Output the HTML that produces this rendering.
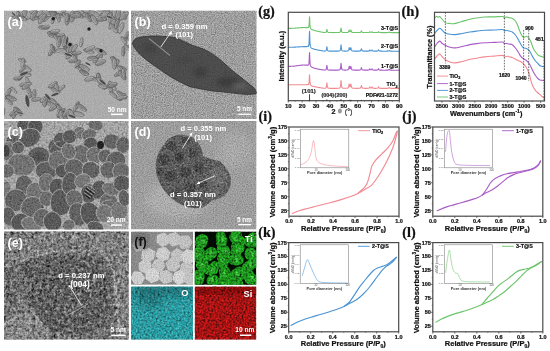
<!DOCTYPE html>
<html><head><meta charset="utf-8"><title>Figure</title>
<style>html,body{margin:0;padding:0;background:#fff;width:550px;height:351px;overflow:hidden}svg{display:block}.pl text{stroke:#111;stroke-width:0.22px;paint-order:stroke}</style>
</head><body>
<svg width="550" height="351" viewBox="0 0 550 351">
<defs>
<filter id="nz" x="0" y="0" width="100%" height="100%"><feTurbulence type="fractalNoise" baseFrequency="0.9" numOctaves="2" seed="3"/><feColorMatrix type="matrix" values="0 0 0 0 0  0 0 0 0 0  0 0 0 0 0  0.9 0.9 0.9 0 -1.1"/></filter>
<filter id="nzw" x="0" y="0" width="100%" height="100%"><feTurbulence type="fractalNoise" baseFrequency="0.9" numOctaves="2" seed="9"/><feColorMatrix type="matrix" values="0 0 0 0 1  0 0 0 0 1  0 0 0 0 1  0.9 0.9 0.9 0 -1.1"/></filter>
<filter id="nzc" x="0" y="0" width="100%" height="100%"><feTurbulence type="fractalNoise" baseFrequency="0.5" numOctaves="2" seed="5"/><feColorMatrix type="matrix" values="0 0 0 0 0  0 0 0 0 0  0 0 0 0 0  1.2 1.2 1.2 0 -1.55"/></filter>
<filter id="nzcw" x="0" y="0" width="100%" height="100%"><feTurbulence type="fractalNoise" baseFrequency="0.5" numOctaves="2" seed="11"/><feColorMatrix type="matrix" values="0 0 0 0 1  0 0 0 0 1  0 0 0 0 1  1.2 1.2 1.2 0 -1.55"/></filter>
<filter id="nzk" x="0" y="0" width="100%" height="100%"><feTurbulence type="fractalNoise" baseFrequency="0.28" numOctaves="3" seed="21"/><feColorMatrix type="matrix" values="0 0 0 0 0  0 0 0 0 0  0 0 0 0 0  1.3 1.3 1.3 0 -1.75"/></filter>
<filter id="nzkw" x="0" y="0" width="100%" height="100%"><feTurbulence type="fractalNoise" baseFrequency="0.28" numOctaves="3" seed="33"/><feColorMatrix type="matrix" values="0 0 0 0 1  0 0 0 0 1  0 0 0 0 1  1.3 1.3 1.3 0 -1.75"/></filter>
<filter id="blur07"><feGaussianBlur stdDeviation="0.7"/></filter>
<filter id="blur1"><feGaussianBlur stdDeviation="0.5"/></filter>
<filter id="blur15"><feGaussianBlur stdDeviation="1.1"/></filter>
<filter id="blur2"><feGaussianBlur stdDeviation="2"/></filter>
<filter id="blur4"><feGaussianBlur stdDeviation="5"/></filter>
<clipPath id="cpa"><rect x="4" y="10.5" width="124.7" height="108.5"/></clipPath>
<clipPath id="cpb"><rect x="131" y="10.5" width="125.7" height="108.5"/></clipPath>
<clipPath id="cpc"><rect x="4" y="121" width="124.7" height="108.5"/></clipPath>
<clipPath id="cpd"><rect x="131" y="121" width="125.5" height="108.5"/></clipPath>
<clipPath id="cpe"><rect x="4" y="231.6" width="124.7" height="108"/></clipPath>
<clipPath id="cpf1"><rect x="131" y="231.6" width="62" height="53.2"/></clipPath>
<clipPath id="cpf2"><rect x="194.7" y="231.6" width="61.6" height="53.2"/></clipPath>
<clipPath id="cpf3"><rect x="131" y="286.5" width="62" height="53.2"/></clipPath>
<clipPath id="cpf4"><rect x="194.7" y="286.5" width="61.6" height="53.2"/></clipPath>
</defs>
<rect width="550" height="351" fill="#fff"/>
<g clip-path="url(#cpa)"><rect x="4" y="10.5" width="124.7" height="108.5" fill="#b0b0b0"/>
<g transform="rotate(13 17.33 17.62)"><ellipse cx="17.33" cy="17.62" rx="5.07" ry="1.81" fill="rgb(121,121,121)" fill-opacity="0.8" stroke="#4e4e4e" stroke-width="0.6" stroke-opacity="0.85"/><path d="M13.27,18.17 Q17.33,20.34 21.38,18.17" fill="none" stroke="#f4f4f4" stroke-width="0.6" opacity="0.55"/></g>
<g transform="rotate(75 18.91 15.27)"><ellipse cx="18.91" cy="15.27" rx="4.48" ry="1.68" fill="rgb(121,121,121)" fill-opacity="0.8" stroke="#4e4e4e" stroke-width="0.6" stroke-opacity="0.85"/><path d="M15.33,15.78 Q18.91,17.79 22.5,15.78" fill="none" stroke="#f4f4f4" stroke-width="0.6" opacity="0.55"/></g>
<g transform="rotate(112 22.63 15.65)"><ellipse cx="22.63" cy="15.65" rx="5.9" ry="2.23" fill="rgb(143,143,143)" fill-opacity="0.8" stroke="#4e4e4e" stroke-width="0.6" stroke-opacity="0.85"/><path d="M17.92,16.32 Q22.63,18.99 27.35,16.32" fill="none" stroke="#f4f4f4" stroke-width="0.6" opacity="0.55"/></g>
<g transform="rotate(23 22.3 18.17)"><ellipse cx="22.3" cy="18.17" rx="4.84" ry="1.81" fill="rgb(137,137,137)" fill-opacity="0.8" stroke="#4e4e4e" stroke-width="0.6" stroke-opacity="0.85"/><path d="M18.43,18.71 Q22.3,20.89 26.17,18.71" fill="none" stroke="#f4f4f4" stroke-width="0.6" opacity="0.55"/></g>
<g transform="rotate(102 24.78 12.79)"><ellipse cx="24.78" cy="12.79" rx="4.38" ry="1.44" fill="rgb(122,122,122)" fill-opacity="0.8" stroke="#4e4e4e" stroke-width="0.6" stroke-opacity="0.85"/><path d="M21.28,13.23 Q24.78,14.96 28.28,13.23" fill="none" stroke="#f4f4f4" stroke-width="0.6" opacity="0.55"/></g>
<g transform="rotate(95 25.16 11.68)"><ellipse cx="25.16" cy="11.68" rx="5.55" ry="2.04" fill="rgb(147,147,147)" fill-opacity="0.8" stroke="#4e4e4e" stroke-width="0.6" stroke-opacity="0.85"/><path d="M20.72,12.29 Q25.16,14.73 29.61,12.29" fill="none" stroke="#f4f4f4" stroke-width="0.6" opacity="0.55"/></g>
<g transform="rotate(140 30.07 16.47)"><ellipse cx="30.07" cy="16.47" rx="4.16" ry="1.46" fill="rgb(149,149,149)" fill-opacity="0.8" stroke="#4e4e4e" stroke-width="0.6" stroke-opacity="0.85"/><path d="M26.74,16.9 Q30.07,18.65 33.4,16.9" fill="none" stroke="#f4f4f4" stroke-width="0.6" opacity="0.55"/></g>
<g transform="rotate(176 33.59 11.86)"><ellipse cx="33.59" cy="11.86" rx="4.24" ry="1.53" fill="rgb(139,139,139)" fill-opacity="0.8" stroke="#4e4e4e" stroke-width="0.6" stroke-opacity="0.85"/><path d="M30.2,12.32 Q33.59,14.16 36.97,12.32" fill="none" stroke="#f4f4f4" stroke-width="0.6" opacity="0.55"/></g>
<g transform="rotate(120 33.72 14.65)"><ellipse cx="33.72" cy="14.65" rx="5.53" ry="2.09" fill="rgb(138,138,138)" fill-opacity="0.8" stroke="#4e4e4e" stroke-width="0.6" stroke-opacity="0.85"/><path d="M29.29,15.27 Q33.72,17.78 38.14,15.27" fill="none" stroke="#f4f4f4" stroke-width="0.6" opacity="0.55"/></g>
<g transform="rotate(143 35.42 17.84)"><ellipse cx="35.42" cy="17.84" rx="4.14" ry="1.36" fill="rgb(135,135,135)" fill-opacity="0.8" stroke="#4e4e4e" stroke-width="0.6" stroke-opacity="0.85"/><path d="M32.11,18.25 Q35.42,19.88 38.73,18.25" fill="none" stroke="#f4f4f4" stroke-width="0.6" opacity="0.55"/></g>
<g transform="rotate(126 40.01 13.83)"><ellipse cx="40.01" cy="13.83" rx="5.29" ry="2.22" fill="rgb(146,146,146)" fill-opacity="0.8" stroke="#4e4e4e" stroke-width="0.6" stroke-opacity="0.85"/><path d="M35.78,14.5 Q40.01,17.16 44.25,14.5" fill="none" stroke="#f4f4f4" stroke-width="0.6" opacity="0.55"/></g>
<g transform="rotate(4 39 18.15)"><ellipse cx="39" cy="18.15" rx="4.92" ry="1.66" fill="rgb(125,125,125)" fill-opacity="0.8" stroke="#4e4e4e" stroke-width="0.6" stroke-opacity="0.85"/><path d="M35.06,18.65 Q39,20.64 42.94,18.65" fill="none" stroke="#f4f4f4" stroke-width="0.6" opacity="0.55"/></g>
<g transform="rotate(132 46.34 17.78)"><ellipse cx="46.34" cy="17.78" rx="4.8" ry="1.97" fill="rgb(149,149,149)" fill-opacity="0.8" stroke="#4e4e4e" stroke-width="0.6" stroke-opacity="0.85"/><path d="M42.5,18.37 Q46.34,20.74 50.17,18.37" fill="none" stroke="#f4f4f4" stroke-width="0.6" opacity="0.55"/></g>
<g transform="rotate(159 43.35 16.55)"><ellipse cx="43.35" cy="16.55" rx="5.64" ry="2.29" fill="rgb(135,135,135)" fill-opacity="0.8" stroke="#4e4e4e" stroke-width="0.6" stroke-opacity="0.85"/><path d="M38.84,17.24 Q43.35,19.99 47.86,17.24" fill="none" stroke="#f4f4f4" stroke-width="0.6" opacity="0.55"/></g>
<g transform="rotate(68 56.45 15.19)"><ellipse cx="56.45" cy="15.19" rx="4.46" ry="1.46" fill="rgb(127,127,127)" fill-opacity="0.8" stroke="#4e4e4e" stroke-width="0.6" stroke-opacity="0.85"/><path d="M52.88,15.63 Q56.45,17.38 60.02,15.63" fill="none" stroke="#f4f4f4" stroke-width="0.6" opacity="0.55"/></g>
<g transform="rotate(106 53.21 19.51)"><ellipse cx="53.21" cy="19.51" rx="4.53" ry="1.45" fill="rgb(144,144,144)" fill-opacity="0.8" stroke="#4e4e4e" stroke-width="0.6" stroke-opacity="0.85"/><path d="M49.59,19.95 Q53.21,21.69 56.83,19.95" fill="none" stroke="#f4f4f4" stroke-width="0.6" opacity="0.55"/></g>
<g transform="rotate(22 53.92 14.18)"><ellipse cx="53.92" cy="14.18" rx="5.72" ry="2.37" fill="rgb(121,121,121)" fill-opacity="0.8" stroke="#4e4e4e" stroke-width="0.6" stroke-opacity="0.85"/><path d="M49.35,14.9 Q53.92,17.74 58.5,14.9" fill="none" stroke="#f4f4f4" stroke-width="0.6" opacity="0.55"/></g>
<g transform="rotate(122 64.12 10.34)"><ellipse cx="64.12" cy="10.34" rx="5.12" ry="1.84" fill="rgb(143,143,143)" fill-opacity="0.8" stroke="#4e4e4e" stroke-width="0.6" stroke-opacity="0.85"/><path d="M60.02,10.89 Q64.12,13.1 68.21,10.89" fill="none" stroke="#f4f4f4" stroke-width="0.6" opacity="0.55"/></g>
<g transform="rotate(12 59.38 15.49)"><ellipse cx="59.38" cy="15.49" rx="4.42" ry="1.49" fill="rgb(139,139,139)" fill-opacity="0.8" stroke="#4e4e4e" stroke-width="0.6" stroke-opacity="0.85"/><path d="M55.85,15.94 Q59.38,17.72 62.92,15.94" fill="none" stroke="#f4f4f4" stroke-width="0.6" opacity="0.55"/></g>
<g transform="rotate(96 67.42 19.27)"><ellipse cx="67.42" cy="19.27" rx="5.9" ry="2.25" fill="rgb(122,122,122)" fill-opacity="0.8" stroke="#4e4e4e" stroke-width="0.6" stroke-opacity="0.85"/><path d="M62.7,19.95 Q67.42,22.65 72.14,19.95" fill="none" stroke="#f4f4f4" stroke-width="0.6" opacity="0.55"/></g>
<g transform="rotate(45 65.86 15.77)"><ellipse cx="65.86" cy="15.77" rx="4.69" ry="1.67" fill="rgb(125,125,125)" fill-opacity="0.8" stroke="#4e4e4e" stroke-width="0.6" stroke-opacity="0.85"/><path d="M62.1,16.27 Q65.86,18.28 69.61,16.27" fill="none" stroke="#f4f4f4" stroke-width="0.6" opacity="0.55"/></g>
<g transform="rotate(86 58.8 17.74)"><ellipse cx="58.8" cy="17.74" rx="4.62" ry="1.55" fill="rgb(139,139,139)" fill-opacity="0.8" stroke="#4e4e4e" stroke-width="0.6" stroke-opacity="0.85"/><path d="M55.11,18.2 Q58.8,20.06 62.5,18.2" fill="none" stroke="#f4f4f4" stroke-width="0.6" opacity="0.55"/></g>
<g transform="rotate(92 67.02 17.38)"><ellipse cx="67.02" cy="17.38" rx="4.41" ry="1.83" fill="rgb(141,141,141)" fill-opacity="0.8" stroke="#4e4e4e" stroke-width="0.6" stroke-opacity="0.85"/><path d="M63.5,17.93 Q67.02,20.13 70.55,17.93" fill="none" stroke="#f4f4f4" stroke-width="0.6" opacity="0.55"/></g>
<g transform="rotate(95 72.34 16.39)"><ellipse cx="72.34" cy="16.39" rx="5.96" ry="2.42" fill="rgb(134,134,134)" fill-opacity="0.8" stroke="#4e4e4e" stroke-width="0.6" stroke-opacity="0.85"/><path d="M67.57,17.11 Q72.34,20.02 77.1,17.11" fill="none" stroke="#f4f4f4" stroke-width="0.6" opacity="0.55"/></g>
<g transform="rotate(40 79.18 14.53)"><ellipse cx="79.18" cy="14.53" rx="5.08" ry="1.88" fill="rgb(132,132,132)" fill-opacity="0.8" stroke="#4e4e4e" stroke-width="0.6" stroke-opacity="0.85"/><path d="M75.12,15.09 Q79.18,17.35 83.25,15.09" fill="none" stroke="#f4f4f4" stroke-width="0.6" opacity="0.55"/></g>
<g transform="rotate(35 80.72 10.51)"><ellipse cx="80.72" cy="10.51" rx="4.48" ry="1.61" fill="rgb(132,132,132)" fill-opacity="0.8" stroke="#4e4e4e" stroke-width="0.6" stroke-opacity="0.85"/><path d="M77.13,10.99 Q80.72,12.93 84.3,10.99" fill="none" stroke="#f4f4f4" stroke-width="0.6" opacity="0.55"/></g>
<g transform="rotate(178 75.55 15.99)"><ellipse cx="75.55" cy="15.99" rx="5.58" ry="2.05" fill="rgb(130,130,130)" fill-opacity="0.8" stroke="#4e4e4e" stroke-width="0.6" stroke-opacity="0.85"/><path d="M71.08,16.6 Q75.55,19.06 80.01,16.6" fill="none" stroke="#f4f4f4" stroke-width="0.6" opacity="0.55"/></g>
<g transform="rotate(168 88.17 14.36)"><ellipse cx="88.17" cy="14.36" rx="5.98" ry="2.48" fill="rgb(141,141,141)" fill-opacity="0.8" stroke="#4e4e4e" stroke-width="0.6" stroke-opacity="0.85"/><path d="M83.38,15.11 Q88.17,18.09 92.95,15.11" fill="none" stroke="#f4f4f4" stroke-width="0.6" opacity="0.55"/></g>
<g transform="rotate(60 88.68 17.45)"><ellipse cx="88.68" cy="17.45" rx="4.97" ry="2.08" fill="rgb(118,118,118)" fill-opacity="0.8" stroke="#4e4e4e" stroke-width="0.6" stroke-opacity="0.85"/><path d="M84.7,18.08 Q88.68,20.57 92.65,18.08" fill="none" stroke="#f4f4f4" stroke-width="0.6" opacity="0.55"/></g>
<g transform="rotate(15 85.89 9.99)"><ellipse cx="85.89" cy="9.99" rx="5.32" ry="2.19" fill="rgb(130,130,130)" fill-opacity="0.8" stroke="#4e4e4e" stroke-width="0.6" stroke-opacity="0.85"/><path d="M81.63,10.64 Q85.89,13.27 90.14,10.64" fill="none" stroke="#f4f4f4" stroke-width="0.6" opacity="0.55"/></g>
<g transform="rotate(59 94.36 19.81)"><ellipse cx="94.36" cy="19.81" rx="5.6" ry="2.34" fill="rgb(143,143,143)" fill-opacity="0.8" stroke="#4e4e4e" stroke-width="0.6" stroke-opacity="0.85"/><path d="M89.87,20.51 Q94.36,23.31 98.84,20.51" fill="none" stroke="#f4f4f4" stroke-width="0.6" opacity="0.55"/></g>
<g transform="rotate(28 94.3 13.11)"><ellipse cx="94.3" cy="13.11" rx="5.99" ry="1.93" fill="rgb(147,147,147)" fill-opacity="0.8" stroke="#4e4e4e" stroke-width="0.6" stroke-opacity="0.85"/><path d="M89.51,13.69 Q94.3,16.01 99.09,13.69" fill="none" stroke="#f4f4f4" stroke-width="0.6" opacity="0.55"/></g>
<g transform="rotate(176 101.56 19.41)"><ellipse cx="101.56" cy="19.41" rx="5.31" ry="1.89" fill="rgb(126,126,126)" fill-opacity="0.8" stroke="#4e4e4e" stroke-width="0.6" stroke-opacity="0.85"/><path d="M97.31,19.97 Q101.56,22.24 105.81,19.97" fill="none" stroke="#f4f4f4" stroke-width="0.6" opacity="0.55"/></g>
<g transform="rotate(18 99.99 9.44)"><ellipse cx="99.99" cy="9.44" rx="5.5" ry="1.84" fill="rgb(130,130,130)" fill-opacity="0.8" stroke="#4e4e4e" stroke-width="0.6" stroke-opacity="0.85"/><path d="M95.59,9.99 Q99.99,12.19 104.39,9.99" fill="none" stroke="#f4f4f4" stroke-width="0.6" opacity="0.55"/></g>
<g transform="rotate(52 103.62 16.94)"><ellipse cx="103.62" cy="16.94" rx="4.48" ry="1.7" fill="rgb(134,134,134)" fill-opacity="0.8" stroke="#4e4e4e" stroke-width="0.6" stroke-opacity="0.85"/><path d="M100.03,17.45 Q103.62,19.48 107.2,17.45" fill="none" stroke="#f4f4f4" stroke-width="0.6" opacity="0.55"/></g>
<g transform="rotate(133 105.44 13.49)"><ellipse cx="105.44" cy="13.49" rx="5.8" ry="2.24" fill="rgb(151,151,151)" fill-opacity="0.8" stroke="#4e4e4e" stroke-width="0.6" stroke-opacity="0.85"/><path d="M100.81,14.16 Q105.44,16.85 110.08,14.16" fill="none" stroke="#f4f4f4" stroke-width="0.6" opacity="0.55"/></g>
<g transform="rotate(95 110.49 12.58)"><ellipse cx="110.49" cy="12.58" rx="5.05" ry="1.62" fill="rgb(146,146,146)" fill-opacity="0.8" stroke="#4e4e4e" stroke-width="0.6" stroke-opacity="0.85"/><path d="M106.46,13.06 Q110.49,15.01 114.53,13.06" fill="none" stroke="#f4f4f4" stroke-width="0.6" opacity="0.55"/></g>
<g transform="rotate(26 106.16 10.9)"><ellipse cx="106.16" cy="10.9" rx="4.28" ry="1.64" fill="rgb(125,125,125)" fill-opacity="0.8" stroke="#4e4e4e" stroke-width="0.6" stroke-opacity="0.85"/><path d="M102.74,11.39 Q106.16,13.35 109.59,11.39" fill="none" stroke="#f4f4f4" stroke-width="0.6" opacity="0.55"/></g>
<g transform="rotate(99 110.77 18.04)"><ellipse cx="110.77" cy="18.04" rx="5.57" ry="1.84" fill="rgb(121,121,121)" fill-opacity="0.8" stroke="#4e4e4e" stroke-width="0.6" stroke-opacity="0.85"/><path d="M106.31,18.6 Q110.77,20.8 115.22,18.6" fill="none" stroke="#f4f4f4" stroke-width="0.6" opacity="0.55"/></g>
<g transform="rotate(91 113.42 20.1)"><ellipse cx="113.42" cy="20.1" rx="5.12" ry="2.03" fill="rgb(122,122,122)" fill-opacity="0.8" stroke="#4e4e4e" stroke-width="0.6" stroke-opacity="0.85"/><path d="M109.33,20.7 Q113.42,23.14 117.52,20.7" fill="none" stroke="#f4f4f4" stroke-width="0.6" opacity="0.55"/></g>
<g transform="rotate(92 114.47 11.96)"><ellipse cx="114.47" cy="11.96" rx="5.39" ry="1.97" fill="rgb(152,152,152)" fill-opacity="0.8" stroke="#4e4e4e" stroke-width="0.6" stroke-opacity="0.85"/><path d="M110.17,12.55 Q114.47,14.91 118.78,12.55" fill="none" stroke="#f4f4f4" stroke-width="0.6" opacity="0.55"/></g>
<g transform="rotate(94 118.47 14.38)"><ellipse cx="118.47" cy="14.38" rx="5.75" ry="2.37" fill="rgb(130,130,130)" fill-opacity="0.8" stroke="#4e4e4e" stroke-width="0.6" stroke-opacity="0.85"/><path d="M113.87,15.09 Q118.47,17.94 123.08,15.09" fill="none" stroke="#f4f4f4" stroke-width="0.6" opacity="0.55"/></g>
<g transform="rotate(79 124.71 15.78)"><ellipse cx="124.71" cy="15.78" rx="4.15" ry="1.43" fill="rgb(122,122,122)" fill-opacity="0.8" stroke="#4e4e4e" stroke-width="0.6" stroke-opacity="0.85"/><path d="M121.4,16.2 Q124.71,17.91 128.03,16.2" fill="none" stroke="#f4f4f4" stroke-width="0.6" opacity="0.55"/></g>
<g transform="rotate(139 124.03 16.09)"><ellipse cx="124.03" cy="16.09" rx="5.88" ry="2.26" fill="rgb(141,141,141)" fill-opacity="0.8" stroke="#4e4e4e" stroke-width="0.6" stroke-opacity="0.85"/><path d="M119.32,16.77 Q124.03,19.48 128.73,16.77" fill="none" stroke="#f4f4f4" stroke-width="0.6" opacity="0.55"/></g>
<g transform="rotate(39 46.53 12.69)"><ellipse cx="46.53" cy="12.69" rx="5.91" ry="2.12" fill="rgb(149,149,149)" fill-opacity="0.8" stroke="#4e4e4e" stroke-width="0.6" stroke-opacity="0.85"/><path d="M41.8,13.32 Q46.53,15.87 51.25,13.32" fill="none" stroke="#f4f4f4" stroke-width="0.6" opacity="0.55"/></g>
<g transform="rotate(127 42.4 18.86)"><ellipse cx="42.4" cy="18.86" rx="5.99" ry="2.16" fill="rgb(144,144,144)" fill-opacity="0.8" stroke="#4e4e4e" stroke-width="0.6" stroke-opacity="0.85"/><path d="M37.61,19.5 Q42.4,22.09 47.19,19.5" fill="none" stroke="#f4f4f4" stroke-width="0.6" opacity="0.55"/></g>
<g transform="rotate(3 43.63 27.59)"><ellipse cx="43.63" cy="27.59" rx="5.11" ry="1.86" fill="rgb(119,119,119)" fill-opacity="0.8" stroke="#4e4e4e" stroke-width="0.6" stroke-opacity="0.85"/><path d="M39.54,28.15 Q43.63,30.38 47.71,28.15" fill="none" stroke="#f4f4f4" stroke-width="0.6" opacity="0.55"/></g>
<g transform="rotate(172 45.58 27.02)"><ellipse cx="45.58" cy="27.02" rx="4.23" ry="1.74" fill="rgb(132,132,132)" fill-opacity="0.8" stroke="#4e4e4e" stroke-width="0.6" stroke-opacity="0.85"/><path d="M42.2,27.54 Q45.58,29.63 48.96,27.54" fill="none" stroke="#f4f4f4" stroke-width="0.6" opacity="0.55"/></g>
<g transform="rotate(7 52.71 33.38)"><ellipse cx="52.71" cy="33.38" rx="5.56" ry="1.93" fill="rgb(126,126,126)" fill-opacity="0.8" stroke="#4e4e4e" stroke-width="0.6" stroke-opacity="0.85"/><path d="M48.26,33.96 Q52.71,36.27 57.16,33.96" fill="none" stroke="#f4f4f4" stroke-width="0.6" opacity="0.55"/></g>
<g transform="rotate(170 55.12 31.37)"><ellipse cx="55.12" cy="31.37" rx="4.81" ry="1.8" fill="rgb(150,150,150)" fill-opacity="0.8" stroke="#4e4e4e" stroke-width="0.6" stroke-opacity="0.85"/><path d="M51.27,31.91 Q55.12,34.07 58.97,31.91" fill="none" stroke="#f4f4f4" stroke-width="0.6" opacity="0.55"/></g>
<g transform="rotate(10 53.9 35.82)"><ellipse cx="53.9" cy="35.82" rx="5.38" ry="1.95" fill="rgb(122,122,122)" fill-opacity="0.8" stroke="#4e4e4e" stroke-width="0.6" stroke-opacity="0.85"/><path d="M49.6,36.41 Q53.9,38.75 58.2,36.41" fill="none" stroke="#f4f4f4" stroke-width="0.6" opacity="0.55"/></g>
<g transform="rotate(46 57.41 38.51)"><ellipse cx="57.41" cy="38.51" rx="5.22" ry="1.79" fill="rgb(134,134,134)" fill-opacity="0.8" stroke="#4e4e4e" stroke-width="0.6" stroke-opacity="0.85"/><path d="M53.24,39.04 Q57.41,41.19 61.59,39.04" fill="none" stroke="#f4f4f4" stroke-width="0.6" opacity="0.55"/></g>
<g transform="rotate(99 59.09 41.7)"><ellipse cx="59.09" cy="41.7" rx="5.85" ry="2.03" fill="rgb(126,126,126)" fill-opacity="0.8" stroke="#4e4e4e" stroke-width="0.6" stroke-opacity="0.85"/><path d="M54.41,42.31 Q59.09,44.75 63.77,42.31" fill="none" stroke="#f4f4f4" stroke-width="0.6" opacity="0.55"/></g>
<g transform="rotate(174 60.43 35.13)"><ellipse cx="60.43" cy="35.13" rx="4.52" ry="1.53" fill="rgb(137,137,137)" fill-opacity="0.8" stroke="#4e4e4e" stroke-width="0.6" stroke-opacity="0.85"/><path d="M56.81,35.59 Q60.43,37.42 64.05,35.59" fill="none" stroke="#f4f4f4" stroke-width="0.6" opacity="0.55"/></g>
<g transform="rotate(80 65.39 43.54)"><ellipse cx="65.39" cy="43.54" rx="5.34" ry="1.85" fill="rgb(119,119,119)" fill-opacity="0.8" stroke="#4e4e4e" stroke-width="0.6" stroke-opacity="0.85"/><path d="M61.12,44.09 Q65.39,46.32 69.67,44.09" fill="none" stroke="#f4f4f4" stroke-width="0.6" opacity="0.55"/></g>
<g transform="rotate(91 64.13 41.11)"><ellipse cx="64.13" cy="41.11" rx="5.96" ry="2.21" fill="rgb(133,133,133)" fill-opacity="0.8" stroke="#4e4e4e" stroke-width="0.6" stroke-opacity="0.85"/><path d="M59.36,41.77 Q64.13,44.43 68.89,41.77" fill="none" stroke="#f4f4f4" stroke-width="0.6" opacity="0.55"/></g>
<g transform="rotate(77 69.45 47.28)"><ellipse cx="69.45" cy="47.28" rx="4.99" ry="2.01" fill="rgb(143,143,143)" fill-opacity="0.8" stroke="#4e4e4e" stroke-width="0.6" stroke-opacity="0.85"/><path d="M65.46,47.88 Q69.45,50.3 73.44,47.88" fill="none" stroke="#f4f4f4" stroke-width="0.6" opacity="0.55"/></g>
<g transform="rotate(41 66.97 49.47)"><ellipse cx="66.97" cy="49.47" rx="4.4" ry="1.79" fill="rgb(126,126,126)" fill-opacity="0.8" stroke="#4e4e4e" stroke-width="0.6" stroke-opacity="0.85"/><path d="M63.45,50.01 Q66.97,52.17 70.49,50.01" fill="none" stroke="#f4f4f4" stroke-width="0.6" opacity="0.55"/></g>
<g transform="rotate(23 68 49.94)"><ellipse cx="68" cy="49.94" rx="4.14" ry="1.63" fill="rgb(134,134,134)" fill-opacity="0.8" stroke="#4e4e4e" stroke-width="0.6" stroke-opacity="0.85"/><path d="M64.68,50.43 Q68,52.38 71.31,50.43" fill="none" stroke="#f4f4f4" stroke-width="0.6" opacity="0.55"/></g>
<g transform="rotate(68 74.36 54.05)"><ellipse cx="74.36" cy="54.05" rx="5.01" ry="2.09" fill="rgb(133,133,133)" fill-opacity="0.8" stroke="#4e4e4e" stroke-width="0.6" stroke-opacity="0.85"/><path d="M70.35,54.68 Q74.36,57.19 78.37,54.68" fill="none" stroke="#f4f4f4" stroke-width="0.6" opacity="0.55"/></g>
<g transform="rotate(48 74.66 57.57)"><ellipse cx="74.66" cy="57.57" rx="4.01" ry="1.43" fill="rgb(139,139,139)" fill-opacity="0.8" stroke="#4e4e4e" stroke-width="0.6" stroke-opacity="0.85"/><path d="M71.45,57.99 Q74.66,59.71 77.86,57.99" fill="none" stroke="#f4f4f4" stroke-width="0.6" opacity="0.55"/></g>
<g transform="rotate(173 73.35 61.03)"><ellipse cx="73.35" cy="61.03" rx="4.62" ry="1.64" fill="rgb(118,118,118)" fill-opacity="0.8" stroke="#4e4e4e" stroke-width="0.6" stroke-opacity="0.85"/><path d="M69.65,61.52 Q73.35,63.49 77.04,61.52" fill="none" stroke="#f4f4f4" stroke-width="0.6" opacity="0.55"/></g>
<g transform="rotate(118 77.82 64)"><ellipse cx="77.82" cy="64" rx="4.5" ry="1.79" fill="rgb(123,123,123)" fill-opacity="0.8" stroke="#4e4e4e" stroke-width="0.6" stroke-opacity="0.85"/><path d="M74.22,64.53 Q77.82,66.68 81.41,64.53" fill="none" stroke="#f4f4f4" stroke-width="0.6" opacity="0.55"/></g>
<g transform="rotate(7 79.89 67.65)"><ellipse cx="79.89" cy="67.65" rx="4.04" ry="1.42" fill="rgb(132,132,132)" fill-opacity="0.8" stroke="#4e4e4e" stroke-width="0.6" stroke-opacity="0.85"/><path d="M76.66,68.07 Q79.89,69.77 83.13,68.07" fill="none" stroke="#f4f4f4" stroke-width="0.6" opacity="0.55"/></g>
<g transform="rotate(27 84.23 67.66)"><ellipse cx="84.23" cy="67.66" rx="5.79" ry="2.31" fill="rgb(142,142,142)" fill-opacity="0.8" stroke="#4e4e4e" stroke-width="0.6" stroke-opacity="0.85"/><path d="M79.6,68.35 Q84.23,71.12 88.86,68.35" fill="none" stroke="#f4f4f4" stroke-width="0.6" opacity="0.55"/></g>
<g transform="rotate(51 82.22 71.51)"><ellipse cx="82.22" cy="71.51" rx="5.24" ry="1.75" fill="rgb(150,150,150)" fill-opacity="0.8" stroke="#4e4e4e" stroke-width="0.6" stroke-opacity="0.85"/><path d="M78.03,72.04 Q82.22,74.14 86.41,72.04" fill="none" stroke="#f4f4f4" stroke-width="0.6" opacity="0.55"/></g>
<g transform="rotate(25 84.19 72.55)"><ellipse cx="84.19" cy="72.55" rx="5.05" ry="1.87" fill="rgb(119,119,119)" fill-opacity="0.8" stroke="#4e4e4e" stroke-width="0.6" stroke-opacity="0.85"/><path d="M80.15,73.11 Q84.19,75.36 88.22,73.11" fill="none" stroke="#f4f4f4" stroke-width="0.6" opacity="0.55"/></g>
<g transform="rotate(122 51.73 51.23)"><ellipse cx="51.73" cy="51.23" rx="5.39" ry="1.85" fill="rgb(119,119,119)" fill-opacity="0.8" stroke="#4e4e4e" stroke-width="0.6" stroke-opacity="0.85"/><path d="M47.43,51.78 Q51.73,54 56.04,51.78" fill="none" stroke="#f4f4f4" stroke-width="0.6" opacity="0.55"/></g>
<g transform="rotate(67 52.92 48.59)"><ellipse cx="52.92" cy="48.59" rx="4.9" ry="1.59" fill="rgb(119,119,119)" fill-opacity="0.8" stroke="#4e4e4e" stroke-width="0.6" stroke-opacity="0.85"/><path d="M49,49.06 Q52.92,50.98 56.84,49.06" fill="none" stroke="#f4f4f4" stroke-width="0.6" opacity="0.55"/></g>
<g transform="rotate(0 61.21 50.67)"><ellipse cx="61.21" cy="50.67" rx="5.6" ry="2.21" fill="rgb(150,150,150)" fill-opacity="0.8" stroke="#4e4e4e" stroke-width="0.6" stroke-opacity="0.85"/><path d="M56.73,51.33 Q61.21,53.98 65.69,51.33" fill="none" stroke="#f4f4f4" stroke-width="0.6" opacity="0.55"/></g>
<g transform="rotate(134 69.61 55.39)"><ellipse cx="69.61" cy="55.39" rx="4.95" ry="1.98" fill="rgb(134,134,134)" fill-opacity="0.8" stroke="#4e4e4e" stroke-width="0.6" stroke-opacity="0.85"/><path d="M65.65,55.99 Q69.61,58.37 73.57,55.99" fill="none" stroke="#f4f4f4" stroke-width="0.6" opacity="0.55"/></g>
<g transform="rotate(116 67.65 51.11)"><ellipse cx="67.65" cy="51.11" rx="4.92" ry="1.99" fill="rgb(122,122,122)" fill-opacity="0.8" stroke="#4e4e4e" stroke-width="0.6" stroke-opacity="0.85"/><path d="M63.72,51.71 Q67.65,54.09 71.59,51.71" fill="none" stroke="#f4f4f4" stroke-width="0.6" opacity="0.55"/></g>
<g transform="rotate(111 69.27 48.18)"><ellipse cx="69.27" cy="48.18" rx="5.29" ry="1.73" fill="rgb(127,127,127)" fill-opacity="0.8" stroke="#4e4e4e" stroke-width="0.6" stroke-opacity="0.85"/><path d="M65.05,48.7 Q69.27,50.78 73.5,48.7" fill="none" stroke="#f4f4f4" stroke-width="0.6" opacity="0.55"/></g>
<g transform="rotate(111 71.26 48.82)"><ellipse cx="71.26" cy="48.82" rx="4.27" ry="1.57" fill="rgb(149,149,149)" fill-opacity="0.8" stroke="#4e4e4e" stroke-width="0.6" stroke-opacity="0.85"/><path d="M67.85,49.29 Q71.26,51.18 74.68,49.29" fill="none" stroke="#f4f4f4" stroke-width="0.6" opacity="0.55"/></g>
<g transform="rotate(121 74.62 48.2)"><ellipse cx="74.62" cy="48.2" rx="4.58" ry="1.7" fill="rgb(147,147,147)" fill-opacity="0.8" stroke="#4e4e4e" stroke-width="0.6" stroke-opacity="0.85"/><path d="M70.95,48.71 Q74.62,50.75 78.28,48.71" fill="none" stroke="#f4f4f4" stroke-width="0.6" opacity="0.55"/></g>
<g transform="rotate(98 81.44 42.42)"><ellipse cx="81.44" cy="42.42" rx="4.62" ry="1.52" fill="rgb(148,148,148)" fill-opacity="0.8" stroke="#4e4e4e" stroke-width="0.6" stroke-opacity="0.85"/><path d="M77.74,42.88 Q81.44,44.7 85.14,42.88" fill="none" stroke="#f4f4f4" stroke-width="0.6" opacity="0.55"/></g>
<g transform="rotate(174 76.72 53.09)"><ellipse cx="76.72" cy="53.09" rx="4.9" ry="1.7" fill="rgb(131,131,131)" fill-opacity="0.8" stroke="#4e4e4e" stroke-width="0.6" stroke-opacity="0.85"/><path d="M72.81,53.6 Q76.72,55.64 80.64,53.6" fill="none" stroke="#f4f4f4" stroke-width="0.6" opacity="0.55"/></g>
<g transform="rotate(16 88.9 51.26)"><ellipse cx="88.9" cy="51.26" rx="5.49" ry="1.9" fill="rgb(141,141,141)" fill-opacity="0.8" stroke="#4e4e4e" stroke-width="0.6" stroke-opacity="0.85"/><path d="M84.51,51.84 Q88.9,54.12 93.3,51.84" fill="none" stroke="#f4f4f4" stroke-width="0.6" opacity="0.55"/></g>
<g transform="rotate(159 90.01 48.66)"><ellipse cx="90.01" cy="48.66" rx="5.41" ry="1.86" fill="rgb(149,149,149)" fill-opacity="0.8" stroke="#4e4e4e" stroke-width="0.6" stroke-opacity="0.85"/><path d="M85.68,49.22 Q90.01,51.44 94.33,49.22" fill="none" stroke="#f4f4f4" stroke-width="0.6" opacity="0.55"/></g>
<g transform="rotate(122 96.23 58.82)"><ellipse cx="96.23" cy="58.82" rx="4.81" ry="1.89" fill="rgb(144,144,144)" fill-opacity="0.8" stroke="#4e4e4e" stroke-width="0.6" stroke-opacity="0.85"/><path d="M92.39,59.39 Q96.23,61.65 100.08,59.39" fill="none" stroke="#f4f4f4" stroke-width="0.6" opacity="0.55"/></g>
<g transform="rotate(0 92.79 58.47)"><ellipse cx="92.79" cy="58.47" rx="5.5" ry="2.22" fill="rgb(125,125,125)" fill-opacity="0.8" stroke="#4e4e4e" stroke-width="0.6" stroke-opacity="0.85"/><path d="M88.39,59.14 Q92.79,61.8 97.19,59.14" fill="none" stroke="#f4f4f4" stroke-width="0.6" opacity="0.55"/></g>
<g transform="rotate(133 100.05 54.6)"><ellipse cx="100.05" cy="54.6" rx="4.51" ry="1.47" fill="rgb(142,142,142)" fill-opacity="0.8" stroke="#4e4e4e" stroke-width="0.6" stroke-opacity="0.85"/><path d="M96.44,55.04 Q100.05,56.8 103.65,55.04" fill="none" stroke="#f4f4f4" stroke-width="0.6" opacity="0.55"/></g>
<g transform="rotate(77 100.57 53.49)"><ellipse cx="100.57" cy="53.49" rx="4.55" ry="1.48" fill="rgb(124,124,124)" fill-opacity="0.8" stroke="#4e4e4e" stroke-width="0.6" stroke-opacity="0.85"/><path d="M96.93,53.93 Q100.57,55.71 104.21,53.93" fill="none" stroke="#f4f4f4" stroke-width="0.6" opacity="0.55"/></g>
<g transform="rotate(26 100.86 51.48)"><ellipse cx="100.86" cy="51.48" rx="5.94" ry="2.16" fill="rgb(138,138,138)" fill-opacity="0.8" stroke="#4e4e4e" stroke-width="0.6" stroke-opacity="0.85"/><path d="M96.11,52.12 Q100.86,54.72 105.62,52.12" fill="none" stroke="#f4f4f4" stroke-width="0.6" opacity="0.55"/></g>
<g transform="rotate(159 100.57 62.64)"><ellipse cx="100.57" cy="62.64" rx="5.62" ry="2.15" fill="rgb(131,131,131)" fill-opacity="0.8" stroke="#4e4e4e" stroke-width="0.6" stroke-opacity="0.85"/><path d="M96.07,63.28 Q100.57,65.87 105.06,63.28" fill="none" stroke="#f4f4f4" stroke-width="0.6" opacity="0.55"/></g>
<g transform="rotate(81 114.1 61.69)"><ellipse cx="114.1" cy="61.69" rx="5.51" ry="2.12" fill="rgb(136,136,136)" fill-opacity="0.8" stroke="#4e4e4e" stroke-width="0.6" stroke-opacity="0.85"/><path d="M109.7,62.32 Q114.1,64.86 118.51,62.32" fill="none" stroke="#f4f4f4" stroke-width="0.6" opacity="0.55"/></g>
<g transform="rotate(30 114.52 59.67)"><ellipse cx="114.52" cy="59.67" rx="4.83" ry="1.68" fill="rgb(134,134,134)" fill-opacity="0.8" stroke="#4e4e4e" stroke-width="0.6" stroke-opacity="0.85"/><path d="M110.65,60.17 Q114.52,62.19 118.38,60.17" fill="none" stroke="#f4f4f4" stroke-width="0.6" opacity="0.55"/></g>
<g transform="rotate(118 116.58 63.71)"><ellipse cx="116.58" cy="63.71" rx="4.6" ry="1.73" fill="rgb(143,143,143)" fill-opacity="0.8" stroke="#4e4e4e" stroke-width="0.6" stroke-opacity="0.85"/><path d="M112.9,64.23 Q116.58,66.31 120.27,64.23" fill="none" stroke="#f4f4f4" stroke-width="0.6" opacity="0.55"/></g>
<g transform="rotate(90 114.45 63.86)"><ellipse cx="114.45" cy="63.86" rx="5.62" ry="2.11" fill="rgb(146,146,146)" fill-opacity="0.8" stroke="#4e4e4e" stroke-width="0.6" stroke-opacity="0.85"/><path d="M109.95,64.49 Q114.45,67.02 118.95,64.49" fill="none" stroke="#f4f4f4" stroke-width="0.6" opacity="0.55"/></g>
<g transform="rotate(25 122.73 68.13)"><ellipse cx="122.73" cy="68.13" rx="4.38" ry="1.44" fill="rgb(139,139,139)" fill-opacity="0.8" stroke="#4e4e4e" stroke-width="0.6" stroke-opacity="0.85"/><path d="M119.22,68.56 Q122.73,70.29 126.24,68.56" fill="none" stroke="#f4f4f4" stroke-width="0.6" opacity="0.55"/></g>
<g transform="rotate(145 119.24 72.49)"><ellipse cx="119.24" cy="72.49" rx="4.4" ry="1.42" fill="rgb(144,144,144)" fill-opacity="0.8" stroke="#4e4e4e" stroke-width="0.6" stroke-opacity="0.85"/><path d="M115.72,72.92 Q119.24,74.62 122.76,72.92" fill="none" stroke="#f4f4f4" stroke-width="0.6" opacity="0.55"/></g>
<g transform="rotate(48 121.54 70.08)"><ellipse cx="121.54" cy="70.08" rx="5.5" ry="2.04" fill="rgb(141,141,141)" fill-opacity="0.8" stroke="#4e4e4e" stroke-width="0.6" stroke-opacity="0.85"/><path d="M117.14,70.69 Q121.54,73.13 125.95,70.69" fill="none" stroke="#f4f4f4" stroke-width="0.6" opacity="0.55"/></g>
<g transform="rotate(155 118.4 74.08)"><ellipse cx="118.4" cy="74.08" rx="4.43" ry="1.54" fill="rgb(133,133,133)" fill-opacity="0.8" stroke="#4e4e4e" stroke-width="0.6" stroke-opacity="0.85"/><path d="M114.85,74.54 Q118.4,76.38 121.94,74.54" fill="none" stroke="#f4f4f4" stroke-width="0.6" opacity="0.55"/></g>
<g transform="rotate(56 122.42 75.07)"><ellipse cx="122.42" cy="75.07" rx="5.63" ry="2.35" fill="rgb(126,126,126)" fill-opacity="0.8" stroke="#4e4e4e" stroke-width="0.6" stroke-opacity="0.85"/><path d="M117.92,75.77 Q122.42,78.59 126.93,75.77" fill="none" stroke="#f4f4f4" stroke-width="0.6" opacity="0.55"/></g>
<g transform="rotate(85 123.66 73.19)"><ellipse cx="123.66" cy="73.19" rx="5.17" ry="1.66" fill="rgb(143,143,143)" fill-opacity="0.8" stroke="#4e4e4e" stroke-width="0.6" stroke-opacity="0.85"/><path d="M119.52,73.69 Q123.66,75.67 127.8,73.69" fill="none" stroke="#f4f4f4" stroke-width="0.6" opacity="0.55"/></g>
<g transform="rotate(84 98.65 77.53)"><ellipse cx="98.65" cy="77.53" rx="4.9" ry="1.95" fill="rgb(132,132,132)" fill-opacity="0.8" stroke="#4e4e4e" stroke-width="0.6" stroke-opacity="0.85"/><path d="M94.73,78.12 Q98.65,80.46 102.57,78.12" fill="none" stroke="#f4f4f4" stroke-width="0.6" opacity="0.55"/></g>
<g transform="rotate(169 89.83 78.88)"><ellipse cx="89.83" cy="78.88" rx="5.44" ry="2.09" fill="rgb(147,147,147)" fill-opacity="0.8" stroke="#4e4e4e" stroke-width="0.6" stroke-opacity="0.85"/><path d="M85.48,79.5 Q89.83,82.02 94.19,79.5" fill="none" stroke="#f4f4f4" stroke-width="0.6" opacity="0.55"/></g>
<g transform="rotate(22 97.54 80.21)"><ellipse cx="97.54" cy="80.21" rx="5.14" ry="1.66" fill="rgb(137,137,137)" fill-opacity="0.8" stroke="#4e4e4e" stroke-width="0.6" stroke-opacity="0.85"/><path d="M93.43,80.71 Q97.54,82.71 101.65,80.71" fill="none" stroke="#f4f4f4" stroke-width="0.6" opacity="0.55"/></g>
<g transform="rotate(78 99.02 78.77)"><ellipse cx="99.02" cy="78.77" rx="5.53" ry="1.82" fill="rgb(137,137,137)" fill-opacity="0.8" stroke="#4e4e4e" stroke-width="0.6" stroke-opacity="0.85"/><path d="M94.6,79.32 Q99.02,81.51 103.45,79.32" fill="none" stroke="#f4f4f4" stroke-width="0.6" opacity="0.55"/></g>
<g transform="rotate(40 100.4 80.6)"><ellipse cx="100.4" cy="80.6" rx="5.2" ry="1.67" fill="rgb(137,137,137)" fill-opacity="0.8" stroke="#4e4e4e" stroke-width="0.6" stroke-opacity="0.85"/><path d="M96.24,81.11 Q100.4,83.11 104.56,81.11" fill="none" stroke="#f4f4f4" stroke-width="0.6" opacity="0.55"/></g>
<g transform="rotate(151 106.54 86.67)"><ellipse cx="106.54" cy="86.67" rx="4.48" ry="1.67" fill="rgb(133,133,133)" fill-opacity="0.8" stroke="#4e4e4e" stroke-width="0.6" stroke-opacity="0.85"/><path d="M102.95,87.17 Q106.54,89.17 110.13,87.17" fill="none" stroke="#f4f4f4" stroke-width="0.6" opacity="0.55"/></g>
<g transform="rotate(9 102.75 86.35)"><ellipse cx="102.75" cy="86.35" rx="4.39" ry="1.79" fill="rgb(144,144,144)" fill-opacity="0.8" stroke="#4e4e4e" stroke-width="0.6" stroke-opacity="0.85"/><path d="M99.24,86.88 Q102.75,89.04 106.26,86.88" fill="none" stroke="#f4f4f4" stroke-width="0.6" opacity="0.55"/></g>
<g transform="rotate(66 110.29 88.21)"><ellipse cx="110.29" cy="88.21" rx="4.99" ry="1.94" fill="rgb(144,144,144)" fill-opacity="0.8" stroke="#4e4e4e" stroke-width="0.6" stroke-opacity="0.85"/><path d="M106.3,88.79 Q110.29,91.12 114.28,88.79" fill="none" stroke="#f4f4f4" stroke-width="0.6" opacity="0.55"/></g>
<g transform="rotate(52 112.57 85.76)"><ellipse cx="112.57" cy="85.76" rx="5.69" ry="1.86" fill="rgb(149,149,149)" fill-opacity="0.8" stroke="#4e4e4e" stroke-width="0.6" stroke-opacity="0.85"/><path d="M108.02,86.31 Q112.57,88.55 117.12,86.31" fill="none" stroke="#f4f4f4" stroke-width="0.6" opacity="0.55"/></g>
<g transform="rotate(41 113.32 94.61)"><ellipse cx="113.32" cy="94.61" rx="4.44" ry="1.76" fill="rgb(136,136,136)" fill-opacity="0.8" stroke="#4e4e4e" stroke-width="0.6" stroke-opacity="0.85"/><path d="M109.76,95.14 Q113.32,97.25 116.87,95.14" fill="none" stroke="#f4f4f4" stroke-width="0.6" opacity="0.55"/></g>
<g transform="rotate(161 112.57 85.23)"><ellipse cx="112.57" cy="85.23" rx="4.97" ry="2.04" fill="rgb(121,121,121)" fill-opacity="0.8" stroke="#4e4e4e" stroke-width="0.6" stroke-opacity="0.85"/><path d="M108.59,85.84 Q112.57,88.29 116.54,85.84" fill="none" stroke="#f4f4f4" stroke-width="0.6" opacity="0.55"/></g>
<g transform="rotate(38 121.63 94.92)"><ellipse cx="121.63" cy="94.92" rx="5.95" ry="1.99" fill="rgb(121,121,121)" fill-opacity="0.8" stroke="#4e4e4e" stroke-width="0.6" stroke-opacity="0.85"/><path d="M116.88,95.51 Q121.63,97.9 126.39,95.51" fill="none" stroke="#f4f4f4" stroke-width="0.6" opacity="0.55"/></g>
<g transform="rotate(128 122.43 97.05)"><ellipse cx="122.43" cy="97.05" rx="4.63" ry="1.53" fill="rgb(123,123,123)" fill-opacity="0.8" stroke="#4e4e4e" stroke-width="0.6" stroke-opacity="0.85"/><path d="M118.72,97.51 Q122.43,99.35 126.13,97.51" fill="none" stroke="#f4f4f4" stroke-width="0.6" opacity="0.55"/></g>
<g transform="rotate(168 121.97 97.7)"><ellipse cx="121.97" cy="97.7" rx="5.49" ry="1.78" fill="rgb(142,142,142)" fill-opacity="0.8" stroke="#4e4e4e" stroke-width="0.6" stroke-opacity="0.85"/><path d="M117.58,98.23 Q121.97,100.36 126.37,98.23" fill="none" stroke="#f4f4f4" stroke-width="0.6" opacity="0.55"/></g>
<g transform="rotate(19 22.2 60.45)"><ellipse cx="22.2" cy="60.45" rx="4.16" ry="1.36" fill="rgb(144,144,144)" fill-opacity="0.8" stroke="#4e4e4e" stroke-width="0.6" stroke-opacity="0.85"/><path d="M18.87,60.86 Q22.2,62.49 25.52,60.86" fill="none" stroke="#f4f4f4" stroke-width="0.6" opacity="0.55"/></g>
<g transform="rotate(37 27.38 68.35)"><ellipse cx="27.38" cy="68.35" rx="4.71" ry="1.9" fill="rgb(145,145,145)" fill-opacity="0.8" stroke="#4e4e4e" stroke-width="0.6" stroke-opacity="0.85"/><path d="M23.61,68.92 Q27.38,71.19 31.15,68.92" fill="none" stroke="#f4f4f4" stroke-width="0.6" opacity="0.55"/></g>
<g transform="rotate(97 22.92 62.88)"><ellipse cx="22.92" cy="62.88" rx="4.89" ry="1.72" fill="rgb(148,148,148)" fill-opacity="0.8" stroke="#4e4e4e" stroke-width="0.6" stroke-opacity="0.85"/><path d="M19.01,63.39 Q22.92,65.46 26.83,63.39" fill="none" stroke="#f4f4f4" stroke-width="0.6" opacity="0.55"/></g>
<g transform="rotate(138 22.47 69.53)"><ellipse cx="22.47" cy="69.53" rx="4.08" ry="1.32" fill="rgb(122,122,122)" fill-opacity="0.8" stroke="#4e4e4e" stroke-width="0.6" stroke-opacity="0.85"/><path d="M19.21,69.93 Q22.47,71.51 25.74,69.93" fill="none" stroke="#f4f4f4" stroke-width="0.6" opacity="0.55"/></g>
<g transform="rotate(11 26.25 74.15)"><ellipse cx="26.25" cy="74.15" rx="5.21" ry="1.86" fill="rgb(139,139,139)" fill-opacity="0.8" stroke="#4e4e4e" stroke-width="0.6" stroke-opacity="0.85"/><path d="M22.08,74.71 Q26.25,76.93 30.42,74.71" fill="none" stroke="#f4f4f4" stroke-width="0.6" opacity="0.55"/></g>
<g transform="rotate(128 21.2 76.64)"><ellipse cx="21.2" cy="76.64" rx="4.63" ry="1.61" fill="rgb(118,118,118)" fill-opacity="0.8" stroke="#4e4e4e" stroke-width="0.6" stroke-opacity="0.85"/><path d="M17.49,77.12 Q21.2,79.05 24.9,77.12" fill="none" stroke="#f4f4f4" stroke-width="0.6" opacity="0.55"/></g>
<g transform="rotate(170 17.54 78.31)"><ellipse cx="17.54" cy="78.31" rx="4.13" ry="1.66" fill="rgb(124,124,124)" fill-opacity="0.8" stroke="#4e4e4e" stroke-width="0.6" stroke-opacity="0.85"/><path d="M14.24,78.81 Q17.54,80.81 20.85,78.81" fill="none" stroke="#f4f4f4" stroke-width="0.6" opacity="0.55"/></g>
<g transform="rotate(69 27.72 81.41)"><ellipse cx="27.72" cy="81.41" rx="4.5" ry="1.63" fill="rgb(149,149,149)" fill-opacity="0.8" stroke="#4e4e4e" stroke-width="0.6" stroke-opacity="0.85"/><path d="M24.12,81.9 Q27.72,83.87 31.33,81.9" fill="none" stroke="#f4f4f4" stroke-width="0.6" opacity="0.55"/></g>
<g transform="rotate(167 23.97 84.58)"><ellipse cx="23.97" cy="84.58" rx="4.61" ry="1.79" fill="rgb(127,127,127)" fill-opacity="0.8" stroke="#4e4e4e" stroke-width="0.6" stroke-opacity="0.85"/><path d="M20.28,85.12 Q23.97,87.27 27.65,85.12" fill="none" stroke="#f4f4f4" stroke-width="0.6" opacity="0.55"/></g>
<g transform="rotate(65 28.44 89.93)"><ellipse cx="28.44" cy="89.93" rx="5.56" ry="1.82" fill="rgb(130,130,130)" fill-opacity="0.8" stroke="#4e4e4e" stroke-width="0.6" stroke-opacity="0.85"/><path d="M23.99,90.48 Q28.44,92.66 32.89,90.48" fill="none" stroke="#f4f4f4" stroke-width="0.6" opacity="0.55"/></g>
<g transform="rotate(116 8.5 92.61)"><ellipse cx="8.5" cy="92.61" rx="4.96" ry="1.86" fill="rgb(128,128,128)" fill-opacity="0.8" stroke="#4e4e4e" stroke-width="0.6" stroke-opacity="0.85"/><path d="M4.53,93.17 Q8.5,95.4 12.47,93.17" fill="none" stroke="#f4f4f4" stroke-width="0.6" opacity="0.55"/></g>
<g transform="rotate(47 13.86 90.09)"><ellipse cx="13.86" cy="90.09" rx="4.17" ry="1.37" fill="rgb(149,149,149)" fill-opacity="0.8" stroke="#4e4e4e" stroke-width="0.6" stroke-opacity="0.85"/><path d="M10.53,90.51 Q13.86,92.15 17.2,90.51" fill="none" stroke="#f4f4f4" stroke-width="0.6" opacity="0.55"/></g>
<g transform="rotate(23 10.1 98.45)"><ellipse cx="10.1" cy="98.45" rx="4.92" ry="2.01" fill="rgb(133,133,133)" fill-opacity="0.8" stroke="#4e4e4e" stroke-width="0.6" stroke-opacity="0.85"/><path d="M6.16,99.05 Q10.1,101.47 14.04,99.05" fill="none" stroke="#f4f4f4" stroke-width="0.6" opacity="0.55"/></g>
<g transform="rotate(21 11.17 97.94)"><ellipse cx="11.17" cy="97.94" rx="5.68" ry="1.99" fill="rgb(135,135,135)" fill-opacity="0.8" stroke="#4e4e4e" stroke-width="0.6" stroke-opacity="0.85"/><path d="M6.62,98.54 Q11.17,100.92 15.71,98.54" fill="none" stroke="#f4f4f4" stroke-width="0.6" opacity="0.55"/></g>
<g transform="rotate(44 9.1 101.45)"><ellipse cx="9.1" cy="101.45" rx="4.49" ry="1.51" fill="rgb(130,130,130)" fill-opacity="0.8" stroke="#4e4e4e" stroke-width="0.6" stroke-opacity="0.85"/><path d="M5.51,101.91 Q9.1,103.71 12.69,101.91" fill="none" stroke="#f4f4f4" stroke-width="0.6" opacity="0.55"/></g>
<g transform="rotate(91 3.06 111.48)"><ellipse cx="3.06" cy="111.48" rx="4.46" ry="1.79" fill="rgb(147,147,147)" fill-opacity="0.8" stroke="#4e4e4e" stroke-width="0.6" stroke-opacity="0.85"/><path d="M-0.51,112.02 Q3.06,114.17 6.63,112.02" fill="none" stroke="#f4f4f4" stroke-width="0.6" opacity="0.55"/></g>
<g transform="rotate(147 14.68 112.62)"><ellipse cx="14.68" cy="112.62" rx="5.68" ry="2.34" fill="rgb(120,120,120)" fill-opacity="0.8" stroke="#4e4e4e" stroke-width="0.6" stroke-opacity="0.85"/><path d="M10.13,113.32 Q14.68,116.13 19.22,113.32" fill="none" stroke="#f4f4f4" stroke-width="0.6" opacity="0.55"/></g>
<g transform="rotate(108 14.75 113.27)"><ellipse cx="14.75" cy="113.27" rx="5.66" ry="1.92" fill="rgb(122,122,122)" fill-opacity="0.8" stroke="#4e4e4e" stroke-width="0.6" stroke-opacity="0.85"/><path d="M10.23,113.85 Q14.75,116.15 19.28,113.85" fill="none" stroke="#f4f4f4" stroke-width="0.6" opacity="0.55"/></g>
<g transform="rotate(46 17.99 111.12)"><ellipse cx="17.99" cy="111.12" rx="5.56" ry="2.3" fill="rgb(124,124,124)" fill-opacity="0.8" stroke="#4e4e4e" stroke-width="0.6" stroke-opacity="0.85"/><path d="M13.54,111.81 Q17.99,114.57 22.43,111.81" fill="none" stroke="#f4f4f4" stroke-width="0.6" opacity="0.55"/></g>
<g transform="rotate(6 18.88 113.21)"><ellipse cx="18.88" cy="113.21" rx="4.68" ry="1.52" fill="rgb(134,134,134)" fill-opacity="0.8" stroke="#4e4e4e" stroke-width="0.6" stroke-opacity="0.85"/><path d="M15.13,113.67 Q18.88,115.49 22.62,113.67" fill="none" stroke="#f4f4f4" stroke-width="0.6" opacity="0.55"/></g>
<g transform="rotate(146 26.76 85.85)"><ellipse cx="26.76" cy="85.85" rx="5.64" ry="2.03" fill="rgb(141,141,141)" fill-opacity="0.8" stroke="#4e4e4e" stroke-width="0.6" stroke-opacity="0.85"/><path d="M22.25,86.46 Q26.76,88.9 31.27,86.46" fill="none" stroke="#f4f4f4" stroke-width="0.6" opacity="0.55"/></g>
<g transform="rotate(143 29.84 95.87)"><ellipse cx="29.84" cy="95.87" rx="5.1" ry="1.66" fill="rgb(124,124,124)" fill-opacity="0.8" stroke="#4e4e4e" stroke-width="0.6" stroke-opacity="0.85"/><path d="M25.76,96.37 Q29.84,98.36 33.92,96.37" fill="none" stroke="#f4f4f4" stroke-width="0.6" opacity="0.55"/></g>
<g transform="rotate(96 34.08 94.68)"><ellipse cx="34.08" cy="94.68" rx="5.31" ry="1.91" fill="rgb(135,135,135)" fill-opacity="0.8" stroke="#4e4e4e" stroke-width="0.6" stroke-opacity="0.85"/><path d="M29.84,95.25 Q34.08,97.54 38.33,95.25" fill="none" stroke="#f4f4f4" stroke-width="0.6" opacity="0.55"/></g>
<g transform="rotate(171 36.11 99.51)"><ellipse cx="36.11" cy="99.51" rx="4.62" ry="1.74" fill="rgb(140,140,140)" fill-opacity="0.8" stroke="#4e4e4e" stroke-width="0.6" stroke-opacity="0.85"/><path d="M32.41,100.04 Q36.11,102.13 39.81,100.04" fill="none" stroke="#f4f4f4" stroke-width="0.6" opacity="0.55"/></g>
<g transform="rotate(144 44.45 98.94)"><ellipse cx="44.45" cy="98.94" rx="5.29" ry="1.9" fill="rgb(143,143,143)" fill-opacity="0.8" stroke="#4e4e4e" stroke-width="0.6" stroke-opacity="0.85"/><path d="M40.22,99.51 Q44.45,101.78 48.68,99.51" fill="none" stroke="#f4f4f4" stroke-width="0.6" opacity="0.55"/></g>
<g transform="rotate(76 47.96 99.65)"><ellipse cx="47.96" cy="99.65" rx="5.64" ry="2.03" fill="rgb(141,141,141)" fill-opacity="0.8" stroke="#4e4e4e" stroke-width="0.6" stroke-opacity="0.85"/><path d="M43.45,100.27 Q47.96,102.71 52.47,100.27" fill="none" stroke="#f4f4f4" stroke-width="0.6" opacity="0.55"/></g>
<g transform="rotate(99 45.18 101.55)"><ellipse cx="45.18" cy="101.55" rx="5.28" ry="2.17" fill="rgb(123,123,123)" fill-opacity="0.8" stroke="#4e4e4e" stroke-width="0.6" stroke-opacity="0.85"/><path d="M40.95,102.21 Q45.18,104.81 49.4,102.21" fill="none" stroke="#f4f4f4" stroke-width="0.6" opacity="0.55"/></g>
<g transform="rotate(30 52.32 100.45)"><ellipse cx="52.32" cy="100.45" rx="4.7" ry="1.58" fill="rgb(128,128,128)" fill-opacity="0.8" stroke="#4e4e4e" stroke-width="0.6" stroke-opacity="0.85"/><path d="M48.56,100.92 Q52.32,102.82 56.08,100.92" fill="none" stroke="#f4f4f4" stroke-width="0.6" opacity="0.55"/></g>
<g transform="rotate(144 53.89 107.28)"><ellipse cx="53.89" cy="107.28" rx="5.93" ry="2.02" fill="rgb(126,126,126)" fill-opacity="0.8" stroke="#4e4e4e" stroke-width="0.6" stroke-opacity="0.85"/><path d="M49.15,107.88 Q53.89,110.3 58.64,107.88" fill="none" stroke="#f4f4f4" stroke-width="0.6" opacity="0.55"/></g>
<g transform="rotate(56 59.78 108.52)"><ellipse cx="59.78" cy="108.52" rx="5.22" ry="2" fill="rgb(123,123,123)" fill-opacity="0.8" stroke="#4e4e4e" stroke-width="0.6" stroke-opacity="0.85"/><path d="M55.61,109.12 Q59.78,111.52 63.95,109.12" fill="none" stroke="#f4f4f4" stroke-width="0.6" opacity="0.55"/></g>
<g transform="rotate(28 51.91 104.83)"><ellipse cx="51.91" cy="104.83" rx="5.57" ry="1.91" fill="rgb(143,143,143)" fill-opacity="0.8" stroke="#4e4e4e" stroke-width="0.6" stroke-opacity="0.85"/><path d="M47.45,105.41 Q51.91,107.69 56.36,105.41" fill="none" stroke="#f4f4f4" stroke-width="0.6" opacity="0.55"/></g>
<g transform="rotate(101 58.83 113.17)"><ellipse cx="58.83" cy="113.17" rx="4.08" ry="1.69" fill="rgb(128,128,128)" fill-opacity="0.8" stroke="#4e4e4e" stroke-width="0.6" stroke-opacity="0.85"/><path d="M55.56,113.68 Q58.83,115.7 62.09,113.68" fill="none" stroke="#f4f4f4" stroke-width="0.6" opacity="0.55"/></g>
<g transform="rotate(130 61.18 112.94)"><ellipse cx="61.18" cy="112.94" rx="5.79" ry="1.88" fill="rgb(120,120,120)" fill-opacity="0.8" stroke="#4e4e4e" stroke-width="0.6" stroke-opacity="0.85"/><path d="M56.54,113.51 Q61.18,115.76 65.81,113.51" fill="none" stroke="#f4f4f4" stroke-width="0.6" opacity="0.55"/></g>
<g transform="rotate(82 61.59 115.56)"><ellipse cx="61.59" cy="115.56" rx="5.7" ry="2.27" fill="rgb(144,144,144)" fill-opacity="0.8" stroke="#4e4e4e" stroke-width="0.6" stroke-opacity="0.85"/><path d="M57.03,116.24 Q61.59,118.96 66.15,116.24" fill="none" stroke="#f4f4f4" stroke-width="0.6" opacity="0.55"/></g>
<g transform="rotate(66 64.89 115.88)"><ellipse cx="64.89" cy="115.88" rx="5.01" ry="1.69" fill="rgb(118,118,118)" fill-opacity="0.8" stroke="#4e4e4e" stroke-width="0.6" stroke-opacity="0.85"/><path d="M60.88,116.39 Q64.89,118.42 68.89,116.39" fill="none" stroke="#f4f4f4" stroke-width="0.6" opacity="0.55"/></g>
<g transform="rotate(137 66.65 113.04)"><ellipse cx="66.65" cy="113.04" rx="5.56" ry="2.03" fill="rgb(129,129,129)" fill-opacity="0.8" stroke="#4e4e4e" stroke-width="0.6" stroke-opacity="0.85"/><path d="M62.2,113.66 Q66.65,116.1 71.09,113.66" fill="none" stroke="#f4f4f4" stroke-width="0.6" opacity="0.55"/></g>
<g transform="rotate(64 71.54 113.56)"><ellipse cx="71.54" cy="113.56" rx="4.73" ry="1.89" fill="rgb(150,150,150)" fill-opacity="0.8" stroke="#4e4e4e" stroke-width="0.6" stroke-opacity="0.85"/><path d="M67.76,114.12 Q71.54,116.4 75.32,114.12" fill="none" stroke="#f4f4f4" stroke-width="0.6" opacity="0.55"/></g>
<g transform="rotate(14 78.69 113.98)"><ellipse cx="78.69" cy="113.98" rx="5.47" ry="2.17" fill="rgb(150,150,150)" fill-opacity="0.8" stroke="#4e4e4e" stroke-width="0.6" stroke-opacity="0.85"/><path d="M74.32,114.63 Q78.69,117.24 83.07,114.63" fill="none" stroke="#f4f4f4" stroke-width="0.6" opacity="0.55"/></g>
<g transform="rotate(117 76.37 106.53)"><ellipse cx="76.37" cy="106.53" rx="5.57" ry="1.8" fill="rgb(122,122,122)" fill-opacity="0.8" stroke="#4e4e4e" stroke-width="0.6" stroke-opacity="0.85"/><path d="M71.92,107.07 Q76.37,109.23 80.83,107.07" fill="none" stroke="#f4f4f4" stroke-width="0.6" opacity="0.55"/></g>
<g transform="rotate(34 81.47 107.42)"><ellipse cx="81.47" cy="107.42" rx="5.96" ry="2.2" fill="rgb(128,128,128)" fill-opacity="0.8" stroke="#4e4e4e" stroke-width="0.6" stroke-opacity="0.85"/><path d="M76.7,108.08 Q81.47,110.73 86.24,108.08" fill="none" stroke="#f4f4f4" stroke-width="0.6" opacity="0.55"/></g>
<g transform="rotate(149 52.84 84.85)"><ellipse cx="52.84" cy="84.85" rx="5.22" ry="1.8" fill="rgb(138,138,138)" fill-opacity="0.8" stroke="#4e4e4e" stroke-width="0.6" stroke-opacity="0.85"/><path d="M48.66,85.39 Q52.84,87.55 57.01,85.39" fill="none" stroke="#f4f4f4" stroke-width="0.6" opacity="0.55"/></g>
<g transform="rotate(25 55.67 90.43)"><ellipse cx="55.67" cy="90.43" rx="5" ry="2.06" fill="rgb(131,131,131)" fill-opacity="0.8" stroke="#4e4e4e" stroke-width="0.6" stroke-opacity="0.85"/><path d="M51.66,91.05 Q55.67,93.52 59.67,91.05" fill="none" stroke="#f4f4f4" stroke-width="0.6" opacity="0.55"/></g>
<g transform="rotate(67 56.98 86.89)"><ellipse cx="56.98" cy="86.89" rx="4.4" ry="1.58" fill="rgb(135,135,135)" fill-opacity="0.8" stroke="#4e4e4e" stroke-width="0.6" stroke-opacity="0.85"/><path d="M53.47,87.36 Q56.98,89.26 60.5,87.36" fill="none" stroke="#f4f4f4" stroke-width="0.6" opacity="0.55"/></g>
<g transform="rotate(141 61.64 88.05)"><ellipse cx="61.64" cy="88.05" rx="4.23" ry="1.58" fill="rgb(141,141,141)" fill-opacity="0.8" stroke="#4e4e4e" stroke-width="0.6" stroke-opacity="0.85"/><path d="M58.26,88.52 Q61.64,90.42 65.03,88.52" fill="none" stroke="#f4f4f4" stroke-width="0.6" opacity="0.55"/></g>
<g transform="rotate(123 112.49 24.18)"><ellipse cx="112.49" cy="24.18" rx="5.79" ry="2" fill="rgb(152,152,152)" fill-opacity="0.8" stroke="#4e4e4e" stroke-width="0.6" stroke-opacity="0.85"/><path d="M107.85,24.78 Q112.49,27.18 117.12,24.78" fill="none" stroke="#f4f4f4" stroke-width="0.6" opacity="0.55"/></g>
<g transform="rotate(47 113.7 28.07)"><ellipse cx="113.7" cy="28.07" rx="5.98" ry="2.26" fill="rgb(141,141,141)" fill-opacity="0.8" stroke="#4e4e4e" stroke-width="0.6" stroke-opacity="0.85"/><path d="M108.91,28.75 Q113.7,31.46 118.48,28.75" fill="none" stroke="#f4f4f4" stroke-width="0.6" opacity="0.55"/></g>
<g transform="rotate(110 121.17 28.03)"><ellipse cx="121.17" cy="28.03" rx="5.92" ry="2.07" fill="rgb(151,151,151)" fill-opacity="0.8" stroke="#4e4e4e" stroke-width="0.6" stroke-opacity="0.85"/><path d="M116.44,28.65 Q121.17,31.13 125.91,28.65" fill="none" stroke="#f4f4f4" stroke-width="0.6" opacity="0.55"/></g>
<g transform="rotate(105 117.09 23.71)"><ellipse cx="117.09" cy="23.71" rx="5.33" ry="1.87" fill="rgb(118,118,118)" fill-opacity="0.8" stroke="#4e4e4e" stroke-width="0.6" stroke-opacity="0.85"/><path d="M112.83,24.27 Q117.09,26.52 121.36,24.27" fill="none" stroke="#f4f4f4" stroke-width="0.6" opacity="0.55"/></g>
<g transform="rotate(112 126.68 36.09)"><ellipse cx="126.68" cy="36.09" rx="4.84" ry="1.72" fill="rgb(121,121,121)" fill-opacity="0.8" stroke="#4e4e4e" stroke-width="0.6" stroke-opacity="0.85"/><path d="M122.81,36.61 Q126.68,38.67 130.55,36.61" fill="none" stroke="#f4f4f4" stroke-width="0.6" opacity="0.55"/></g>
<g transform="rotate(4 127.16 39.18)"><ellipse cx="127.16" cy="39.18" rx="4.01" ry="1.42" fill="rgb(124,124,124)" fill-opacity="0.8" stroke="#4e4e4e" stroke-width="0.6" stroke-opacity="0.85"/><path d="M123.96,39.61 Q127.16,41.31 130.36,39.61" fill="none" stroke="#f4f4f4" stroke-width="0.6" opacity="0.55"/></g>
<g transform="rotate(54 123.88 40.24)"><ellipse cx="123.88" cy="40.24" rx="4.27" ry="1.52" fill="rgb(148,148,148)" fill-opacity="0.8" stroke="#4e4e4e" stroke-width="0.6" stroke-opacity="0.85"/><path d="M120.46,40.7 Q123.88,42.53 127.29,40.7" fill="none" stroke="#f4f4f4" stroke-width="0.6" opacity="0.55"/></g>
<g transform="rotate(127 131.44 43.8)"><ellipse cx="131.44" cy="43.8" rx="4.9" ry="1.6" fill="rgb(127,127,127)" fill-opacity="0.8" stroke="#4e4e4e" stroke-width="0.6" stroke-opacity="0.85"/><path d="M127.52,44.28 Q131.44,46.2 135.36,44.28" fill="none" stroke="#f4f4f4" stroke-width="0.6" opacity="0.55"/></g>
<g transform="rotate(47 127.15 47.52)"><ellipse cx="127.15" cy="47.52" rx="4.02" ry="1.55" fill="rgb(140,140,140)" fill-opacity="0.8" stroke="#4e4e4e" stroke-width="0.6" stroke-opacity="0.85"/><path d="M123.93,47.98 Q127.15,49.84 130.37,47.98" fill="none" stroke="#f4f4f4" stroke-width="0.6" opacity="0.55"/></g>
<g transform="rotate(93 123.37 51.35)"><ellipse cx="123.37" cy="51.35" rx="4.99" ry="1.68" fill="rgb(118,118,118)" fill-opacity="0.8" stroke="#4e4e4e" stroke-width="0.6" stroke-opacity="0.85"/><path d="M119.38,51.85 Q123.37,53.87 127.36,51.85" fill="none" stroke="#f4f4f4" stroke-width="0.6" opacity="0.55"/></g>
<ellipse cx="24" cy="73.6" rx="5" ry="1.7" transform="rotate(-20 24 73.6)" fill="#4a4a4a" stroke="#e0e0e0" stroke-width="0.6" stroke-opacity="0.7"/>
<ellipse cx="27.4" cy="101" rx="6.5" ry="2.21" transform="rotate(80 27.4 101)" fill="#4a4a4a" stroke="#e0e0e0" stroke-width="0.6" stroke-opacity="0.7"/>
<ellipse cx="47.9" cy="97" rx="4.5" ry="1.53" transform="rotate(50 47.9 97)" fill="#4a4a4a" stroke="#e0e0e0" stroke-width="0.6" stroke-opacity="0.7"/>
<ellipse cx="55" cy="94.5" rx="4.5" ry="1.53" transform="rotate(-20 55 94.5)" fill="#4a4a4a" stroke="#e0e0e0" stroke-width="0.6" stroke-opacity="0.7"/>
<ellipse cx="68.4" cy="54.7" rx="4.5" ry="1.53" transform="rotate(20 68.4 54.7)" fill="#4a4a4a" stroke="#e0e0e0" stroke-width="0.6" stroke-opacity="0.7"/>
<ellipse cx="71.8" cy="116.3" rx="4.5" ry="1.53" transform="rotate(20 71.8 116.3)" fill="#4a4a4a" stroke="#e0e0e0" stroke-width="0.6" stroke-opacity="0.7"/>
<ellipse cx="102.6" cy="82" rx="4.5" ry="1.53" transform="rotate(40 102.6 82)" fill="#4a4a4a" stroke="#e0e0e0" stroke-width="0.6" stroke-opacity="0.7"/>
<ellipse cx="13.7" cy="14" rx="3" ry="1.02" transform="rotate(45 13.7 14)" fill="#4a4a4a" stroke="#e0e0e0" stroke-width="0.6" stroke-opacity="0.7"/>
<ellipse cx="109.5" cy="17.1" rx="4" ry="1.36" transform="rotate(20 109.5 17.1)" fill="#4a4a4a" stroke="#e0e0e0" stroke-width="0.6" stroke-opacity="0.7"/>
<ellipse cx="67" cy="41" rx="4.5" ry="1.53" transform="rotate(100 67 41)" fill="#4a4a4a" stroke="#e0e0e0" stroke-width="0.6" stroke-opacity="0.7"/>
<ellipse cx="20" cy="113" rx="3.5" ry="1.19" transform="rotate(10 20 113)" fill="#4a4a4a" stroke="#e0e0e0" stroke-width="0.6" stroke-opacity="0.7"/>
<ellipse cx="88" cy="64" rx="3.5" ry="1.19" transform="rotate(30 88 64)" fill="#4a4a4a" stroke="#e0e0e0" stroke-width="0.6" stroke-opacity="0.7"/>
<circle cx="53.2" cy="18.8" r="1.7" fill="#1a1a1a"/>
<circle cx="89" cy="29" r="1.7" fill="#1a1a1a"/>
<circle cx="70" cy="44.5" r="1.7" fill="#1a1a1a"/>
<circle cx="101" cy="50.8" r="1.7" fill="#1a1a1a"/>
<rect x="4" y="10.5" width="124.7" height="108.5" filter="url(#nz)" opacity="0.15"/>
<rect x="4" y="10.5" width="124.7" height="108.5" filter="url(#nzw)" opacity="0.12"/>
</g>
<text x="7.6" y="26" font-size="12.5" fill="#fff" font-weight="bold" font-family="Liberation Sans, Arial, sans-serif">(a)</text>
<text x="117.2" y="111.6" font-size="6.6" font-weight="bold" fill="#fff" font-family="Liberation Sans, Arial, sans-serif" text-anchor="middle">50 nm</text>
<rect x="111" y="113.6" width="11.7" height="1.5" fill="#fff"/>
<g clip-path="url(#cpb)"><rect x="131" y="10.5" width="125.7" height="108.5" fill="#adadad"/>
<rect x="131" y="10.5" width="125.7" height="108.5" filter="url(#nz)" opacity="0.2"/>
<rect x="131" y="10.5" width="125.7" height="108.5" filter="url(#nzw)" opacity="0.2"/>
<path d="M132.7,42.8 C133.0,41.3 134.1,39.5 136.1,38.5 C138.1,37.5 141.3,36.9 144.7,36.5 C148.1,36.1 153.2,36.0 156.6,36.0 C160.0,36.0 162.0,36.2 165.1,36.5 C168.2,36.8 172.2,36.9 175.4,37.7 C178.6,38.5 180.9,40.1 184.0,41.5 C187.1,42.9 190.6,44.7 194.0,46.0 C197.4,47.3 200.8,47.8 204.2,49.4 C207.6,51.0 211.4,53.3 214.5,55.4 C217.6,57.5 220.2,59.8 223.0,62.2 C225.8,64.6 228.8,67.5 231.6,69.9 C234.4,72.3 237.3,74.4 240.1,76.7 C242.9,79.0 246.2,81.5 248.6,83.5 C251.0,85.5 253.3,87.3 254.6,88.7 C255.9,90.1 256.2,91.2 256.3,92.0 C256.4,92.8 257.4,93.4 255.5,93.8 C253.7,94.2 248.6,94.4 245.2,94.3 C241.8,94.2 238.4,93.7 235.0,93.3 C231.6,92.9 228.1,92.4 224.7,92.1 C221.3,91.8 217.9,91.6 214.5,91.2 C211.1,90.8 207.6,90.1 204.2,89.5 C200.8,88.9 196.5,88.0 194.0,87.5 C191.5,87.0 191.0,87.1 189.0,86.3 C187.0,85.5 184.5,84.0 182.2,82.9 C179.9,81.8 177.9,80.9 175.4,79.5 C172.9,78.1 169.8,76.2 166.9,74.4 C164.1,72.6 161.2,70.4 158.3,68.4 C155.5,66.4 152.7,64.5 149.8,62.4 C147.0,60.3 143.8,58.1 141.2,55.6 C138.6,53.1 135.8,49.6 134.4,47.5 C133.0,45.4 132.4,44.3 132.7,42.8 Z" fill="#525252" stroke="#3a3a3a" stroke-width="0.9"/>
<g filter="url(#blur2)" opacity="0.7"><ellipse cx="228" cy="82" rx="12" ry="5" fill="#3a3a3a"/><ellipse cx="200" cy="72" rx="7" ry="5" fill="#3e3e3e"/><ellipse cx="150" cy="48" rx="8" ry="5" fill="#444"/><ellipse cx="185" cy="60" rx="8" ry="4" fill="#4a4a4a"/><ellipse cx="240" cy="86" rx="8" ry="3" fill="#6e6e6e"/></g>
<g clip-path="url(#cpb)">
<rect x="131" y="10.5" width="125.7" height="108.5" filter="url(#nz)" opacity="0.25"/>
</g>
</g>
<line x1="149" y1="38.5" x2="170" y2="55.5" stroke="#8a8a8a" stroke-width="1.1"/>
<line x1="160.8" y1="47" x2="170.3" y2="33.2" stroke="#fff" stroke-width="0.8"/>
<path d="M172,30.6 L168.4,33.4 L171.5,35.2 Z" fill="#fff"/>
<text x="134.6" y="25.6" font-size="12.5" fill="#fff" font-weight="bold" font-family="Liberation Sans, Arial, sans-serif">(b)</text>
<text x="161.6" y="28.9" font-size="7.6" font-weight="bold" fill="#fff" font-family="Liberation Sans, Arial, sans-serif">d = 0.359 nm</text>
<text x="175.4" y="37" font-size="7.6" font-weight="bold" fill="#fff" font-family="Liberation Sans, Arial, sans-serif">(101)</text>
<text x="244.5" y="111.4" font-size="6.4" font-weight="bold" fill="#fff" font-family="Liberation Sans, Arial, sans-serif" text-anchor="middle">5 nm</text>
<rect x="238.3" y="113.6" width="13" height="1.3" fill="#fff"/>
<g clip-path="url(#cpc)"><rect x="4" y="121" width="124.7" height="108.5" fill="#b8b8b8"/>
<ellipse cx="23" cy="124.5" rx="6.3" ry="5.6" transform="rotate(-21 23 124.5)" fill="rgb(94,94,94)" stroke="#c4c4c4" stroke-width="0.9" stroke-opacity="0.8"/>
<ellipse cx="35.4" cy="126.5" rx="7.7" ry="7.7" transform="rotate(-4 35.4 126.5)" fill="rgb(93,93,93)" stroke="#c4c4c4" stroke-width="0.9" stroke-opacity="0.8"/>
<ellipse cx="13.4" cy="140" rx="7.7" ry="5.6" transform="rotate(-17 13.4 140)" fill="rgb(107,107,107)" stroke="#c4c4c4" stroke-width="0.9" stroke-opacity="0.8"/>
<ellipse cx="29.5" cy="137.9" rx="11.2" ry="9.1" transform="rotate(-24 29.5 137.9)" fill="rgb(98,98,98)" stroke="#c4c4c4" stroke-width="0.9" stroke-opacity="0.8"/>
<ellipse cx="7.9" cy="151.2" rx="6.3" ry="9.8" transform="rotate(7 7.9 151.2)" fill="rgb(127,127,127)" stroke="#c4c4c4" stroke-width="0.9" stroke-opacity="0.8"/>
<ellipse cx="18.1" cy="147.7" rx="6.3" ry="6.3" transform="rotate(-17 18.1 147.7)" fill="rgb(104,104,104)" stroke="#c4c4c4" stroke-width="0.9" stroke-opacity="0.8"/>
<ellipse cx="38.7" cy="156.4" rx="11.2" ry="9.8" transform="rotate(0 38.7 156.4)" fill="rgb(104,104,104)" stroke="#c4c4c4" stroke-width="0.9" stroke-opacity="0.8"/>
<ellipse cx="21.3" cy="164.9" rx="14" ry="11.2" transform="rotate(7 21.3 164.9)" fill="rgb(124,124,124)" stroke="#c4c4c4" stroke-width="0.9" stroke-opacity="0.8"/>
<ellipse cx="7" cy="171" rx="7" ry="7" transform="rotate(15 7 171)" fill="rgb(118,118,118)" stroke="#c4c4c4" stroke-width="0.9" stroke-opacity="0.8"/>
<ellipse cx="46.5" cy="170.5" rx="11.2" ry="9.1" transform="rotate(0 46.5 170.5)" fill="rgb(103,103,103)" stroke="#c4c4c4" stroke-width="0.9" stroke-opacity="0.8"/>
<ellipse cx="55.8" cy="147.4" rx="7.7" ry="8.4" transform="rotate(-9 55.8 147.4)" fill="rgb(96,96,96)" stroke="#c4c4c4" stroke-width="0.9" stroke-opacity="0.8"/>
<ellipse cx="62" cy="140" rx="8.4" ry="7.7" transform="rotate(24 62 140)" fill="rgb(95,95,95)" stroke="#c4c4c4" stroke-width="0.9" stroke-opacity="0.8"/>
<ellipse cx="59.5" cy="160.7" rx="11.2" ry="9.8" transform="rotate(10 59.5 160.7)" fill="rgb(122,122,122)" stroke="#c4c4c4" stroke-width="0.9" stroke-opacity="0.8"/>
<ellipse cx="63.6" cy="171" rx="8.4" ry="7" transform="rotate(-6 63.6 171)" fill="rgb(92,92,92)" stroke="#c4c4c4" stroke-width="0.9" stroke-opacity="0.8"/>
<ellipse cx="95.5" cy="125" rx="7.7" ry="5.6" transform="rotate(12 95.5 125)" fill="rgb(119,119,119)" stroke="#c4c4c4" stroke-width="0.9" stroke-opacity="0.8"/>
<ellipse cx="79.5" cy="132.8" rx="6.3" ry="6.3" transform="rotate(-20 79.5 132.8)" fill="rgb(121,121,121)" stroke="#c4c4c4" stroke-width="0.9" stroke-opacity="0.8"/>
<ellipse cx="89" cy="134.6" rx="7.7" ry="5.6" transform="rotate(-16 89 134.6)" fill="rgb(120,120,120)" stroke="#c4c4c4" stroke-width="0.9" stroke-opacity="0.8"/>
<ellipse cx="69.5" cy="136.6" rx="7" ry="7" transform="rotate(-11 69.5 136.6)" fill="rgb(98,98,98)" stroke="#c4c4c4" stroke-width="0.9" stroke-opacity="0.8"/>
<ellipse cx="90.5" cy="143.5" rx="7" ry="6.3" transform="rotate(-18 90.5 143.5)" fill="rgb(94,94,94)" stroke="#c4c4c4" stroke-width="0.9" stroke-opacity="0.8"/>
<ellipse cx="111.8" cy="141.5" rx="8.4" ry="7.7" transform="rotate(10 111.8 141.5)" fill="rgb(108,108,108)" stroke="#c4c4c4" stroke-width="0.9" stroke-opacity="0.8"/>
<ellipse cx="123" cy="145" rx="7" ry="8.4" transform="rotate(6 123 145)" fill="rgb(109,109,109)" stroke="#c4c4c4" stroke-width="0.9" stroke-opacity="0.8"/>
<ellipse cx="80.5" cy="154.6" rx="9.8" ry="9.8" transform="rotate(9 80.5 154.6)" fill="rgb(119,119,119)" stroke="#c4c4c4" stroke-width="0.9" stroke-opacity="0.8"/>
<ellipse cx="94.7" cy="155.3" rx="8.4" ry="8.4" transform="rotate(23 94.7 155.3)" fill="rgb(125,125,125)" stroke="#c4c4c4" stroke-width="0.9" stroke-opacity="0.8"/>
<ellipse cx="105" cy="156.3" rx="7" ry="7" transform="rotate(7 105 156.3)" fill="rgb(110,110,110)" stroke="#c4c4c4" stroke-width="0.9" stroke-opacity="0.8"/>
<ellipse cx="116" cy="160.5" rx="9.8" ry="9.1" transform="rotate(-20 116 160.5)" fill="rgb(105,105,105)" stroke="#c4c4c4" stroke-width="0.9" stroke-opacity="0.8"/>
<ellipse cx="68.7" cy="151.3" rx="7" ry="8.4" transform="rotate(-24 68.7 151.3)" fill="rgb(124,124,124)" stroke="#c4c4c4" stroke-width="0.9" stroke-opacity="0.8"/>
<ellipse cx="74.4" cy="168" rx="9.8" ry="9.1" transform="rotate(20 74.4 168)" fill="rgb(108,108,108)" stroke="#c4c4c4" stroke-width="0.9" stroke-opacity="0.8"/>
<ellipse cx="91" cy="170" rx="9.1" ry="8.4" transform="rotate(22 91 170)" fill="rgb(104,104,104)" stroke="#c4c4c4" stroke-width="0.9" stroke-opacity="0.8"/>
<ellipse cx="108.4" cy="170" rx="8.4" ry="8.4" transform="rotate(-15 108.4 170)" fill="rgb(112,112,112)" stroke="#c4c4c4" stroke-width="0.9" stroke-opacity="0.8"/>
<ellipse cx="121" cy="171" rx="8.4" ry="8.4" transform="rotate(-8 121 171)" fill="rgb(116,116,116)" stroke="#c4c4c4" stroke-width="0.9" stroke-opacity="0.8"/>
<ellipse cx="24.4" cy="187" rx="9.1" ry="11.9" transform="rotate(-6 24.4 187)" fill="rgb(107,107,107)" stroke="#c4c4c4" stroke-width="0.9" stroke-opacity="0.8"/>
<ellipse cx="4.7" cy="189.4" rx="5.6" ry="8.4" transform="rotate(21 4.7 189.4)" fill="rgb(132,132,132)" stroke="#c4c4c4" stroke-width="0.9" stroke-opacity="0.8"/>
<ellipse cx="36" cy="192" rx="9.8" ry="9.8" transform="rotate(-1 36 192)" fill="rgb(126,126,126)" stroke="#c4c4c4" stroke-width="0.9" stroke-opacity="0.8"/>
<ellipse cx="46" cy="182.6" rx="7.7" ry="9.1" transform="rotate(9 46 182.6)" fill="rgb(125,125,125)" stroke="#c4c4c4" stroke-width="0.9" stroke-opacity="0.8"/>
<ellipse cx="57.5" cy="187.3" rx="8.4" ry="9.1" transform="rotate(-3 57.5 187.3)" fill="rgb(93,93,93)" stroke="#c4c4c4" stroke-width="0.9" stroke-opacity="0.8"/>
<ellipse cx="15.8" cy="200.3" rx="11.2" ry="11.2" transform="rotate(3 15.8 200.3)" fill="rgb(106,106,106)" stroke="#c4c4c4" stroke-width="0.9" stroke-opacity="0.8"/>
<ellipse cx="32.6" cy="208.5" rx="11.9" ry="11.9" transform="rotate(14 32.6 208.5)" fill="rgb(111,111,111)" stroke="#c4c4c4" stroke-width="0.9" stroke-opacity="0.8"/>
<ellipse cx="46.6" cy="198.7" rx="7" ry="7.7" transform="rotate(6 46.6 198.7)" fill="rgb(117,117,117)" stroke="#c4c4c4" stroke-width="0.9" stroke-opacity="0.8"/>
<ellipse cx="60.8" cy="202.5" rx="10.5" ry="13.3" transform="rotate(3 60.8 202.5)" fill="rgb(96,96,96)" stroke="#c4c4c4" stroke-width="0.9" stroke-opacity="0.8"/>
<ellipse cx="8.7" cy="216.5" rx="7" ry="9.8" transform="rotate(-17 8.7 216.5)" fill="rgb(102,102,102)" stroke="#c4c4c4" stroke-width="0.9" stroke-opacity="0.8"/>
<ellipse cx="20.5" cy="222.5" rx="9.8" ry="9.1" transform="rotate(-19 20.5 222.5)" fill="rgb(93,93,93)" stroke="#c4c4c4" stroke-width="0.9" stroke-opacity="0.8"/>
<ellipse cx="31.5" cy="224.5" rx="10.5" ry="7" transform="rotate(21 31.5 224.5)" fill="rgb(131,131,131)" stroke="#c4c4c4" stroke-width="0.9" stroke-opacity="0.8"/>
<ellipse cx="42.6" cy="217.7" rx="9.1" ry="9.1" transform="rotate(23 42.6 217.7)" fill="rgb(114,114,114)" stroke="#c4c4c4" stroke-width="0.9" stroke-opacity="0.8"/>
<ellipse cx="52.6" cy="221.5" rx="9.1" ry="9.8" transform="rotate(-23 52.6 221.5)" fill="rgb(93,93,93)" stroke="#c4c4c4" stroke-width="0.9" stroke-opacity="0.8"/>
<ellipse cx="69.5" cy="183.4" rx="7.7" ry="11.2" transform="rotate(9 69.5 183.4)" fill="rgb(100,100,100)" stroke="#c4c4c4" stroke-width="0.9" stroke-opacity="0.8"/>
<ellipse cx="82.8" cy="181" rx="8.4" ry="7" transform="rotate(-22 82.8 181)" fill="rgb(132,132,132)" stroke="#c4c4c4" stroke-width="0.9" stroke-opacity="0.8"/>
<ellipse cx="89" cy="193.4" rx="8.4" ry="9.8" transform="rotate(11 89 193.4)" fill="rgb(96,96,96)" stroke="#c4c4c4" stroke-width="0.9" stroke-opacity="0.8"/>
<ellipse cx="98.6" cy="189.7" rx="7.7" ry="9.8" transform="rotate(17 98.6 189.7)" fill="rgb(96,96,96)" stroke="#c4c4c4" stroke-width="0.9" stroke-opacity="0.8"/>
<ellipse cx="108.6" cy="202" rx="9.1" ry="9.1" transform="rotate(-15 108.6 202)" fill="rgb(115,115,115)" stroke="#c4c4c4" stroke-width="0.9" stroke-opacity="0.8"/>
<ellipse cx="111" cy="189" rx="9.1" ry="6.3" transform="rotate(19 111 189)" fill="rgb(126,126,126)" stroke="#c4c4c4" stroke-width="0.9" stroke-opacity="0.8"/>
<ellipse cx="122" cy="183.4" rx="8.4" ry="8.4" transform="rotate(18 122 183.4)" fill="rgb(96,96,96)" stroke="#c4c4c4" stroke-width="0.9" stroke-opacity="0.8"/>
<ellipse cx="74.4" cy="198.7" rx="8.4" ry="9.1" transform="rotate(-19 74.4 198.7)" fill="rgb(116,116,116)" stroke="#c4c4c4" stroke-width="0.9" stroke-opacity="0.8"/>
<ellipse cx="78.1" cy="214.4" rx="9.1" ry="11.9" transform="rotate(-14 78.1 214.4)" fill="rgb(105,105,105)" stroke="#c4c4c4" stroke-width="0.9" stroke-opacity="0.8"/>
<ellipse cx="90.5" cy="214.4" rx="9.8" ry="12.6" transform="rotate(-23 90.5 214.4)" fill="rgb(94,94,94)" stroke="#c4c4c4" stroke-width="0.9" stroke-opacity="0.8"/>
<ellipse cx="104.6" cy="213.5" rx="8.4" ry="9.1" transform="rotate(-20 104.6 213.5)" fill="rgb(132,132,132)" stroke="#c4c4c4" stroke-width="0.9" stroke-opacity="0.8"/>
<ellipse cx="119.4" cy="211" rx="8.4" ry="9.8" transform="rotate(6 119.4 211)" fill="rgb(132,132,132)" stroke="#c4c4c4" stroke-width="0.9" stroke-opacity="0.8"/>
<ellipse cx="68.7" cy="225" rx="6.3" ry="5.6" transform="rotate(-20 68.7 225)" fill="rgb(122,122,122)" stroke="#c4c4c4" stroke-width="0.9" stroke-opacity="0.8"/>
<ellipse cx="95.4" cy="227" rx="8.4" ry="5.6" transform="rotate(14 95.4 227)" fill="rgb(98,98,98)" stroke="#c4c4c4" stroke-width="0.9" stroke-opacity="0.8"/>
<ellipse cx="124" cy="198" rx="5.6" ry="8.4" transform="rotate(-10 124 198)" fill="rgb(105,105,105)" stroke="#c4c4c4" stroke-width="0.9" stroke-opacity="0.8"/>
<g filter="url(#blur1)"><ellipse cx="100.5" cy="144.9" rx="3.5" ry="4" fill="#1e1e1e"/><g transform="rotate(35 89 193)"><ellipse cx="89" cy="193" rx="6" ry="5" fill="#555"/><path d="M84,191 L94,191 M84,194 L94,194 M85,197 L93,197" stroke="#1a1a1a" stroke-width="1"/><path d="M84,189.5 L94,189.5 M84,192.5 L94,192.5 M85,195.5 L93,195.5" stroke="#ddd" stroke-width="0.6"/></g><ellipse cx="6" cy="151" rx="3.5" ry="6" fill="#444"/><ellipse cx="38.7" cy="156.4" rx="6" ry="5" fill="#555"/></g>
<g fill="none" stroke="#e6e6e6" stroke-width="0.7" opacity="0.7"><path d="M84,186 Q90,184 95,190"/><path d="M100,205 Q104,199 112,200"/><path d="M50,150 Q53,142 60,141"/><path d="M74,136 Q80,128 86,129"/></g>
<rect x="4" y="121" width="124.7" height="108.5" filter="url(#nzc)" opacity="0.35"/>
<rect x="4" y="121" width="124.7" height="108.5" filter="url(#nz)" opacity="0.2"/>
<rect x="4" y="121" width="124.7" height="108.5" filter="url(#nzw)" opacity="0.2"/>
</g>
<text x="7.6" y="135.8" font-size="12.5" fill="#fff" font-weight="bold" font-family="Liberation Sans, Arial, sans-serif">(c)</text>
<text x="116.2" y="222" font-size="6.6" font-weight="bold" fill="#fff" font-family="Liberation Sans, Arial, sans-serif" text-anchor="middle">20 nm</text>
<rect x="111" y="224.3" width="11" height="1.5" fill="#fff"/>
<g clip-path="url(#cpd)"><rect x="131" y="121" width="125.5" height="108.5" fill="#a2a2a2"/>
<g filter="url(#blur4)" opacity="0.7"><ellipse cx="178" cy="200" rx="32" ry="18" fill="#bdbdbd"/><ellipse cx="235" cy="150" rx="18" ry="18" fill="#b5b5b5"/></g>
<g filter="url(#blur1)"><path d="M169,138.5 C174,135.5 178,134.8 181,134.8 C188,135.5 193,137.5 195.7,139.7 C199,143 201,147 201.7,149.4 C202.5,152 203,154.5 203,156.6 C206,157.5 208,158 210.2,159 C214,159.8 217,160.5 220,161.5 C223,164 225.5,167 227.2,170 C229,173 230.5,176 230.8,178.4 C231,182 230.5,185 229.6,188 C228,191 226.5,193.5 224.7,195.4 C220,198 216,199.5 212.6,200.2 C209,203 206,205.5 203,207.5 C198,208.5 193,208.3 188.4,207.5 C183,205.5 178,203 174,200.2 C170,197 167,194 164.2,190.5 C161.5,187 159.5,182.5 158,178.4 C156.5,174 155.7,169 155.7,164 C156,160.5 157,157 158,154.2 C159.5,150.5 161.5,147.5 164.2,144.5 C165.5,142 167,140 169,138.5 Z" fill="#545454"/></g>
<g filter="url(#blur1)">
<circle cx="172" cy="146" r="4.800000000000001" fill="rgb(50,50,50)" opacity="0.8"/>
<circle cx="186" cy="141" r="4.0" fill="rgb(53,53,53)" opacity="0.8"/>
<circle cx="164" cy="160" r="5.6000000000000005" fill="rgb(48,48,48)" opacity="0.8"/>
<circle cx="179" cy="157" r="4.800000000000001" fill="rgb(40,40,40)" opacity="0.8"/>
<circle cx="193" cy="153" r="4.800000000000001" fill="rgb(51,51,51)" opacity="0.8"/>
<circle cx="170" cy="176" r="5.6000000000000005" fill="rgb(48,48,48)" opacity="0.8"/>
<circle cx="185" cy="172" r="5.6000000000000005" fill="rgb(49,49,49)" opacity="0.8"/>
<circle cx="199" cy="168" r="4.800000000000001" fill="rgb(41,41,41)" opacity="0.8"/>
<circle cx="176" cy="192" r="4.800000000000001" fill="rgb(62,62,62)" opacity="0.8"/>
<circle cx="190" cy="188" r="5.6000000000000005" fill="rgb(51,51,51)" opacity="0.8"/>
<circle cx="203" cy="184" r="4.0" fill="rgb(50,50,50)" opacity="0.8"/>
<circle cx="196" cy="202" r="4.800000000000001" fill="rgb(59,59,59)" opacity="0.8"/>
<circle cx="160" cy="172" r="4.0" fill="rgb(56,56,56)" opacity="0.8"/>
</g>
<g filter="url(#blur2)" opacity="0.7"><ellipse cx="218" cy="178" rx="9" ry="12" fill="#767676"/><ellipse cx="214" cy="195" rx="6" ry="4" fill="#6a6a6a"/></g>
<clipPath id="blobd"><path d="M169,138.5 C174,135.5 178,134.8 181,134.8 C188,135.5 193,137.5 195.7,139.7 C199,143 201,147 201.7,149.4 C202.5,152 203,154.5 203,156.6 C206,157.5 208,158 210.2,159 C214,159.8 217,160.5 220,161.5 C223,164 225.5,167 227.2,170 C229,173 230.5,176 230.8,178.4 C231,182 230.5,185 229.6,188 C228,191 226.5,193.5 224.7,195.4 C220,198 216,199.5 212.6,200.2 C209,203 206,205.5 203,207.5 C198,208.5 193,208.3 188.4,207.5 C183,205.5 178,203 174,200.2 C170,197 167,194 164.2,190.5 C161.5,187 159.5,182.5 158,178.4 C156.5,174 155.7,169 155.7,164 C156,160.5 157,157 158,154.2 C159.5,150.5 161.5,147.5 164.2,144.5 C165.5,142 167,140 169,138.5 Z"/></clipPath>
<g clip-path="url(#blobd)"><rect x="150" y="130" width="85" height="85" filter="url(#nzc)" opacity="0.5"/><rect x="150" y="130" width="85" height="85" filter="url(#nzcw)" opacity="0.3"/></g>
<rect x="131" y="121" width="125.5" height="108.5" filter="url(#nz)" opacity="0.3"/>
<rect x="131" y="121" width="125.5" height="108.5" filter="url(#nzw)" opacity="0.28"/>
</g>
<text x="134.6" y="135.8" font-size="12.5" fill="#fff" font-weight="bold" font-family="Liberation Sans, Arial, sans-serif">(d)</text>
<line x1="182.4" y1="148.5" x2="190.9" y2="134.6" stroke="#fff" stroke-width="0.8"/>
<path d="M192.4,132.2 L189.2,134.6 L191.8,136.1 Z" fill="#fff"/>
<line x1="214.8" y1="175.9" x2="198.8" y2="182.8" stroke="#fff" stroke-width="0.8"/>
<path d="M196.3,183.9 L199.1,181.2 L200.2,184 Z" fill="#fff"/>
<text x="180.5" y="131.2" font-size="7.6" font-weight="bold" fill="#fff" font-family="Liberation Sans, Arial, sans-serif">d = 0.355 nm</text>
<text x="194.3" y="140.3" font-size="7.6" font-weight="bold" fill="#fff" font-family="Liberation Sans, Arial, sans-serif">(101)</text>
<text x="170" y="196.8" font-size="7.6" font-weight="bold" fill="#fff" font-family="Liberation Sans, Arial, sans-serif">d = 0.357 nm</text>
<text x="184" y="205.6" font-size="7.6" font-weight="bold" fill="#fff" font-family="Liberation Sans, Arial, sans-serif">(101)</text>
<text x="244.5" y="221.8" font-size="6.4" font-weight="bold" fill="#fff" font-family="Liberation Sans, Arial, sans-serif" text-anchor="middle">5 nm</text>
<rect x="238.3" y="224" width="13" height="1.3" fill="#fff"/>
<g clip-path="url(#cpe)"><rect x="4" y="231.6" width="124.7" height="108" fill="#727272"/>
<g filter="url(#blur2)"><path d="M20,262 L60,252 L100,256 L112,275 L112,320 L85,336 L45,332 L30,305 Z" fill="#484848"/><path d="M4,231 L128,231 L128,252 L100,256 L60,252 L20,262 L4,258 Z" fill="#868686"/><path d="M4,322 L32,312 L48,340 L4,340 Z" fill="#9a9a9a"/><path d="M116,250 L128,250 L128,340 L120,340 Z" fill="#8c8c8c"/><ellipse cx="10" cy="285" rx="8" ry="22" fill="#5a5a5a"/></g>
<g filter="url(#blur1)" fill="none" stroke="#c4c4c4" opacity="0.85"><path d="M100,250 Q110,258 114,272 Q117,300 120,338" stroke-width="2.6"/><path d="M4,324 Q20,314 32,311 Q42,322 49,340" stroke-width="2.2"/><path d="M20,262 Q40,252 62,251" stroke-width="1.6"/></g>
<rect x="4" y="231.6" width="124.7" height="108" filter="url(#nzk)" opacity="0.9"/>
<rect x="4" y="231.6" width="124.7" height="108" filter="url(#nzkw)" opacity="0.6"/>
<rect x="4" y="231.6" width="124.7" height="108" filter="url(#nzc)" opacity="0.5"/>
<rect x="4" y="231.6" width="124.7" height="108" filter="url(#nzcw)" opacity="0.45"/>
<rect x="4" y="231.6" width="124.7" height="108" filter="url(#nz)" opacity="0.25"/>
<rect x="4" y="231.6" width="124.7" height="108" filter="url(#nzw)" opacity="0.2"/>
</g>
<text x="7.6" y="246.7" font-size="12.5" fill="#fff" font-weight="bold" font-family="Liberation Sans, Arial, sans-serif">(e)</text>
<line x1="69.6" y1="286.2" x2="81.6" y2="305.5" stroke="#fff" stroke-width="0.8"/>
<circle cx="69.6" cy="286.3" r="1" fill="#fff"/>
<line x1="66" y1="316" x2="88" y2="304" stroke="#bdbdbd" stroke-width="1" opacity="0.8"/>
<text x="58.2" y="278.3" font-size="7.7" font-weight="bold" fill="#fff" font-family="Liberation Sans, Arial, sans-serif">d = 0.237 nm</text>
<text x="70.2" y="286.7" font-size="8.4" font-weight="bold" fill="#fff" font-family="Liberation Sans, Arial, sans-serif">(004)</text>
<text x="118.2" y="331.8" font-size="6.6" font-weight="bold" fill="#fff" font-family="Liberation Sans, Arial, sans-serif" text-anchor="middle">5 nm</text>
<rect x="111.2" y="334.6" width="14.4" height="1.5" fill="#fff"/>
<g clip-path="url(#cpf1)"><rect x="131" y="231.6" width="62" height="53.2" fill="#8c8c8c"/>
<g filter="url(#blur1)">
<polygon points="167.86,243.33 162.27,246.12 157.09,242.23 157.58,235.55 163.86,233.37 169.35,237.05" fill="rgb(209,209,209)" stroke="rgb(209,209,209)" stroke-width="1.5" stroke-linejoin="round"/>
<polygon points="179.2,244.01 172.58,245.78 168,241.12 169.28,234.8 175.55,232.78 180.14,237.37" fill="rgb(206,206,206)" stroke="rgb(206,206,206)" stroke-width="1.5" stroke-linejoin="round"/>
<polygon points="191.81,242.03 188.41,247.85 181.48,248.15 178.7,241.97 181.72,236.14 188.38,236.32" fill="rgb(201,201,201)" stroke="rgb(201,201,201)" stroke-width="1.5" stroke-linejoin="round"/>
<polygon points="153.44,258.69 147.59,262.23 141.53,258.2 142.85,251.37 148.7,248.68 154.83,251.91" fill="rgb(208,208,208)" stroke="rgb(208,208,208)" stroke-width="1.5" stroke-linejoin="round"/>
<polygon points="167.83,259.06 160.96,260.71 156.32,255.44 158.6,249.07 165.05,247.56 169.55,252.45" fill="rgb(215,215,215)" stroke="rgb(215,215,215)" stroke-width="1.5" stroke-linejoin="round"/>
<polygon points="183.87,258.75 178.05,262.41 172.07,259.5 171.39,252.85 176.94,248.86 182.81,252.08" fill="rgb(202,202,202)" stroke="rgb(202,202,202)" stroke-width="1.5" stroke-linejoin="round"/>
<polygon points="195.4,258.32 190.65,263.35 183.7,261.86 181.71,254.91 186.78,249.83 193.41,251.82" fill="rgb(220,220,220)" stroke="rgb(220,220,220)" stroke-width="1.5" stroke-linejoin="round"/>
<polygon points="142.95,249.8 136.57,250.79 132.82,245.61 135.07,239.68 141.53,238.55 145.14,243.89" fill="rgb(204,204,204)" stroke="rgb(204,204,204)" stroke-width="1.5" stroke-linejoin="round"/>
<polygon points="150.81,269.69 144.99,272.6 139.64,269.73 139.29,263.64 144.48,259.88 150.49,262.88" fill="rgb(210,210,210)" stroke="rgb(210,210,210)" stroke-width="1.5" stroke-linejoin="round"/>
<polygon points="161.94,270.99 155.41,271.04 152.32,265.53 155.33,260.22 161.77,259.33 164.56,265.2" fill="rgb(204,204,204)" stroke="rgb(204,204,204)" stroke-width="1.5" stroke-linejoin="round"/>
<polygon points="179.69,266.12 174.94,271.02 168.55,269.86 166.33,263.8 170.41,258.66 176.96,259.81" fill="rgb(203,203,203)" stroke="rgb(203,203,203)" stroke-width="1.5" stroke-linejoin="round"/>
<polygon points="191.13,271.81 185.57,274.13 180.59,270.44 181.82,264.47 187.35,261.87 192.73,265.61" fill="rgb(203,203,203)" stroke="rgb(203,203,203)" stroke-width="1.5" stroke-linejoin="round"/>
<polygon points="141.22,283.5 134.91,283.34 131.45,278.09 134.25,271.97 140.82,272.61 144.27,277.84" fill="rgb(216,216,216)" stroke="rgb(216,216,216)" stroke-width="1.5" stroke-linejoin="round"/>
<polygon points="157.96,279.71 151.56,282.38 146.22,278.47 146.22,271.66 152.64,268.4 158.54,272.58" fill="rgb(222,222,222)" stroke="rgb(222,222,222)" stroke-width="1.5" stroke-linejoin="round"/>
<polygon points="171.04,281.32 164.58,283.37 159.69,278.96 160.61,272.33 166.99,270.7 172.08,274.64" fill="rgb(207,207,207)" stroke="rgb(207,207,207)" stroke-width="1.5" stroke-linejoin="round"/>
<polygon points="184.23,281.59 177.98,284.31 173.11,279.28 175.03,273.08 181.16,270.23 186.06,275.26" fill="rgb(222,222,222)" stroke="rgb(222,222,222)" stroke-width="1.5" stroke-linejoin="round"/>
<polygon points="194.87,284.34 188.57,284.7 183.97,279.89 186.76,273.32 193.52,273.42 197.38,278.41" fill="rgb(205,205,205)" stroke="rgb(205,205,205)" stroke-width="1.5" stroke-linejoin="round"/>
</g>
<g filter="url(#blur4)"><ellipse cx="139" cy="240" rx="9" ry="9" fill="#666"/></g>
<rect x="131" y="231.6" width="62" height="53.2" filter="url(#nz)" opacity="0.25"/>
<rect x="131" y="231.6" width="62" height="53.2" filter="url(#nzw)" opacity="0.2"/>
</g>
<g clip-path="url(#cpf2)"><rect x="194.7" y="231.6" width="61.6" height="53.2" fill="#041004"/>
<g filter="url(#blur1)">
<circle cx="201.36" cy="242.69" r="5.85" fill="#2cc82c"/>
<circle cx="201.24" cy="240.34" r="5.75" fill="#2cc82c"/>
<circle cx="202.89" cy="239.42" r="5.38" fill="#2cc82c"/>
<circle cx="200.07" cy="243.18" r="5.27" fill="#2cc82c"/>
<circle cx="202.85" cy="241.79" r="2.4" fill="#48f048"/>
<circle cx="221.22" cy="242.16" r="5.08" fill="#2cc82c"/>
<circle cx="221.58" cy="241.79" r="5.63" fill="#2cc82c"/>
<circle cx="222.22" cy="239.9" r="5.15" fill="#2cc82c"/>
<circle cx="220.74" cy="236.21" r="4.98" fill="#2cc82c"/>
<circle cx="222.32" cy="239.28" r="2.4" fill="#48f048"/>
<circle cx="237.5" cy="238.39" r="5.01" fill="#2cc82c"/>
<circle cx="235.13" cy="237.24" r="5.85" fill="#2cc82c"/>
<circle cx="239.4" cy="241.04" r="5.86" fill="#2cc82c"/>
<circle cx="236.14" cy="235.73" r="5.83" fill="#2cc82c"/>
<circle cx="235.52" cy="238.47" r="2.4" fill="#48f048"/>
<circle cx="249.31" cy="241.07" r="5.62" fill="#2cc82c"/>
<circle cx="253.29" cy="237.9" r="5.57" fill="#2cc82c"/>
<circle cx="253.39" cy="242.05" r="5.31" fill="#2cc82c"/>
<circle cx="254.45" cy="241.83" r="5.55" fill="#2cc82c"/>
<circle cx="251.83" cy="240.1" r="2.4" fill="#48f048"/>
<circle cx="199.25" cy="252.18" r="5.6" fill="#2cc82c"/>
<circle cx="198.64" cy="257" r="5.58" fill="#2cc82c"/>
<circle cx="197.32" cy="255.86" r="5.7" fill="#2cc82c"/>
<circle cx="196.53" cy="254.9" r="5.22" fill="#2cc82c"/>
<circle cx="197.41" cy="254.16" r="2.4" fill="#48f048"/>
<circle cx="208.53" cy="256.45" r="5.05" fill="#2cc82c"/>
<circle cx="209.92" cy="253.17" r="4.99" fill="#2cc82c"/>
<circle cx="211.6" cy="252.79" r="5.84" fill="#2cc82c"/>
<circle cx="211.38" cy="252.92" r="5.48" fill="#2cc82c"/>
<circle cx="211.5" cy="253.33" r="2.4" fill="#48f048"/>
<circle cx="222.19" cy="249.15" r="5.51" fill="#2cc82c"/>
<circle cx="225.43" cy="252.74" r="5.09" fill="#2cc82c"/>
<circle cx="224.62" cy="252.3" r="5.11" fill="#2cc82c"/>
<circle cx="224.3" cy="250.69" r="5.51" fill="#2cc82c"/>
<circle cx="225.31" cy="251.43" r="2.4" fill="#48f048"/>
<circle cx="236.05" cy="251.9" r="5.45" fill="#2cc82c"/>
<circle cx="239.55" cy="248.03" r="5.39" fill="#2cc82c"/>
<circle cx="236.84" cy="246.63" r="5.74" fill="#2cc82c"/>
<circle cx="239.77" cy="246.88" r="5.02" fill="#2cc82c"/>
<circle cx="238.51" cy="249.98" r="2.4" fill="#48f048"/>
<circle cx="252.25" cy="254.28" r="5.38" fill="#2cc82c"/>
<circle cx="255.02" cy="255.19" r="5.15" fill="#2cc82c"/>
<circle cx="250.27" cy="254.55" r="5.63" fill="#2cc82c"/>
<circle cx="250.25" cy="252.76" r="5.6" fill="#2cc82c"/>
<circle cx="252.42" cy="253.5" r="2.4" fill="#48f048"/>
<circle cx="201.8" cy="264.89" r="5.9" fill="#2cc82c"/>
<circle cx="203.15" cy="263.32" r="5.26" fill="#2cc82c"/>
<circle cx="202.96" cy="262.3" r="4.95" fill="#2cc82c"/>
<circle cx="203.53" cy="268.56" r="5.71" fill="#2cc82c"/>
<circle cx="201.21" cy="265.33" r="2.4" fill="#48f048"/>
<circle cx="224.28" cy="258.51" r="5.11" fill="#2cc82c"/>
<circle cx="222.1" cy="258.39" r="4.99" fill="#2cc82c"/>
<circle cx="223.66" cy="259.77" r="5.68" fill="#2cc82c"/>
<circle cx="222.98" cy="263.42" r="5.18" fill="#2cc82c"/>
<circle cx="222.32" cy="260.29" r="2.4" fill="#48f048"/>
<circle cx="233.52" cy="259.43" r="5.26" fill="#2cc82c"/>
<circle cx="236.34" cy="259.72" r="5.88" fill="#2cc82c"/>
<circle cx="238.77" cy="259.79" r="5.1" fill="#2cc82c"/>
<circle cx="236.33" cy="258.34" r="5.09" fill="#2cc82c"/>
<circle cx="236.81" cy="260.04" r="2.4" fill="#48f048"/>
<circle cx="253.16" cy="262.72" r="5.9" fill="#2cc82c"/>
<circle cx="249.48" cy="265.71" r="5.31" fill="#2cc82c"/>
<circle cx="250.6" cy="264.71" r="5.01" fill="#2cc82c"/>
<circle cx="247.23" cy="267.42" r="5.38" fill="#2cc82c"/>
<circle cx="250.66" cy="264.48" r="2.4" fill="#48f048"/>
<circle cx="212.33" cy="269.08" r="5.28" fill="#2cc82c"/>
<circle cx="210.07" cy="269.91" r="5.59" fill="#2cc82c"/>
<circle cx="214.74" cy="266.13" r="4.94" fill="#2cc82c"/>
<circle cx="213.18" cy="269.6" r="5.07" fill="#2cc82c"/>
<circle cx="212.66" cy="269.54" r="2.4" fill="#48f048"/>
<circle cx="199.23" cy="275.41" r="5.83" fill="#2cc82c"/>
<circle cx="196.61" cy="280.34" r="5.04" fill="#2cc82c"/>
<circle cx="198.51" cy="279.31" r="5.76" fill="#2cc82c"/>
<circle cx="197.71" cy="274.98" r="4.92" fill="#2cc82c"/>
<circle cx="199.86" cy="278.12" r="2.4" fill="#48f048"/>
<circle cx="213.83" cy="280.24" r="5.42" fill="#2cc82c"/>
<circle cx="213.26" cy="282.01" r="5.32" fill="#2cc82c"/>
<circle cx="212.44" cy="279.65" r="4.97" fill="#2cc82c"/>
<circle cx="212.34" cy="280.86" r="5.89" fill="#2cc82c"/>
<circle cx="211.5" cy="279.57" r="2.4" fill="#48f048"/>
<circle cx="226.66" cy="274.84" r="4.98" fill="#2cc82c"/>
<circle cx="224.75" cy="277.06" r="5.53" fill="#2cc82c"/>
<circle cx="224.46" cy="271.39" r="5.57" fill="#2cc82c"/>
<circle cx="228.04" cy="276.82" r="5.12" fill="#2cc82c"/>
<circle cx="224.17" cy="274.47" r="2.4" fill="#48f048"/>
<circle cx="236.09" cy="273.82" r="5.35" fill="#2cc82c"/>
<circle cx="239.09" cy="276.09" r="5.27" fill="#2cc82c"/>
<circle cx="239.11" cy="274.63" r="5.04" fill="#2cc82c"/>
<circle cx="239.19" cy="272.06" r="5.46" fill="#2cc82c"/>
<circle cx="237.53" cy="273.72" r="2.4" fill="#48f048"/>
<circle cx="253.77" cy="280.61" r="4.95" fill="#2cc82c"/>
<circle cx="248.28" cy="275.15" r="5.78" fill="#2cc82c"/>
<circle cx="252.47" cy="278.72" r="5.29" fill="#2cc82c"/>
<circle cx="250.07" cy="278.61" r="5.86" fill="#2cc82c"/>
<circle cx="251.94" cy="278.18" r="2.4" fill="#48f048"/>
<circle cx="222.61" cy="287.71" r="5.63" fill="#2cc82c"/>
<circle cx="223.59" cy="282.7" r="5.87" fill="#2cc82c"/>
<circle cx="221.33" cy="287.74" r="5.06" fill="#2cc82c"/>
<circle cx="225.72" cy="284.69" r="5.68" fill="#2cc82c"/>
<circle cx="223.69" cy="284.38" r="2.4" fill="#48f048"/>
<circle cx="238.01" cy="283.77" r="5.18" fill="#2cc82c"/>
<circle cx="237.16" cy="285.8" r="5.7" fill="#2cc82c"/>
<circle cx="237.02" cy="287.2" r="5.63" fill="#2cc82c"/>
<circle cx="233.28" cy="282.6" r="5.73" fill="#2cc82c"/>
<circle cx="236.55" cy="285.79" r="2.4" fill="#48f048"/>
</g>
<rect x="194.7" y="231.6" width="61.6" height="53.2" filter="url(#nzc)" opacity="0.75"/>
<rect x="194.7" y="231.6" width="61.6" height="53.2" filter="url(#nz)" opacity="0.4"/>
</g>
<g clip-path="url(#cpf3)"><rect x="131" y="286.5" width="62" height="53.2" fill="#26bcc4"/>
<g filter="url(#blur4)" opacity="0.7"><rect x="131" y="286.5" width="62" height="8" fill="#0a5058"/><ellipse cx="150" cy="300" rx="12" ry="8" fill="#157a80"/></g>
<rect x="131" y="286.5" width="62" height="53.2" filter="url(#nzc)" opacity="0.55"/>
<rect x="131" y="286.5" width="62" height="53.2" filter="url(#nz)" opacity="0.35"/>
<rect x="131" y="286.5" width="62" height="53.2" filter="url(#nzcw)" opacity="0.25"/>
</g>
<g clip-path="url(#cpf4)"><rect x="194.7" y="286.5" width="61.6" height="53.2" fill="#e01c1c"/>
<g filter="url(#blur4)" opacity="0.6"><rect x="194.7" y="286.5" width="61.6" height="7" fill="#600808"/></g>
<rect x="194.7" y="286.5" width="61.6" height="53.2" filter="url(#nzc)" opacity="0.7"/>
<rect x="194.7" y="286.5" width="61.6" height="53.2" filter="url(#nz)" opacity="0.45"/>
</g>
<text x="134.3" y="246.3" font-size="12.5" font-weight="bold" fill="#111" font-family="Liberation Sans, Arial, sans-serif">(f)</text>
<text x="244.8" y="241.8" font-size="9.2" font-weight="bold" fill="#fff" font-family="Liberation Sans, Arial, sans-serif">Ti</text>
<text x="181.2" y="296.4" font-size="9.2" font-weight="bold" fill="#fff" font-family="Liberation Sans, Arial, sans-serif">O</text>
<text x="243.6" y="297.1" font-size="9.2" font-weight="bold" fill="#fff" font-family="Liberation Sans, Arial, sans-serif">Si</text>
<text x="244.8" y="332" font-size="6.6" font-weight="bold" fill="#fff" font-family="Liberation Sans, Arial, sans-serif" text-anchor="middle">10 nm</text>
<rect x="240" y="334.5" width="11.3" height="1.5" fill="#fff"/>
<g class="pl"><path d="M288.3,28.38 L288.44,28.38 L288.58,28.38 L288.72,28.38 L288.86,28.38 L288.99,28.38 L289.13,28.37 L289.27,28.37 L289.41,28.37 L289.55,28.37 L289.69,28.37 L289.83,28.36 L289.97,28.36 L290.1,28.36 L290.24,28.36 L290.38,28.36 L290.52,28.35 L290.66,28.35 L290.8,28.35 L290.94,28.34 L291.07,28.34 L291.21,28.34 L291.35,28.33 L291.49,28.33 L291.63,28.33 L291.77,28.32 L291.91,28.32 L292.05,28.31 L292.19,28.31 L292.32,28.3 L292.46,28.3 L292.6,28.29 L292.74,28.29 L292.88,28.28 L293.02,28.28 L293.16,28.27 L293.3,28.26 L293.43,28.26 L293.57,28.25 L293.71,28.24 L293.85,28.24 L293.99,28.23 L294.13,28.22 L294.27,28.21 L294.4,28.2 L294.54,28.2 L294.68,28.19 L294.82,28.18 L294.96,28.17 L295.1,28.16 L295.24,28.15 L295.38,28.14 L295.51,28.13 L295.65,28.12 L295.79,28.11 L295.93,28.1 L296.07,28.09 L296.21,28.08 L296.35,28.07 L296.49,28.05 L296.62,28.04 L296.76,28.03 L296.9,28.02 L297.04,28.01 L297.18,27.99 L297.32,27.98 L297.46,27.97 L297.6,27.96 L297.74,27.94 L297.87,27.93 L298.01,27.92 L298.15,27.91 L298.29,27.89 L298.43,27.88 L298.57,27.87 L298.71,27.86 L298.85,27.84 L298.98,27.83 L299.12,27.82 L299.26,27.81 L299.4,27.79 L299.54,27.78 L299.68,27.77 L299.82,27.76 L299.96,27.75 L300.09,27.74 L300.23,27.72 L300.37,27.71 L300.51,27.7 L300.65,27.69 L300.79,27.68 L300.93,27.67 L301.07,27.66 L301.2,27.66 L301.34,27.65 L301.48,27.64 L301.62,27.63 L301.76,27.62 L301.9,27.62 L302.04,27.61 L302.18,27.6 L302.31,27.6 L302.45,27.59 L302.59,27.59 L302.73,27.58 L302.87,27.58 L303.01,27.58 L303.15,27.57 L303.29,27.57 L303.42,27.57 L303.56,27.57 L303.7,27.57 L303.84,27.56 L303.98,27.56 L304.12,27.56 L304.26,27.56 L304.4,27.57 L304.53,27.57 L304.67,27.57 L304.81,27.57 L304.95,27.57 L305.09,27.57 L305.23,27.58 L305.37,27.58 L305.51,27.58 L305.64,27.58 L305.78,27.58 L305.92,27.59 L306.06,27.59 L306.2,27.59 L306.34,27.59 L306.48,27.59 L306.62,27.59 L306.75,27.58 L306.89,27.58 L307.03,27.57 L307.17,27.56 L307.31,27.55 L307.45,27.53 L307.59,27.5 L307.73,27.47 L307.86,27.57 L308,27.6 L308.14,27.6 L308.28,27.56 L308.42,27.47 L308.56,27.31 L308.7,27.04 L308.84,26.59 L308.97,25.81 L309.11,24.47 L309.25,22.16 L309.39,18.84 L309.53,16.85 L309.67,18.96 L309.81,22.4 L309.95,24.83 L310.08,26.29 L310.22,27.19 L310.36,27.77 L310.5,28.17 L310.64,28.45 L310.78,28.67 L310.92,28.85 L311.06,28.99 L311.19,29.11 L311.33,29.22 L311.47,29.31 L311.61,29.4 L311.75,29.48 L311.89,29.55 L312.03,29.61 L312.17,29.68 L312.3,29.74 L312.44,29.8 L312.58,29.85 L312.72,29.91 L312.86,29.96 L313,30.01 L313.14,30.06 L313.28,30.11 L313.41,30.15 L313.55,30.2 L313.69,30.24 L313.83,30.29 L313.97,30.33 L314.11,30.37 L314.25,30.41 L314.39,30.45 L314.52,30.49 L314.66,30.53 L314.8,30.57 L314.94,30.61 L315.08,30.65 L315.22,30.68 L315.36,30.72 L315.5,30.76 L315.63,30.79 L315.77,30.83 L315.91,30.86 L316.05,30.9 L316.19,30.93 L316.33,30.97 L316.47,31 L316.61,31.03 L316.74,31.07 L316.88,31.1 L317.02,31.13 L317.16,31.16 L317.3,31.19 L317.44,31.23 L317.58,31.26 L317.72,31.29 L317.85,31.32 L317.99,31.35 L318.13,31.38 L318.27,31.41 L318.41,31.44 L318.55,31.47 L318.69,31.5 L318.83,31.53 L318.96,31.56 L319.1,31.58 L319.24,31.61 L319.38,31.64 L319.52,31.67 L319.66,31.7 L319.8,31.72 L319.94,31.75 L320.07,31.78 L320.21,31.81 L320.35,31.83 L320.49,31.86 L320.63,31.89 L320.77,31.91 L320.91,31.94 L321.05,31.97 L321.18,31.99 L321.32,32.02 L321.46,32.04 L321.6,32.07 L321.74,32.09 L321.88,32.12 L322.02,32.15 L322.16,32.17 L322.29,32.19 L322.43,32.22 L322.57,32.24 L322.71,32.27 L322.85,32.29 L322.99,32.32 L323.13,32.34 L323.27,32.36 L323.4,32.38 L323.54,32.41 L323.68,32.43 L323.82,32.45 L323.96,32.47 L324.1,32.49 L324.24,32.51 L324.38,32.53 L324.51,32.52 L324.65,32.51 L324.79,32.5 L324.93,32.49 L325.07,32.48 L325.21,32.46 L325.35,32.43 L325.49,32.4 L325.62,32.36 L325.76,32.3 L325.9,32.22 L326.04,32.11 L326.18,31.94 L326.32,31.68 L326.46,31.26 L326.6,30.62 L326.73,29.8 L326.87,29.35 L327.01,29.8 L327.15,30.62 L327.29,31.26 L327.43,31.68 L327.57,31.94 L327.71,32.11 L327.84,32.22 L327.98,32.3 L328.12,32.36 L328.26,32.4 L328.4,32.43 L328.54,32.46 L328.68,32.48 L328.82,32.49 L328.95,32.5 L329.09,32.51 L329.23,32.52 L329.37,32.53 L329.51,32.54 L329.65,32.54 L329.79,32.55 L329.93,32.55 L330.06,32.55 L330.2,32.56 L330.34,32.56 L330.48,32.56 L330.62,32.56 L330.76,32.56 L330.9,32.57 L331.04,32.57 L331.17,32.57 L331.31,32.57 L331.45,32.57 L331.59,32.57 L331.73,32.57 L331.87,32.57 L332.01,32.57 L332.15,32.57 L332.28,32.57 L332.42,32.57 L332.56,32.57 L332.7,32.58 L332.84,32.58 L332.98,32.58 L333.12,32.58 L333.26,32.58 L333.39,32.58 L333.53,32.58 L333.67,32.58 L333.81,32.58 L333.95,32.58 L334.09,32.58 L334.23,32.58 L334.37,32.57 L334.5,32.57 L334.64,32.57 L334.78,32.57 L334.92,32.57 L335.06,32.57 L335.2,32.57 L335.34,32.57 L335.48,32.57 L335.61,32.57 L335.75,32.57 L335.89,32.57 L336.03,32.57 L336.17,32.57 L336.31,32.56 L336.45,32.56 L336.59,32.56 L336.72,32.56 L336.86,32.56 L337,32.56 L337.14,32.55 L337.28,32.55 L337.42,32.55 L337.56,32.54 L337.7,32.54 L337.83,32.54 L337.97,32.53 L338.11,32.52 L338.25,32.52 L338.39,32.51 L338.53,32.5 L338.67,32.49 L338.81,32.48 L338.94,32.46 L339.08,32.45 L339.22,32.43 L339.36,32.4 L339.5,32.36 L339.64,32.32 L339.78,32.26 L339.92,32.18 L340.05,32.07 L340.19,31.91 L340.33,31.67 L340.47,31.31 L340.61,30.72 L340.75,29.81 L340.89,28.65 L341.03,28.03 L341.16,28.65 L341.3,29.8 L341.44,30.72 L341.58,31.3 L341.72,31.67 L341.86,31.91 L342,32.07 L342.14,32.18 L342.27,32.26 L342.41,32.31 L342.55,32.36 L342.69,32.39 L342.83,32.42 L342.97,32.44 L343.11,32.45 L343.25,32.47 L343.38,32.48 L343.52,32.49 L343.66,32.5 L343.8,32.5 L343.94,32.51 L344.08,32.51 L344.22,32.52 L344.36,32.52 L344.49,32.52 L344.63,32.52 L344.77,32.53 L344.91,32.53 L345.05,32.53 L345.19,32.53 L345.33,32.53 L345.47,32.53 L345.6,32.52 L345.74,32.52 L345.88,32.52 L346.02,32.52 L346.16,32.51 L346.3,32.51 L346.44,32.5 L346.58,32.5 L346.71,32.49 L346.85,32.48 L346.99,32.47 L347.13,32.46 L347.27,32.45 L347.41,32.43 L347.55,32.41 L347.69,32.38 L347.82,32.34 L347.96,32.3 L348.1,32.24 L348.24,32.15 L348.38,32.04 L348.52,31.88 L348.66,31.64 L348.8,31.29 L348.93,30.82 L349.07,30.31 L349.21,30.05 L349.35,30.26 L349.49,30.73 L349.63,31.15 L349.77,31.43 L349.91,31.58 L350.04,31.63 L350.18,31.58 L350.32,31.43 L350.46,31.15 L350.6,30.73 L350.74,30.26 L350.88,30.05 L351.02,30.31 L351.15,30.82 L351.29,31.3 L351.43,31.64 L351.57,31.88 L351.71,32.04 L351.85,32.16 L351.99,32.24 L352.13,32.3 L352.26,32.35 L352.4,32.38 L352.54,32.41 L352.68,32.43 L352.82,32.45 L352.96,32.47 L353.1,32.48 L353.24,32.49 L353.37,32.5 L353.51,32.51 L353.65,32.52 L353.79,32.52 L353.93,32.53 L354.07,32.53 L354.21,32.54 L354.35,32.54 L354.48,32.54 L354.62,32.54 L354.76,32.55 L354.9,32.55 L355.04,32.55 L355.18,32.55 L355.32,32.55 L355.46,32.56 L355.59,32.56 L355.73,32.56 L355.87,32.56 L356.01,32.56 L356.15,32.56 L356.29,32.56 L356.43,32.56 L356.57,32.56 L356.7,32.56 L356.84,32.56 L356.98,32.56 L357.12,32.56 L357.26,32.56 L357.4,32.56 L357.54,32.56 L357.68,32.56 L357.81,32.56 L357.95,32.56 L358.09,32.56 L358.23,32.55 L358.37,32.55 L358.51,32.55 L358.65,32.55 L358.79,32.54 L358.92,32.54 L359.06,32.53 L359.2,32.53 L359.34,32.52 L359.48,32.51 L359.62,32.5 L359.76,32.49 L359.9,32.47 L360.03,32.45 L360.17,32.42 L360.31,32.38 L360.45,32.33 L360.59,32.25 L360.73,32.14 L360.87,31.98 L361.01,31.75 L361.14,31.42 L361.28,31.08 L361.42,30.91 L361.56,31.08 L361.7,31.42 L361.84,31.75 L361.98,31.98 L362.12,32.14 L362.25,32.25 L362.39,32.33 L362.53,32.38 L362.67,32.42 L362.81,32.45 L362.95,32.47 L363.09,32.49 L363.23,32.5 L363.36,32.51 L363.5,32.52 L363.64,32.53 L363.78,32.54 L363.92,32.54 L364.06,32.55 L364.2,32.55 L364.34,32.55 L364.47,32.56 L364.61,32.56 L364.75,32.56 L364.89,32.56 L365.03,32.56 L365.17,32.56 L365.31,32.56 L365.45,32.57 L365.58,32.57 L365.72,32.57 L365.86,32.57 L366,32.57 L366.14,32.57 L366.28,32.57 L366.42,32.57 L366.56,32.57 L366.69,32.56 L366.83,32.56 L366.97,32.56 L367.11,32.56 L367.25,32.56 L367.39,32.56 L367.53,32.55 L367.67,32.55 L367.8,32.55 L367.94,32.54 L368.08,32.54 L368.22,32.53 L368.36,32.52 L368.5,32.51 L368.64,32.49 L368.78,32.47 L368.91,32.44 L369.05,32.4 L369.19,32.35 L369.33,32.27 L369.47,32.15 L369.61,31.98 L369.75,31.81 L369.89,31.72 L370.02,31.8 L370.16,31.97 L370.3,32.12 L370.44,32.23 L370.58,32.3 L370.72,32.34 L370.86,32.36 L371,32.36 L371.13,32.34 L371.27,32.3 L371.41,32.23 L371.55,32.12 L371.69,31.97 L371.83,31.8 L371.97,31.72 L372.11,31.81 L372.24,31.98 L372.38,32.15 L372.52,32.27 L372.66,32.35 L372.8,32.4 L372.94,32.44 L373.08,32.47 L373.22,32.49 L373.35,32.51 L373.49,32.52 L373.63,32.53 L373.77,32.54 L373.91,32.54 L374.05,32.55 L374.19,32.55 L374.33,32.55 L374.46,32.56 L374.6,32.56 L374.74,32.56 L374.88,32.56 L375.02,32.56 L375.16,32.56 L375.3,32.56 L375.44,32.56 L375.57,32.56 L375.71,32.56 L375.85,32.56 L375.99,32.56 L376.13,32.55 L376.27,32.55 L376.41,32.55 L376.55,32.54 L376.68,32.54 L376.82,32.53 L376.96,32.52 L377.1,32.51 L377.24,32.49 L377.38,32.47 L377.52,32.44 L377.66,32.4 L377.79,32.34 L377.93,32.24 L378.07,32.11 L378.21,31.93 L378.35,31.73 L378.49,31.63 L378.63,31.73 L378.77,31.93 L378.9,32.11 L379.04,32.25 L379.18,32.34 L379.32,32.4 L379.46,32.44 L379.6,32.47 L379.74,32.5 L379.88,32.51 L380.01,32.53 L380.15,32.54 L380.29,32.54 L380.43,32.55 L380.57,32.56 L380.71,32.56 L380.85,32.56 L380.98,32.57 L381.12,32.57 L381.26,32.57 L381.4,32.57 L381.54,32.58 L381.68,32.58 L381.82,32.58 L381.96,32.58 L382.09,32.58 L382.23,32.58 L382.37,32.58 L382.51,32.58 L382.65,32.58 L382.79,32.58 L382.93,32.58 L383.07,32.59 L383.2,32.59 L383.34,32.59 L383.48,32.59 L383.62,32.59 L383.76,32.59 L383.9,32.59 L384.04,32.59 L384.18,32.59 L384.31,32.59 L384.45,32.59 L384.59,32.59 L384.73,32.59 L384.87,32.59 L385.01,32.59 L385.15,32.59 L385.29,32.59 L385.42,32.59 L385.56,32.59 L385.7,32.59 L385.84,32.58 L385.98,32.58 L386.12,32.58 L386.26,32.58 L386.4,32.58 L386.53,32.58 L386.67,32.58 L386.81,32.58 L386.95,32.57 L387.09,32.57 L387.23,32.57 L387.37,32.56 L387.51,32.56 L387.64,32.55 L387.78,32.55 L387.92,32.54 L388.06,32.52 L388.2,32.5 L388.34,32.48 L388.48,32.44 L388.62,32.38 L388.75,32.3 L388.89,32.18 L389.03,32.06 L389.17,32 L389.31,32.06 L389.45,32.18 L389.59,32.3 L389.73,32.38 L389.86,32.44 L390,32.48 L390.14,32.5 L390.28,32.52 L390.42,32.54 L390.56,32.55 L390.7,32.56 L390.84,32.56 L390.97,32.57 L391.11,32.57 L391.25,32.57 L391.39,32.58 L391.53,32.58 L391.67,32.58 L391.81,32.58 L391.95,32.58 L392.08,32.59 L392.22,32.59 L392.36,32.59 L392.5,32.59 L392.64,32.59 L392.78,32.59 L392.92,32.59 L393.06,32.59 L393.19,32.59 L393.33,32.59 L393.47,32.59 L393.61,32.59 L393.75,32.59 L393.89,32.59 L394.03,32.59 L394.17,32.59 L394.3,32.59 L394.44,32.59 L394.58,32.59 L394.72,32.59 L394.86,32.59 L395,32.59 L395.14,32.59 L395.28,32.6 L395.41,32.6 L395.55,32.6 L395.69,32.6 L395.83,32.6 L395.97,32.6 L396.11,32.6 L396.25,32.6 L396.39,32.6 L396.52,32.6 L396.66,32.6 L396.8,32.6 L396.94,32.6 L397.08,32.6 L397.22,32.6 L397.36,32.6 L397.5,32.6 L397.63,32.6 L397.77,32.6 L397.91,32.6 L398.05,32.6 L398.19,32.6 L398.33,32.6 L398.47,32.6 L398.61,32.6 L398.74,32.6 L398.88,32.6 L399.02,32.6 L399.16,32.6 L399.3,32.6" fill="none" stroke="#6cc46c" stroke-width="1.1" stroke-linejoin="round" stroke-linecap="round"/>
<path d="M288.3,47.28 L288.44,47.28 L288.58,47.28 L288.72,47.28 L288.86,47.28 L288.99,47.28 L289.13,47.28 L289.27,47.28 L289.41,47.28 L289.55,47.27 L289.69,47.27 L289.83,47.27 L289.97,47.27 L290.1,47.27 L290.24,47.27 L290.38,47.26 L290.52,47.26 L290.66,47.26 L290.8,47.26 L290.94,47.26 L291.07,47.25 L291.21,47.25 L291.35,47.25 L291.49,47.24 L291.63,47.24 L291.77,47.24 L291.91,47.24 L292.05,47.23 L292.19,47.23 L292.32,47.22 L292.46,47.22 L292.6,47.22 L292.74,47.21 L292.88,47.21 L293.02,47.2 L293.16,47.2 L293.3,47.19 L293.43,47.19 L293.57,47.18 L293.71,47.18 L293.85,47.17 L293.99,47.17 L294.13,47.16 L294.27,47.16 L294.4,47.15 L294.54,47.14 L294.68,47.14 L294.82,47.13 L294.96,47.12 L295.1,47.12 L295.24,47.11 L295.38,47.1 L295.51,47.09 L295.65,47.09 L295.79,47.08 L295.93,47.07 L296.07,47.06 L296.21,47.05 L296.35,47.04 L296.49,47.04 L296.62,47.03 L296.76,47.02 L296.9,47.01 L297.04,47 L297.18,46.99 L297.32,46.98 L297.46,46.97 L297.6,46.96 L297.74,46.95 L297.87,46.94 L298.01,46.93 L298.15,46.92 L298.29,46.91 L298.43,46.9 L298.57,46.89 L298.71,46.88 L298.85,46.88 L298.98,46.87 L299.12,46.86 L299.26,46.85 L299.4,46.84 L299.54,46.83 L299.68,46.82 L299.82,46.81 L299.96,46.8 L300.09,46.79 L300.23,46.78 L300.37,46.78 L300.51,46.77 L300.65,46.76 L300.79,46.75 L300.93,46.74 L301.07,46.74 L301.2,46.73 L301.34,46.72 L301.48,46.72 L301.62,46.71 L301.76,46.71 L301.9,46.7 L302.04,46.69 L302.18,46.69 L302.31,46.68 L302.45,46.68 L302.59,46.68 L302.73,46.67 L302.87,46.67 L303.01,46.66 L303.15,46.66 L303.29,46.66 L303.42,46.66 L303.56,46.65 L303.7,46.65 L303.84,46.65 L303.98,46.65 L304.12,46.65 L304.26,46.65 L304.4,46.65 L304.53,46.65 L304.67,46.65 L304.81,46.64 L304.95,46.64 L305.09,46.64 L305.23,46.64 L305.37,46.64 L305.51,46.64 L305.64,46.64 L305.78,46.64 L305.92,46.63 L306.06,46.63 L306.2,46.63 L306.34,46.62 L306.48,46.62 L306.62,46.61 L306.75,46.6 L306.89,46.58 L307.03,46.57 L307.17,46.55 L307.31,46.52 L307.45,46.49 L307.59,46.44 L307.73,46.39 L307.86,46.46 L308,46.46 L308.14,46.41 L308.28,46.32 L308.42,46.16 L308.56,45.9 L308.7,45.49 L308.84,44.83 L308.97,43.74 L309.11,41.86 L309.25,38.65 L309.39,34.07 L309.53,31.29 L309.67,34.17 L309.81,38.86 L309.95,42.18 L310.08,44.17 L310.22,45.37 L310.36,46.14 L310.5,46.66 L310.64,47.03 L310.78,47.31 L310.92,47.52 L311.06,47.7 L311.19,47.84 L311.33,47.96 L311.47,48.07 L311.61,48.16 L311.75,48.24 L311.89,48.32 L312.03,48.39 L312.17,48.45 L312.3,48.52 L312.44,48.57 L312.58,48.63 L312.72,48.68 L312.86,48.73 L313,48.78 L313.14,48.83 L313.28,48.87 L313.41,48.92 L313.55,48.96 L313.69,49 L313.83,49.05 L313.97,49.09 L314.11,49.13 L314.25,49.16 L314.39,49.2 L314.52,49.24 L314.66,49.28 L314.8,49.31 L314.94,49.35 L315.08,49.38 L315.22,49.42 L315.36,49.45 L315.5,49.49 L315.63,49.52 L315.77,49.55 L315.91,49.58 L316.05,49.62 L316.19,49.65 L316.33,49.68 L316.47,49.71 L316.61,49.74 L316.74,49.77 L316.88,49.8 L317.02,49.83 L317.16,49.86 L317.3,49.89 L317.44,49.92 L317.58,49.95 L317.72,49.98 L317.85,50 L317.99,50.03 L318.13,50.06 L318.27,50.09 L318.41,50.12 L318.55,50.14 L318.69,50.17 L318.83,50.2 L318.96,50.22 L319.1,50.25 L319.24,50.28 L319.38,50.3 L319.52,50.33 L319.66,50.35 L319.8,50.38 L319.94,50.4 L320.07,50.43 L320.21,50.45 L320.35,50.48 L320.49,50.5 L320.63,50.53 L320.77,50.55 L320.91,50.58 L321.05,50.6 L321.18,50.63 L321.32,50.65 L321.46,50.67 L321.6,50.7 L321.74,50.72 L321.88,50.74 L322.02,50.77 L322.16,50.79 L322.29,50.81 L322.43,50.83 L322.57,50.86 L322.71,50.88 L322.85,50.9 L322.99,50.92 L323.13,50.94 L323.27,50.96 L323.4,50.98 L323.54,51 L323.68,51.02 L323.82,51.04 L323.96,51.06 L324.1,51.07 L324.24,51.09 L324.38,51.1 L324.51,51.09 L324.65,51.08 L324.79,51.07 L324.93,51.05 L325.07,51.03 L325.21,51 L325.35,50.97 L325.49,50.93 L325.62,50.87 L325.76,50.79 L325.9,50.68 L326.04,50.53 L326.18,50.3 L326.32,49.94 L326.46,49.36 L326.6,48.47 L326.73,47.35 L326.87,46.73 L327.01,47.35 L327.15,48.47 L327.29,49.36 L327.43,49.94 L327.57,50.3 L327.71,50.53 L327.84,50.68 L327.98,50.79 L328.12,50.87 L328.26,50.93 L328.4,50.97 L328.54,51 L328.68,51.03 L328.82,51.05 L328.95,51.07 L329.09,51.08 L329.23,51.09 L329.37,51.1 L329.51,51.11 L329.65,51.12 L329.79,51.12 L329.93,51.13 L330.06,51.13 L330.2,51.14 L330.34,51.14 L330.48,51.15 L330.62,51.15 L330.76,51.15 L330.9,51.15 L331.04,51.15 L331.17,51.16 L331.31,51.16 L331.45,51.16 L331.59,51.16 L331.73,51.16 L331.87,51.16 L332.01,51.16 L332.15,51.16 L332.28,51.16 L332.42,51.16 L332.56,51.17 L332.7,51.17 L332.84,51.17 L332.98,51.17 L333.12,51.17 L333.26,51.17 L333.39,51.17 L333.53,51.17 L333.67,51.17 L333.81,51.17 L333.95,51.17 L334.09,51.17 L334.23,51.17 L334.37,51.17 L334.5,51.16 L334.64,51.16 L334.78,51.16 L334.92,51.16 L335.06,51.16 L335.2,51.16 L335.34,51.16 L335.48,51.16 L335.61,51.16 L335.75,51.16 L335.89,51.16 L336.03,51.15 L336.17,51.15 L336.31,51.15 L336.45,51.15 L336.59,51.15 L336.72,51.14 L336.86,51.14 L337,51.14 L337.14,51.14 L337.28,51.13 L337.42,51.13 L337.56,51.12 L337.7,51.12 L337.83,51.11 L337.97,51.1 L338.11,51.1 L338.25,51.09 L338.39,51.08 L338.53,51.07 L338.67,51.05 L338.81,51.03 L338.94,51.01 L339.08,50.99 L339.22,50.96 L339.36,50.92 L339.5,50.88 L339.64,50.81 L339.78,50.73 L339.92,50.62 L340.05,50.47 L340.19,50.25 L340.33,49.93 L340.47,49.42 L340.61,48.61 L340.75,47.36 L340.89,45.77 L341.03,44.91 L341.16,45.77 L341.3,47.36 L341.44,48.61 L341.58,49.42 L341.72,49.92 L341.86,50.25 L342,50.47 L342.14,50.62 L342.27,50.73 L342.41,50.81 L342.55,50.87 L342.69,50.91 L342.83,50.95 L342.97,50.98 L343.11,51 L343.25,51.02 L343.38,51.04 L343.52,51.05 L343.66,51.06 L343.8,51.07 L343.94,51.07 L344.08,51.08 L344.22,51.09 L344.36,51.09 L344.49,51.09 L344.63,51.1 L344.77,51.1 L344.91,51.1 L345.05,51.1 L345.19,51.1 L345.33,51.1 L345.47,51.1 L345.6,51.1 L345.74,51.09 L345.88,51.09 L346.02,51.09 L346.16,51.08 L346.3,51.07 L346.44,51.07 L346.58,51.06 L346.71,51.05 L346.85,51.04 L346.99,51.02 L347.13,51.01 L347.27,50.99 L347.41,50.96 L347.55,50.93 L347.69,50.89 L347.82,50.85 L347.96,50.78 L348.1,50.7 L348.24,50.59 L348.38,50.43 L348.52,50.21 L348.66,49.88 L348.8,49.4 L348.93,48.75 L349.07,48.05 L349.21,47.69 L349.35,47.98 L349.49,48.63 L349.63,49.2 L349.77,49.59 L349.91,49.8 L350.04,49.86 L350.18,49.8 L350.32,49.59 L350.46,49.2 L350.6,48.63 L350.74,47.99 L350.88,47.69 L351.02,48.05 L351.15,48.76 L351.29,49.41 L351.43,49.89 L351.57,50.21 L351.71,50.44 L351.85,50.59 L351.99,50.71 L352.13,50.79 L352.26,50.85 L352.4,50.9 L352.54,50.94 L352.68,50.97 L352.82,51 L352.96,51.02 L353.1,51.04 L353.24,51.05 L353.37,51.06 L353.51,51.07 L353.65,51.08 L353.79,51.09 L353.93,51.1 L354.07,51.11 L354.21,51.11 L354.35,51.12 L354.48,51.12 L354.62,51.12 L354.76,51.13 L354.9,51.13 L355.04,51.13 L355.18,51.14 L355.32,51.14 L355.46,51.14 L355.59,51.14 L355.73,51.14 L355.87,51.14 L356.01,51.15 L356.15,51.15 L356.29,51.15 L356.43,51.15 L356.57,51.15 L356.7,51.15 L356.84,51.15 L356.98,51.15 L357.12,51.15 L357.26,51.15 L357.4,51.15 L357.54,51.15 L357.68,51.14 L357.81,51.14 L357.95,51.14 L358.09,51.14 L358.23,51.14 L358.37,51.13 L358.51,51.13 L358.65,51.13 L358.79,51.12 L358.92,51.12 L359.06,51.11 L359.2,51.1 L359.34,51.09 L359.48,51.08 L359.62,51.06 L359.76,51.04 L359.9,51.02 L360.03,50.99 L360.17,50.95 L360.31,50.9 L360.45,50.82 L360.59,50.72 L360.73,50.57 L360.87,50.35 L361.01,50.03 L361.14,49.58 L361.28,49.1 L361.42,48.87 L361.56,49.1 L361.7,49.58 L361.84,50.03 L361.98,50.35 L362.12,50.57 L362.25,50.72 L362.39,50.82 L362.53,50.9 L362.67,50.95 L362.81,50.99 L362.95,51.02 L363.09,51.05 L363.23,51.07 L363.36,51.08 L363.5,51.09 L363.64,51.1 L363.78,51.11 L363.92,51.12 L364.06,51.13 L364.2,51.13 L364.34,51.13 L364.47,51.14 L364.61,51.14 L364.75,51.14 L364.89,51.15 L365.03,51.15 L365.17,51.15 L365.31,51.15 L365.45,51.15 L365.58,51.15 L365.72,51.15 L365.86,51.15 L366,51.15 L366.14,51.15 L366.28,51.15 L366.42,51.15 L366.56,51.15 L366.69,51.15 L366.83,51.15 L366.97,51.15 L367.11,51.15 L367.25,51.14 L367.39,51.14 L367.53,51.14 L367.67,51.13 L367.8,51.13 L367.94,51.12 L368.08,51.11 L368.22,51.1 L368.36,51.09 L368.5,51.07 L368.64,51.05 L368.78,51.02 L368.91,50.98 L369.05,50.93 L369.19,50.85 L369.33,50.74 L369.47,50.58 L369.61,50.35 L369.75,50.11 L369.89,49.99 L370.02,50.1 L370.16,50.33 L370.3,50.54 L370.44,50.69 L370.58,50.79 L370.72,50.84 L370.86,50.87 L371,50.87 L371.13,50.84 L371.27,50.79 L371.41,50.69 L371.55,50.54 L371.69,50.33 L371.83,50.1 L371.97,49.99 L372.11,50.11 L372.24,50.35 L372.38,50.58 L372.52,50.74 L372.66,50.85 L372.8,50.93 L372.94,50.99 L373.08,51.02 L373.22,51.05 L373.35,51.07 L373.49,51.09 L373.63,51.1 L373.77,51.11 L373.91,51.12 L374.05,51.13 L374.19,51.13 L374.33,51.14 L374.46,51.14 L374.6,51.14 L374.74,51.14 L374.88,51.15 L375.02,51.15 L375.16,51.15 L375.3,51.15 L375.44,51.15 L375.57,51.15 L375.71,51.15 L375.85,51.14 L375.99,51.14 L376.13,51.14 L376.27,51.13 L376.41,51.13 L376.55,51.12 L376.68,51.11 L376.82,51.1 L376.96,51.09 L377.1,51.07 L377.24,51.05 L377.38,51.02 L377.52,50.98 L377.66,50.92 L377.79,50.84 L377.93,50.71 L378.07,50.53 L378.21,50.27 L378.35,50 L378.49,49.87 L378.63,50 L378.77,50.27 L378.9,50.53 L379.04,50.71 L379.18,50.84 L379.32,50.92 L379.46,50.98 L379.6,51.03 L379.74,51.06 L379.88,51.08 L380.01,51.1 L380.15,51.11 L380.29,51.12 L380.43,51.13 L380.57,51.14 L380.71,51.15 L380.85,51.15 L380.98,51.15 L381.12,51.16 L381.26,51.16 L381.4,51.16 L381.54,51.17 L381.68,51.17 L381.82,51.17 L381.96,51.17 L382.09,51.17 L382.23,51.17 L382.37,51.18 L382.51,51.18 L382.65,51.18 L382.79,51.18 L382.93,51.18 L383.07,51.18 L383.2,51.18 L383.34,51.18 L383.48,51.18 L383.62,51.18 L383.76,51.18 L383.9,51.18 L384.04,51.18 L384.18,51.18 L384.31,51.18 L384.45,51.18 L384.59,51.18 L384.73,51.18 L384.87,51.18 L385.01,51.18 L385.15,51.18 L385.29,51.18 L385.42,51.18 L385.56,51.18 L385.7,51.18 L385.84,51.18 L385.98,51.18 L386.12,51.18 L386.26,51.18 L386.4,51.17 L386.53,51.17 L386.67,51.17 L386.81,51.17 L386.95,51.17 L387.09,51.16 L387.23,51.16 L387.37,51.15 L387.51,51.15 L387.64,51.14 L387.78,51.13 L387.92,51.11 L388.06,51.09 L388.2,51.07 L388.34,51.03 L388.48,50.98 L388.62,50.9 L388.75,50.78 L388.89,50.62 L389.03,50.45 L389.17,50.37 L389.31,50.45 L389.45,50.62 L389.59,50.78 L389.73,50.9 L389.86,50.98 L390,51.03 L390.14,51.07 L390.28,51.09 L390.42,51.11 L390.56,51.13 L390.7,51.14 L390.84,51.15 L390.97,51.15 L391.11,51.16 L391.25,51.16 L391.39,51.17 L391.53,51.17 L391.67,51.17 L391.81,51.18 L391.95,51.18 L392.08,51.18 L392.22,51.18 L392.36,51.18 L392.5,51.18 L392.64,51.18 L392.78,51.19 L392.92,51.19 L393.06,51.19 L393.19,51.19 L393.33,51.19 L393.47,51.19 L393.61,51.19 L393.75,51.19 L393.89,51.19 L394.03,51.19 L394.17,51.19 L394.3,51.19 L394.44,51.19 L394.58,51.19 L394.72,51.19 L394.86,51.19 L395,51.19 L395.14,51.19 L395.28,51.19 L395.41,51.19 L395.55,51.19 L395.69,51.19 L395.83,51.19 L395.97,51.19 L396.11,51.19 L396.25,51.19 L396.39,51.19 L396.52,51.19 L396.66,51.19 L396.8,51.19 L396.94,51.19 L397.08,51.2 L397.22,51.2 L397.36,51.2 L397.5,51.2 L397.63,51.2 L397.77,51.2 L397.91,51.2 L398.05,51.2 L398.19,51.2 L398.33,51.2 L398.47,51.2 L398.61,51.2 L398.74,51.2 L398.88,51.2 L399.02,51.2 L399.16,51.2 L399.3,51.2" fill="none" stroke="#4a94d4" stroke-width="1.1" stroke-linejoin="round" stroke-linecap="round"/>
<path d="M288.3,66.37 L288.44,66.37 L288.58,66.37 L288.72,66.37 L288.86,66.36 L288.99,66.36 L289.13,66.36 L289.27,66.36 L289.41,66.35 L289.55,66.35 L289.69,66.35 L289.83,66.34 L289.97,66.34 L290.1,66.34 L290.24,66.33 L290.38,66.33 L290.52,66.33 L290.66,66.32 L290.8,66.32 L290.94,66.31 L291.07,66.31 L291.21,66.3 L291.35,66.29 L291.49,66.29 L291.63,66.28 L291.77,66.28 L291.91,66.27 L292.05,66.26 L292.19,66.25 L292.32,66.25 L292.46,66.24 L292.6,66.23 L292.74,66.22 L292.88,66.21 L293.02,66.2 L293.16,66.19 L293.3,66.18 L293.43,66.17 L293.57,66.16 L293.71,66.15 L293.85,66.14 L293.99,66.12 L294.13,66.11 L294.27,66.1 L294.4,66.08 L294.54,66.07 L294.68,66.06 L294.82,66.04 L294.96,66.03 L295.1,66.01 L295.24,66 L295.38,65.98 L295.51,65.96 L295.65,65.95 L295.79,65.93 L295.93,65.91 L296.07,65.9 L296.21,65.88 L296.35,65.86 L296.49,65.84 L296.62,65.82 L296.76,65.8 L296.9,65.78 L297.04,65.76 L297.18,65.74 L297.32,65.72 L297.46,65.7 L297.6,65.68 L297.74,65.66 L297.87,65.64 L298.01,65.62 L298.15,65.6 L298.29,65.58 L298.43,65.56 L298.57,65.54 L298.71,65.52 L298.85,65.5 L298.98,65.48 L299.12,65.46 L299.26,65.44 L299.4,65.42 L299.54,65.4 L299.68,65.38 L299.82,65.36 L299.96,65.34 L300.09,65.33 L300.23,65.31 L300.37,65.29 L300.51,65.27 L300.65,65.26 L300.79,65.24 L300.93,65.23 L301.07,65.21 L301.2,65.2 L301.34,65.18 L301.48,65.17 L301.62,65.16 L301.76,65.15 L301.9,65.14 L302.04,65.13 L302.18,65.12 L302.31,65.11 L302.45,65.1 L302.59,65.09 L302.73,65.08 L302.87,65.08 L303.01,65.07 L303.15,65.07 L303.29,65.07 L303.42,65.06 L303.56,65.06 L303.7,65.06 L303.84,65.06 L303.98,65.06 L304.12,65.06 L304.26,65.06 L304.4,65.06 L304.53,65.07 L304.67,65.07 L304.81,65.07 L304.95,65.08 L305.09,65.08 L305.23,65.09 L305.37,65.09 L305.51,65.1 L305.64,65.1 L305.78,65.11 L305.92,65.12 L306.06,65.12 L306.2,65.13 L306.34,65.13 L306.48,65.13 L306.62,65.14 L306.75,65.14 L306.89,65.14 L307.03,65.13 L307.17,65.13 L307.31,65.12 L307.45,65.1 L307.59,65.07 L307.73,65.04 L307.86,65.13 L308,65.15 L308.14,65.13 L308.28,65.07 L308.42,64.96 L308.56,64.76 L308.7,64.43 L308.84,63.89 L308.97,62.98 L309.11,61.4 L309.25,58.7 L309.39,54.83 L309.53,52.49 L309.67,54.95 L309.81,58.95 L309.95,61.78 L310.08,63.49 L310.22,64.53 L310.36,65.19 L310.5,65.65 L310.64,65.98 L310.78,66.23 L310.92,66.43 L311.06,66.59 L311.19,66.73 L311.33,66.85 L311.47,66.95 L311.61,67.04 L311.75,67.13 L311.89,67.21 L312.03,67.28 L312.17,67.35 L312.3,67.42 L312.44,67.48 L312.58,67.54 L312.72,67.6 L312.86,67.65 L313,67.7 L313.14,67.76 L313.28,67.81 L313.41,67.85 L313.55,67.9 L313.69,67.95 L313.83,67.99 L313.97,68.04 L314.11,68.08 L314.25,68.12 L314.39,68.17 L314.52,68.21 L314.66,68.25 L314.8,68.29 L314.94,68.32 L315.08,68.36 L315.22,68.4 L315.36,68.44 L315.5,68.47 L315.63,68.51 L315.77,68.54 L315.91,68.58 L316.05,68.61 L316.19,68.64 L316.33,68.68 L316.47,68.71 L316.61,68.74 L316.74,68.77 L316.88,68.81 L317.02,68.84 L317.16,68.87 L317.3,68.9 L317.44,68.93 L317.58,68.96 L317.72,68.99 L317.85,69.02 L317.99,69.04 L318.13,69.07 L318.27,69.1 L318.41,69.13 L318.55,69.16 L318.69,69.18 L318.83,69.21 L318.96,69.24 L319.1,69.26 L319.24,69.29 L319.38,69.32 L319.52,69.34 L319.66,69.37 L319.8,69.39 L319.94,69.42 L320.07,69.44 L320.21,69.47 L320.35,69.49 L320.49,69.52 L320.63,69.54 L320.77,69.56 L320.91,69.59 L321.05,69.61 L321.18,69.64 L321.32,69.66 L321.46,69.68 L321.6,69.71 L321.74,69.73 L321.88,69.75 L322.02,69.77 L322.16,69.8 L322.29,69.82 L322.43,69.84 L322.57,69.86 L322.71,69.88 L322.85,69.9 L322.99,69.92 L323.13,69.94 L323.27,69.96 L323.4,69.98 L323.54,70 L323.68,70.02 L323.82,70.04 L323.96,70.05 L324.1,70.07 L324.24,70.08 L324.38,70.09 L324.51,70.08 L324.65,70.07 L324.79,70.06 L324.93,70.04 L325.07,70.01 L325.21,69.98 L325.35,69.95 L325.49,69.9 L325.62,69.84 L325.76,69.75 L325.9,69.63 L326.04,69.46 L326.18,69.21 L326.32,68.81 L326.46,68.17 L326.6,67.19 L326.73,65.95 L326.87,65.27 L327.01,65.95 L327.15,67.19 L327.29,68.17 L327.43,68.81 L327.57,69.21 L327.71,69.46 L327.84,69.63 L327.98,69.75 L328.12,69.84 L328.26,69.9 L328.4,69.95 L328.54,69.98 L328.68,70.01 L328.82,70.04 L328.95,70.05 L329.09,70.07 L329.23,70.08 L329.37,70.09 L329.51,70.1 L329.65,70.11 L329.79,70.12 L329.93,70.12 L330.06,70.13 L330.2,70.13 L330.34,70.14 L330.48,70.14 L330.62,70.14 L330.76,70.15 L330.9,70.15 L331.04,70.15 L331.17,70.15 L331.31,70.15 L331.45,70.16 L331.59,70.16 L331.73,70.16 L331.87,70.16 L332.01,70.16 L332.15,70.16 L332.28,70.16 L332.42,70.16 L332.56,70.16 L332.7,70.16 L332.84,70.16 L332.98,70.16 L333.12,70.16 L333.26,70.16 L333.39,70.16 L333.53,70.16 L333.67,70.16 L333.81,70.16 L333.95,70.16 L334.09,70.16 L334.23,70.16 L334.37,70.16 L334.5,70.16 L334.64,70.16 L334.78,70.16 L334.92,70.16 L335.06,70.16 L335.2,70.16 L335.34,70.16 L335.48,70.16 L335.61,70.15 L335.75,70.15 L335.89,70.15 L336.03,70.15 L336.17,70.15 L336.31,70.15 L336.45,70.14 L336.59,70.14 L336.72,70.14 L336.86,70.14 L337,70.13 L337.14,70.13 L337.28,70.12 L337.42,70.12 L337.56,70.12 L337.7,70.11 L337.83,70.1 L337.97,70.1 L338.11,70.09 L338.25,70.08 L338.39,70.07 L338.53,70.05 L338.67,70.04 L338.81,70.02 L338.94,70 L339.08,69.97 L339.22,69.94 L339.36,69.89 L339.5,69.84 L339.64,69.77 L339.78,69.69 L339.92,69.57 L340.05,69.4 L340.19,69.16 L340.33,68.8 L340.47,68.24 L340.61,67.34 L340.75,65.96 L340.89,64.22 L341.03,63.26 L341.16,64.22 L341.3,65.96 L341.44,67.34 L341.58,68.23 L341.72,68.79 L341.86,69.15 L342,69.39 L342.14,69.56 L342.27,69.68 L342.41,69.77 L342.55,69.83 L342.69,69.88 L342.83,69.92 L342.97,69.95 L343.11,69.98 L343.25,70 L343.38,70.02 L343.52,70.03 L343.66,70.04 L343.8,70.05 L343.94,70.06 L344.08,70.07 L344.22,70.07 L344.36,70.08 L344.49,70.08 L344.63,70.09 L344.77,70.09 L344.91,70.09 L345.05,70.09 L345.19,70.09 L345.33,70.09 L345.47,70.09 L345.6,70.08 L345.74,70.08 L345.88,70.08 L346.02,70.07 L346.16,70.07 L346.3,70.06 L346.44,70.05 L346.58,70.05 L346.71,70.03 L346.85,70.02 L346.99,70.01 L347.13,69.99 L347.27,69.97 L347.41,69.94 L347.55,69.9 L347.69,69.86 L347.82,69.81 L347.96,69.74 L348.1,69.65 L348.24,69.52 L348.38,69.35 L348.52,69.11 L348.66,68.75 L348.8,68.22 L348.93,67.5 L349.07,66.72 L349.21,66.33 L349.35,66.65 L349.49,67.36 L349.63,68 L349.77,68.42 L349.91,68.65 L350.04,68.73 L350.18,68.65 L350.32,68.42 L350.46,68 L350.6,67.36 L350.74,66.66 L350.88,66.33 L351.02,66.72 L351.15,67.5 L351.29,68.22 L351.43,68.75 L351.57,69.11 L351.71,69.36 L351.85,69.53 L351.99,69.66 L352.13,69.75 L352.26,69.82 L352.4,69.87 L352.54,69.91 L352.68,69.95 L352.82,69.98 L352.96,70 L353.1,70.02 L353.24,70.04 L353.37,70.05 L353.51,70.06 L353.65,70.07 L353.79,70.08 L353.93,70.09 L354.07,70.1 L354.21,70.1 L354.35,70.11 L354.48,70.11 L354.62,70.12 L354.76,70.12 L354.9,70.12 L355.04,70.13 L355.18,70.13 L355.32,70.13 L355.46,70.13 L355.59,70.14 L355.73,70.14 L355.87,70.14 L356.01,70.14 L356.15,70.14 L356.29,70.14 L356.43,70.14 L356.57,70.14 L356.7,70.14 L356.84,70.14 L356.98,70.14 L357.12,70.14 L357.26,70.14 L357.4,70.14 L357.54,70.14 L357.68,70.14 L357.81,70.14 L357.95,70.14 L358.09,70.13 L358.23,70.13 L358.37,70.13 L358.51,70.12 L358.65,70.12 L358.79,70.11 L358.92,70.11 L359.06,70.1 L359.2,70.09 L359.34,70.08 L359.48,70.07 L359.62,70.05 L359.76,70.03 L359.9,70 L360.03,69.97 L360.17,69.92 L360.31,69.87 L360.45,69.78 L360.59,69.67 L360.73,69.51 L360.87,69.26 L361.01,68.91 L361.14,68.42 L361.28,67.89 L361.42,67.63 L361.56,67.89 L361.7,68.42 L361.84,68.91 L361.98,69.26 L362.12,69.51 L362.25,69.67 L362.39,69.79 L362.53,69.87 L362.67,69.93 L362.81,69.97 L362.95,70 L363.09,70.03 L363.23,70.05 L363.36,70.07 L363.5,70.08 L363.64,70.09 L363.78,70.1 L363.92,70.11 L364.06,70.12 L364.2,70.12 L364.34,70.13 L364.47,70.13 L364.61,70.14 L364.75,70.14 L364.89,70.14 L365.03,70.14 L365.17,70.14 L365.31,70.15 L365.45,70.15 L365.58,70.15 L365.72,70.15 L365.86,70.15 L366,70.15 L366.14,70.15 L366.28,70.15 L366.42,70.15 L366.56,70.15 L366.69,70.15 L366.83,70.14 L366.97,70.14 L367.11,70.14 L367.25,70.14 L367.39,70.13 L367.53,70.13 L367.67,70.13 L367.8,70.12 L367.94,70.11 L368.08,70.1 L368.22,70.09 L368.36,70.08 L368.5,70.06 L368.64,70.04 L368.78,70.01 L368.91,69.96 L369.05,69.9 L369.19,69.82 L369.33,69.69 L369.47,69.51 L369.61,69.26 L369.75,69 L369.89,68.86 L370.02,68.98 L370.16,69.24 L370.3,69.47 L370.44,69.64 L370.58,69.74 L370.72,69.8 L370.86,69.83 L371,69.83 L371.13,69.8 L371.27,69.74 L371.41,69.64 L371.55,69.47 L371.69,69.24 L371.83,68.98 L371.97,68.86 L372.11,69 L372.24,69.26 L372.38,69.51 L372.52,69.7 L372.66,69.82 L372.8,69.9 L372.94,69.96 L373.08,70.01 L373.22,70.04 L373.35,70.06 L373.49,70.08 L373.63,70.09 L373.77,70.1 L373.91,70.11 L374.05,70.12 L374.19,70.12 L374.33,70.13 L374.46,70.13 L374.6,70.14 L374.74,70.14 L374.88,70.14 L375.02,70.14 L375.16,70.14 L375.3,70.14 L375.44,70.14 L375.57,70.14 L375.71,70.14 L375.85,70.14 L375.99,70.14 L376.13,70.13 L376.27,70.13 L376.41,70.12 L376.55,70.11 L376.68,70.11 L376.82,70.09 L376.96,70.08 L377.1,70.06 L377.24,70.04 L377.38,70 L377.52,69.96 L377.66,69.89 L377.79,69.8 L377.93,69.66 L378.07,69.46 L378.21,69.18 L378.35,68.88 L378.49,68.73 L378.63,68.88 L378.77,69.18 L378.9,69.46 L379.04,69.66 L379.18,69.8 L379.32,69.9 L379.46,69.96 L379.6,70.01 L379.74,70.04 L379.88,70.07 L380.01,70.09 L380.15,70.1 L380.29,70.12 L380.43,70.13 L380.57,70.13 L380.71,70.14 L380.85,70.15 L380.98,70.15 L381.12,70.15 L381.26,70.16 L381.4,70.16 L381.54,70.16 L381.68,70.17 L381.82,70.17 L381.96,70.17 L382.09,70.17 L382.23,70.17 L382.37,70.17 L382.51,70.17 L382.65,70.18 L382.79,70.18 L382.93,70.18 L383.07,70.18 L383.2,70.18 L383.34,70.18 L383.48,70.18 L383.62,70.18 L383.76,70.18 L383.9,70.18 L384.04,70.18 L384.18,70.18 L384.31,70.18 L384.45,70.18 L384.59,70.18 L384.73,70.18 L384.87,70.18 L385.01,70.18 L385.15,70.18 L385.29,70.18 L385.42,70.18 L385.56,70.18 L385.7,70.18 L385.84,70.18 L385.98,70.18 L386.12,70.17 L386.26,70.17 L386.4,70.17 L386.53,70.17 L386.67,70.17 L386.81,70.16 L386.95,70.16 L387.09,70.16 L387.23,70.15 L387.37,70.15 L387.51,70.14 L387.64,70.13 L387.78,70.12 L387.92,70.1 L388.06,70.08 L388.2,70.05 L388.34,70.01 L388.48,69.95 L388.62,69.87 L388.75,69.74 L388.89,69.56 L389.03,69.38 L389.17,69.28 L389.31,69.38 L389.45,69.56 L389.59,69.74 L389.73,69.87 L389.86,69.95 L390,70.01 L390.14,70.05 L390.28,70.08 L390.42,70.1 L390.56,70.12 L390.7,70.13 L390.84,70.14 L390.97,70.15 L391.11,70.16 L391.25,70.16 L391.39,70.16 L391.53,70.17 L391.67,70.17 L391.81,70.17 L391.95,70.18 L392.08,70.18 L392.22,70.18 L392.36,70.18 L392.5,70.18 L392.64,70.18 L392.78,70.18 L392.92,70.19 L393.06,70.19 L393.19,70.19 L393.33,70.19 L393.47,70.19 L393.61,70.19 L393.75,70.19 L393.89,70.19 L394.03,70.19 L394.17,70.19 L394.3,70.19 L394.44,70.19 L394.58,70.19 L394.72,70.19 L394.86,70.19 L395,70.19 L395.14,70.19 L395.28,70.19 L395.41,70.19 L395.55,70.19 L395.69,70.19 L395.83,70.19 L395.97,70.19 L396.11,70.19 L396.25,70.19 L396.39,70.19 L396.52,70.19 L396.66,70.19 L396.8,70.19 L396.94,70.19 L397.08,70.19 L397.22,70.19 L397.36,70.19 L397.5,70.19 L397.63,70.2 L397.77,70.2 L397.91,70.2 L398.05,70.2 L398.19,70.2 L398.33,70.2 L398.47,70.2 L398.61,70.2 L398.74,70.2 L398.88,70.2 L399.02,70.2 L399.16,70.2 L399.3,70.2" fill="none" stroke="#a95cc6" stroke-width="1.1" stroke-linejoin="round" stroke-linecap="round"/>
<path d="M288.3,84.8 L288.44,84.8 L288.58,84.8 L288.72,84.8 L288.86,84.8 L288.99,84.8 L289.13,84.8 L289.27,84.8 L289.41,84.8 L289.55,84.8 L289.69,84.8 L289.83,84.8 L289.97,84.8 L290.1,84.8 L290.24,84.8 L290.38,84.8 L290.52,84.8 L290.66,84.8 L290.8,84.8 L290.94,84.8 L291.07,84.8 L291.21,84.8 L291.35,84.8 L291.49,84.8 L291.63,84.8 L291.77,84.8 L291.91,84.8 L292.05,84.8 L292.19,84.8 L292.32,84.79 L292.46,84.79 L292.6,84.79 L292.74,84.79 L292.88,84.79 L293.02,84.79 L293.16,84.79 L293.3,84.79 L293.43,84.79 L293.57,84.79 L293.71,84.79 L293.85,84.79 L293.99,84.79 L294.13,84.79 L294.27,84.79 L294.4,84.79 L294.54,84.79 L294.68,84.79 L294.82,84.79 L294.96,84.79 L295.1,84.79 L295.24,84.79 L295.38,84.79 L295.51,84.79 L295.65,84.79 L295.79,84.79 L295.93,84.79 L296.07,84.79 L296.21,84.79 L296.35,84.79 L296.49,84.79 L296.62,84.79 L296.76,84.79 L296.9,84.79 L297.04,84.79 L297.18,84.79 L297.32,84.79 L297.46,84.79 L297.6,84.79 L297.74,84.79 L297.87,84.79 L298.01,84.79 L298.15,84.79 L298.29,84.79 L298.43,84.79 L298.57,84.79 L298.71,84.79 L298.85,84.79 L298.98,84.79 L299.12,84.79 L299.26,84.79 L299.4,84.79 L299.54,84.79 L299.68,84.79 L299.82,84.79 L299.96,84.79 L300.09,84.79 L300.23,84.79 L300.37,84.79 L300.51,84.79 L300.65,84.78 L300.79,84.78 L300.93,84.78 L301.07,84.78 L301.2,84.78 L301.34,84.78 L301.48,84.78 L301.62,84.78 L301.76,84.78 L301.9,84.78 L302.04,84.78 L302.18,84.78 L302.31,84.78 L302.45,84.78 L302.59,84.78 L302.73,84.78 L302.87,84.77 L303.01,84.77 L303.15,84.77 L303.29,84.77 L303.42,84.77 L303.56,84.77 L303.7,84.77 L303.84,84.77 L303.98,84.76 L304.12,84.76 L304.26,84.76 L304.4,84.76 L304.53,84.76 L304.67,84.75 L304.81,84.75 L304.95,84.75 L305.09,84.75 L305.23,84.74 L305.37,84.74 L305.51,84.73 L305.64,84.73 L305.78,84.73 L305.92,84.72 L306.06,84.71 L306.2,84.71 L306.34,84.7 L306.48,84.69 L306.62,84.68 L306.75,84.67 L306.89,84.65 L307.03,84.64 L307.17,84.62 L307.31,84.6 L307.45,84.57 L307.59,84.54 L307.73,84.5 L307.86,84.57 L308,84.59 L308.14,84.57 L308.28,84.52 L308.42,84.43 L308.56,84.27 L308.7,84.01 L308.84,83.58 L308.97,82.87 L309.11,81.65 L309.25,79.56 L309.39,76.56 L309.53,74.76 L309.67,76.64 L309.81,79.72 L309.95,81.9 L310.08,83.2 L310.22,84 L310.36,84.51 L310.5,84.85 L310.64,85.1 L310.78,85.28 L310.92,85.43 L311.06,85.55 L311.19,85.64 L311.33,85.73 L311.47,85.8 L311.61,85.87 L311.75,85.93 L311.89,85.98 L312.03,86.03 L312.17,86.08 L312.3,86.12 L312.44,86.17 L312.58,86.21 L312.72,86.25 L312.86,86.28 L313,86.32 L313.14,86.36 L313.28,86.39 L313.41,86.42 L313.55,86.46 L313.69,86.49 L313.83,86.52 L313.97,86.55 L314.11,86.59 L314.25,86.62 L314.39,86.65 L314.52,86.68 L314.66,86.71 L314.8,86.73 L314.94,86.76 L315.08,86.79 L315.22,86.82 L315.36,86.85 L315.5,86.88 L315.63,86.9 L315.77,86.93 L315.91,86.96 L316.05,86.98 L316.19,87.01 L316.33,87.04 L316.47,87.06 L316.61,87.09 L316.74,87.11 L316.88,87.14 L317.02,87.17 L317.16,87.19 L317.3,87.22 L317.44,87.24 L317.58,87.27 L317.72,87.29 L317.85,87.32 L317.99,87.34 L318.13,87.36 L318.27,87.39 L318.41,87.41 L318.55,87.44 L318.69,87.46 L318.83,87.48 L318.96,87.51 L319.1,87.53 L319.24,87.56 L319.38,87.58 L319.52,87.6 L319.66,87.62 L319.8,87.65 L319.94,87.67 L320.07,87.69 L320.21,87.72 L320.35,87.74 L320.49,87.76 L320.63,87.78 L320.77,87.8 L320.91,87.83 L321.05,87.85 L321.18,87.87 L321.32,87.89 L321.46,87.91 L321.6,87.93 L321.74,87.95 L321.88,87.97 L322.02,88 L322.16,88.02 L322.29,88.04 L322.43,88.06 L322.57,88.08 L322.71,88.09 L322.85,88.11 L322.99,88.13 L323.13,88.15 L323.27,88.17 L323.4,88.19 L323.54,88.2 L323.68,88.22 L323.82,88.23 L323.96,88.25 L324.1,88.26 L324.24,88.27 L324.38,88.28 L324.51,88.27 L324.65,88.26 L324.79,88.24 L324.93,88.22 L325.07,88.19 L325.21,88.16 L325.35,88.12 L325.49,88.06 L325.62,87.99 L325.76,87.9 L325.9,87.76 L326.04,87.57 L326.18,87.28 L326.32,86.83 L326.46,86.12 L326.6,85.01 L326.73,83.61 L326.87,82.85 L327.01,83.61 L327.15,85.01 L327.29,86.12 L327.43,86.83 L327.57,87.28 L327.71,87.57 L327.84,87.76 L327.98,87.89 L328.12,87.99 L328.26,88.06 L328.4,88.12 L328.54,88.16 L328.68,88.19 L328.82,88.22 L328.95,88.24 L329.09,88.25 L329.23,88.27 L329.37,88.28 L329.51,88.29 L329.65,88.3 L329.79,88.31 L329.93,88.31 L330.06,88.32 L330.2,88.33 L330.34,88.33 L330.48,88.33 L330.62,88.34 L330.76,88.34 L330.9,88.34 L331.04,88.35 L331.17,88.35 L331.31,88.35 L331.45,88.35 L331.59,88.35 L331.73,88.35 L331.87,88.35 L332.01,88.36 L332.15,88.36 L332.28,88.36 L332.42,88.36 L332.56,88.36 L332.7,88.36 L332.84,88.36 L332.98,88.36 L333.12,88.36 L333.26,88.36 L333.39,88.36 L333.53,88.36 L333.67,88.36 L333.81,88.36 L333.95,88.36 L334.09,88.36 L334.23,88.36 L334.37,88.36 L334.5,88.36 L334.64,88.36 L334.78,88.36 L334.92,88.36 L335.06,88.35 L335.2,88.35 L335.34,88.35 L335.48,88.35 L335.61,88.35 L335.75,88.35 L335.89,88.35 L336.03,88.34 L336.17,88.34 L336.31,88.34 L336.45,88.34 L336.59,88.33 L336.72,88.33 L336.86,88.33 L337,88.32 L337.14,88.32 L337.28,88.32 L337.42,88.31 L337.56,88.3 L337.7,88.3 L337.83,88.29 L337.97,88.28 L338.11,88.27 L338.25,88.26 L338.39,88.25 L338.53,88.23 L338.67,88.22 L338.81,88.2 L338.94,88.17 L339.08,88.14 L339.22,88.1 L339.36,88.06 L339.5,88 L339.64,87.92 L339.78,87.82 L339.92,87.69 L340.05,87.5 L340.19,87.22 L340.33,86.82 L340.47,86.19 L340.61,85.18 L340.75,83.62 L340.89,81.65 L341.03,80.58 L341.16,81.65 L341.3,83.62 L341.44,85.18 L341.58,86.18 L341.72,86.81 L341.86,87.22 L342,87.49 L342.14,87.68 L342.27,87.81 L342.41,87.91 L342.55,87.98 L342.69,88.04 L342.83,88.09 L342.97,88.12 L343.11,88.15 L343.25,88.18 L343.38,88.2 L343.52,88.21 L343.66,88.22 L343.8,88.24 L343.94,88.25 L344.08,88.25 L344.22,88.26 L344.36,88.26 L344.49,88.27 L344.63,88.27 L344.77,88.27 L344.91,88.27 L345.05,88.28 L345.19,88.28 L345.33,88.27 L345.47,88.27 L345.6,88.27 L345.74,88.27 L345.88,88.26 L346.02,88.26 L346.16,88.25 L346.3,88.24 L346.44,88.24 L346.58,88.23 L346.71,88.21 L346.85,88.2 L346.99,88.18 L347.13,88.16 L347.27,88.14 L347.41,88.11 L347.55,88.07 L347.69,88.02 L347.82,87.96 L347.96,87.88 L348.1,87.78 L348.24,87.64 L348.38,87.44 L348.52,87.17 L348.66,86.76 L348.8,86.17 L348.93,85.36 L349.07,84.48 L349.21,84.03 L349.35,84.4 L349.49,85.2 L349.63,85.92 L349.77,86.4 L349.91,86.66 L350.04,86.74 L350.18,86.66 L350.32,86.4 L350.46,85.92 L350.6,85.2 L350.74,84.4 L350.88,84.04 L351.02,84.48 L351.15,85.36 L351.29,86.17 L351.43,86.77 L351.57,87.17 L351.71,87.45 L351.85,87.65 L351.99,87.79 L352.13,87.89 L352.26,87.97 L352.4,88.03 L352.54,88.08 L352.68,88.12 L352.82,88.15 L352.96,88.17 L353.1,88.2 L353.24,88.22 L353.37,88.23 L353.51,88.24 L353.65,88.26 L353.79,88.27 L353.93,88.28 L354.07,88.28 L354.21,88.29 L354.35,88.3 L354.48,88.3 L354.62,88.31 L354.76,88.31 L354.9,88.31 L355.04,88.32 L355.18,88.32 L355.32,88.32 L355.46,88.33 L355.59,88.33 L355.73,88.33 L355.87,88.33 L356.01,88.33 L356.15,88.33 L356.29,88.33 L356.43,88.34 L356.57,88.34 L356.7,88.34 L356.84,88.34 L356.98,88.34 L357.12,88.34 L357.26,88.33 L357.4,88.33 L357.54,88.33 L357.68,88.33 L357.81,88.33 L357.95,88.33 L358.09,88.32 L358.23,88.32 L358.37,88.32 L358.51,88.31 L358.65,88.31 L358.79,88.3 L358.92,88.3 L359.06,88.29 L359.2,88.28 L359.34,88.26 L359.48,88.25 L359.62,88.23 L359.76,88.21 L359.9,88.18 L360.03,88.14 L360.17,88.09 L360.31,88.02 L360.45,87.93 L360.59,87.8 L360.73,87.62 L360.87,87.34 L361.01,86.94 L361.14,86.39 L361.28,85.79 L361.42,85.51 L361.56,85.79 L361.7,86.39 L361.84,86.94 L361.98,87.34 L362.12,87.62 L362.25,87.8 L362.39,87.93 L362.53,88.02 L362.67,88.09 L362.81,88.14 L362.95,88.18 L363.09,88.21 L363.23,88.23 L363.36,88.25 L363.5,88.27 L363.64,88.28 L363.78,88.29 L363.92,88.3 L364.06,88.31 L364.2,88.31 L364.34,88.32 L364.47,88.32 L364.61,88.33 L364.75,88.33 L364.89,88.33 L365.03,88.34 L365.17,88.34 L365.31,88.34 L365.45,88.34 L365.58,88.34 L365.72,88.34 L365.86,88.34 L366,88.34 L366.14,88.34 L366.28,88.34 L366.42,88.34 L366.56,88.34 L366.69,88.34 L366.83,88.34 L366.97,88.34 L367.11,88.33 L367.25,88.33 L367.39,88.33 L367.53,88.32 L367.67,88.32 L367.8,88.31 L367.94,88.3 L368.08,88.29 L368.22,88.28 L368.36,88.26 L368.5,88.24 L368.64,88.22 L368.78,88.18 L368.91,88.13 L369.05,88.07 L369.19,87.97 L369.33,87.83 L369.47,87.63 L369.61,87.35 L369.75,87.04 L369.89,86.89 L370.02,87.03 L370.16,87.32 L370.3,87.58 L370.44,87.77 L370.58,87.89 L370.72,87.95 L370.86,87.98 L371,87.98 L371.13,87.95 L371.27,87.89 L371.41,87.77 L371.55,87.58 L371.69,87.32 L371.83,87.03 L371.97,86.89 L372.11,87.04 L372.24,87.35 L372.38,87.63 L372.52,87.83 L372.66,87.97 L372.8,88.07 L372.94,88.13 L373.08,88.18 L373.22,88.22 L373.35,88.24 L373.49,88.26 L373.63,88.28 L373.77,88.29 L373.91,88.3 L374.05,88.31 L374.19,88.31 L374.33,88.32 L374.46,88.32 L374.6,88.33 L374.74,88.33 L374.88,88.33 L375.02,88.33 L375.16,88.33 L375.3,88.33 L375.44,88.33 L375.57,88.33 L375.71,88.33 L375.85,88.33 L375.99,88.33 L376.13,88.32 L376.27,88.32 L376.41,88.31 L376.55,88.3 L376.68,88.29 L376.82,88.28 L376.96,88.27 L377.1,88.24 L377.24,88.22 L377.38,88.18 L377.52,88.13 L377.66,88.05 L377.79,87.95 L377.93,87.79 L378.07,87.56 L378.21,87.25 L378.35,86.91 L378.49,86.74 L378.63,86.91 L378.77,87.25 L378.9,87.56 L379.04,87.79 L379.18,87.95 L379.32,88.06 L379.46,88.13 L379.6,88.18 L379.74,88.22 L379.88,88.25 L380.01,88.27 L380.15,88.29 L380.29,88.3 L380.43,88.32 L380.57,88.33 L380.71,88.33 L380.85,88.34 L380.98,88.34 L381.12,88.35 L381.26,88.35 L381.4,88.36 L381.54,88.36 L381.68,88.36 L381.82,88.36 L381.96,88.37 L382.09,88.37 L382.23,88.37 L382.37,88.37 L382.51,88.37 L382.65,88.37 L382.79,88.37 L382.93,88.37 L383.07,88.38 L383.2,88.38 L383.34,88.38 L383.48,88.38 L383.62,88.38 L383.76,88.38 L383.9,88.38 L384.04,88.38 L384.18,88.38 L384.31,88.38 L384.45,88.38 L384.59,88.38 L384.73,88.38 L384.87,88.38 L385.01,88.38 L385.15,88.38 L385.29,88.38 L385.42,88.38 L385.56,88.38 L385.7,88.37 L385.84,88.37 L385.98,88.37 L386.12,88.37 L386.26,88.37 L386.4,88.37 L386.53,88.37 L386.67,88.36 L386.81,88.36 L386.95,88.36 L387.09,88.35 L387.23,88.35 L387.37,88.34 L387.51,88.33 L387.64,88.32 L387.78,88.31 L387.92,88.29 L388.06,88.27 L388.2,88.23 L388.34,88.19 L388.48,88.12 L388.62,88.02 L388.75,87.88 L388.89,87.68 L389.03,87.47 L389.17,87.37 L389.31,87.47 L389.45,87.68 L389.59,87.88 L389.73,88.02 L389.86,88.12 L390,88.19 L390.14,88.24 L390.28,88.27 L390.42,88.29 L390.56,88.31 L390.7,88.32 L390.84,88.33 L390.97,88.34 L391.11,88.35 L391.25,88.36 L391.39,88.36 L391.53,88.36 L391.67,88.37 L391.81,88.37 L391.95,88.37 L392.08,88.37 L392.22,88.38 L392.36,88.38 L392.5,88.38 L392.64,88.38 L392.78,88.38 L392.92,88.38 L393.06,88.38 L393.19,88.38 L393.33,88.39 L393.47,88.39 L393.61,88.39 L393.75,88.39 L393.89,88.39 L394.03,88.39 L394.17,88.39 L394.3,88.39 L394.44,88.39 L394.58,88.39 L394.72,88.39 L394.86,88.39 L395,88.39 L395.14,88.39 L395.28,88.39 L395.41,88.39 L395.55,88.39 L395.69,88.39 L395.83,88.39 L395.97,88.39 L396.11,88.39 L396.25,88.39 L396.39,88.39 L396.52,88.39 L396.66,88.39 L396.8,88.39 L396.94,88.39 L397.08,88.39 L397.22,88.39 L397.36,88.39 L397.5,88.39 L397.63,88.39 L397.77,88.39 L397.91,88.39 L398.05,88.39 L398.19,88.39 L398.33,88.39 L398.47,88.4 L398.61,88.4 L398.74,88.4 L398.88,88.4 L399.02,88.4 L399.16,88.4 L399.3,88.4" fill="none" stroke="#f28a92" stroke-width="1.1" stroke-linejoin="round" stroke-linecap="round"/>
<rect x="288.3" y="12.3" width="111" height="88.4" fill="none" stroke="#4a4a4a" stroke-width="1.2"/>
<line x1="309.53" y1="100.7" x2="309.53" y2="94.2" stroke="#111" stroke-width="0.8"/>
<line x1="326.87" y1="100.7" x2="326.87" y2="99.5" stroke="#111" stroke-width="0.8"/>
<line x1="341.03" y1="100.7" x2="341.03" y2="99.1" stroke="#111" stroke-width="0.8"/>
<line x1="349.21" y1="100.7" x2="349.21" y2="99.8" stroke="#111" stroke-width="0.8"/>
<line x1="350.88" y1="100.7" x2="350.88" y2="99.8" stroke="#111" stroke-width="0.8"/>
<line x1="361.42" y1="100.7" x2="361.42" y2="99.9" stroke="#111" stroke-width="0.8"/>
<line x1="369.88" y1="100.7" x2="369.88" y2="100.2" stroke="#111" stroke-width="0.8"/>
<line x1="371.97" y1="100.7" x2="371.97" y2="100.2" stroke="#111" stroke-width="0.8"/>
<line x1="378.49" y1="100.7" x2="378.49" y2="100.2" stroke="#111" stroke-width="0.8"/>
<line x1="389.17" y1="100.7" x2="389.17" y2="100.3" stroke="#111" stroke-width="0.8"/>
<line x1="288.3" y1="100.7" x2="288.3" y2="102.5" stroke="#4a4a4a" stroke-width="0.8"/>
<line x1="302.18" y1="100.7" x2="302.18" y2="102.5" stroke="#4a4a4a" stroke-width="0.8"/>
<line x1="316.05" y1="100.7" x2="316.05" y2="102.5" stroke="#4a4a4a" stroke-width="0.8"/>
<line x1="329.93" y1="100.7" x2="329.93" y2="102.5" stroke="#4a4a4a" stroke-width="0.8"/>
<line x1="343.8" y1="100.7" x2="343.8" y2="102.5" stroke="#4a4a4a" stroke-width="0.8"/>
<line x1="357.68" y1="100.7" x2="357.68" y2="102.5" stroke="#4a4a4a" stroke-width="0.8"/>
<line x1="371.55" y1="100.7" x2="371.55" y2="102.5" stroke="#4a4a4a" stroke-width="0.8"/>
<line x1="385.43" y1="100.7" x2="385.43" y2="102.5" stroke="#4a4a4a" stroke-width="0.8"/>
<line x1="399.3" y1="100.7" x2="399.3" y2="102.5" stroke="#4a4a4a" stroke-width="0.8"/>
<line x1="295.24" y1="100.7" x2="295.24" y2="101.8" stroke="#4a4a4a" stroke-width="0.6"/>
<line x1="309.11" y1="100.7" x2="309.11" y2="101.8" stroke="#4a4a4a" stroke-width="0.6"/>
<line x1="322.99" y1="100.7" x2="322.99" y2="101.8" stroke="#4a4a4a" stroke-width="0.6"/>
<line x1="336.86" y1="100.7" x2="336.86" y2="101.8" stroke="#4a4a4a" stroke-width="0.6"/>
<line x1="350.74" y1="100.7" x2="350.74" y2="101.8" stroke="#4a4a4a" stroke-width="0.6"/>
<line x1="364.61" y1="100.7" x2="364.61" y2="101.8" stroke="#4a4a4a" stroke-width="0.6"/>
<line x1="378.49" y1="100.7" x2="378.49" y2="101.8" stroke="#4a4a4a" stroke-width="0.6"/>
<line x1="392.36" y1="100.7" x2="392.36" y2="101.8" stroke="#4a4a4a" stroke-width="0.6"/>
<text x="288.3" y="108.2" font-size="6" font-weight="bold" fill="#111" font-family="Liberation Sans, Arial, sans-serif" text-anchor="middle">10</text>
<text x="302.18" y="108.2" font-size="6" font-weight="bold" fill="#111" font-family="Liberation Sans, Arial, sans-serif" text-anchor="middle">20</text>
<text x="316.05" y="108.2" font-size="6" font-weight="bold" fill="#111" font-family="Liberation Sans, Arial, sans-serif" text-anchor="middle">30</text>
<text x="329.93" y="108.2" font-size="6" font-weight="bold" fill="#111" font-family="Liberation Sans, Arial, sans-serif" text-anchor="middle">40</text>
<text x="343.8" y="108.2" font-size="6" font-weight="bold" fill="#111" font-family="Liberation Sans, Arial, sans-serif" text-anchor="middle">50</text>
<text x="357.68" y="108.2" font-size="6" font-weight="bold" fill="#111" font-family="Liberation Sans, Arial, sans-serif" text-anchor="middle">60</text>
<text x="371.55" y="108.2" font-size="6" font-weight="bold" fill="#111" font-family="Liberation Sans, Arial, sans-serif" text-anchor="middle">70</text>
<text x="385.43" y="108.2" font-size="6" font-weight="bold" fill="#111" font-family="Liberation Sans, Arial, sans-serif" text-anchor="middle">80</text>
<text x="399.3" y="108.2" font-size="6" font-weight="bold" fill="#111" font-family="Liberation Sans, Arial, sans-serif" text-anchor="middle">90</text>
<text x="301.8" y="93.2" font-size="6" font-weight="bold" fill="#333" font-family="Liberation Sans, Arial, sans-serif" text-anchor="start">(101)</text>
<text x="321.4" y="97.4" font-size="5.4" font-weight="bold" fill="#333" font-family="Liberation Sans, Arial, sans-serif" text-anchor="start">(004)</text>
<text x="334.6" y="97.4" font-size="5.4" font-weight="bold" fill="#333" font-family="Liberation Sans, Arial, sans-serif" text-anchor="start">(200)</text>
<text x="398" y="97.4" font-size="5.2" font-weight="bold" fill="#111" font-family="Liberation Sans, Arial, sans-serif" text-anchor="end">PDF#21-1272</text>
<text x="398" y="30" font-size="5.4" font-weight="bold" fill="#111" font-family="Liberation Sans, Arial, sans-serif" text-anchor="end">3-T@S</text>
<text x="398" y="48.2" font-size="5.4" font-weight="bold" fill="#111" font-family="Liberation Sans, Arial, sans-serif" text-anchor="end">2-T@S</text>
<text x="398" y="68" font-size="5.4" font-weight="bold" fill="#111" font-family="Liberation Sans, Arial, sans-serif" text-anchor="end">1-T@S</text>
<text x="397.5" y="86" font-size="5.4" font-weight="bold" fill="#111" font-family="Liberation Sans, Arial, sans-serif" text-anchor="end">TiO<tspan font-size="3.8" dy="1.5">2</tspan></text>
<text x="331.6" y="113.5" font-size="7.2" font-weight="bold" fill="#111" font-family="Liberation Sans, Arial, sans-serif">2<tspan fill="#9a9a9a" stroke="#9a9a9a" style="stroke-width:1.2px" font-size="6.2" dx="2.6" dy="-0.6" font-family="Liberation Serif, Times New Roman, serif">θ</tspan><tspan font-weight="normal" fill="#444" dx="3.4" dy="1.2">(°)</tspan></text>
<text transform="translate(284.4,56.2) rotate(-90)" font-size="7.5" font-weight="bold" fill="#111" font-family="Liberation Sans, Arial, sans-serif" text-anchor="middle">Intensity (a.u.)</text>
<text x="258.2" y="15.6" font-size="14.2" font-weight="bold" fill="#111" font-family="Liberation Serif, Times New Roman, serif" text-anchor="start">(g)</text>
<path d="M434.6,18 C434.93,17.72 436.03,16.43 436.6,16.3 C437.17,16.17 437.52,17.17 438,17.2 C438.48,17.23 438.83,16.2 439.5,16.5 C440.17,16.8 441.07,17.98 442,19 C442.93,20.02 443.93,21.87 445.1,22.6 C446.27,23.33 447.43,23.23 449,23.4 C450.57,23.57 452.33,23.92 454.5,23.6 C456.67,23.28 459.42,22.23 462,21.5 C464.58,20.77 467.55,19.78 470,19.2 C472.45,18.62 474.2,18.37 476.7,18 C479.2,17.63 482.12,17.18 485,17 C487.88,16.82 491.03,16.98 494,16.9 C496.97,16.82 501.07,16.23 502.8,16.5 C504.53,16.77 503.87,18.4 504.4,18.5 C504.93,18.6 505.23,17.25 506,17.1 C506.77,16.95 507.95,17.38 509,17.6 C510.05,17.82 511.3,17.92 512.3,18.4 C513.3,18.88 514.2,19.57 515,20.5 C515.8,21.43 516.43,22.58 517.1,24 C517.77,25.42 518.33,27.28 519,29 C519.67,30.72 520.35,32.88 521.1,34.3 C521.85,35.72 522.62,37.18 523.5,37.5 C524.38,37.82 525.47,36.07 526.4,36.2 C527.33,36.33 528.33,37.33 529.1,38.3 C529.87,39.27 530.33,40.4 531,42 C531.67,43.6 532.35,46.23 533.1,47.9 C533.85,49.57 534.7,50.85 535.5,52 C536.3,53.15 537.15,54.13 537.9,54.8 C538.65,55.47 539.08,55.63 540,56 C540.92,56.37 542.67,56.88 543.4,57 C544.13,57.12 544.23,56.75 544.4,56.7" fill="none" stroke="#6cc46c" stroke-width="1.1" stroke-linejoin="round" stroke-linecap="round"/>
<path d="M434.6,33.4 C435,32.92 436.17,31.37 437,30.5 C437.83,29.63 438.77,28.28 439.6,28.2 C440.43,28.12 441.08,29.22 442,30 C442.92,30.78 443.77,32.2 445.1,32.9 C446.43,33.6 448.35,33.92 450,34.2 C451.65,34.48 453,34.72 455,34.6 C457,34.48 459.5,33.93 462,33.5 C464.5,33.07 467.55,32.4 470,32 C472.45,31.6 474.2,31.38 476.7,31.1 C479.2,30.82 482.12,30.48 485,30.3 C487.88,30.12 491.03,30.13 494,30 C496.97,29.87 501.07,29.32 502.8,29.5 C504.53,29.68 503.87,30.97 504.4,31.1 C504.93,31.23 505.23,30.32 506,30.3 C506.77,30.28 507.95,30.72 509,31 C510.05,31.28 511.3,31.42 512.3,32 C513.3,32.58 514.2,33.58 515,34.5 C515.8,35.42 516.43,36.42 517.1,37.5 C517.77,38.58 518.33,39.8 519,41 C519.67,42.2 520.35,43.55 521.1,44.7 C521.85,45.85 522.62,47.28 523.5,47.9 C524.38,48.52 525.47,48 526.4,48.4 C527.33,48.8 528.33,49.45 529.1,50.3 C529.87,51.15 530.33,52.3 531,53.5 C531.67,54.7 532.35,56.25 533.1,57.5 C533.85,58.75 534.7,60 535.5,61 C536.3,62 537.15,62.7 537.9,63.5 C538.65,64.3 539.08,65.25 540,65.8 C540.92,66.35 542.67,66.68 543.4,66.8 C544.13,66.92 544.23,66.55 544.4,66.5" fill="none" stroke="#4a94d4" stroke-width="1.1" stroke-linejoin="round" stroke-linecap="round"/>
<path d="M434.6,47 C435,46.42 436.17,44.48 437,43.5 C437.83,42.52 438.77,41.15 439.6,41.1 C440.43,41.05 441.08,42.5 442,43.2 C442.92,43.9 443.77,44.62 445.1,45.3 C446.43,45.98 448.35,46.87 450,47.3 C451.65,47.73 453,48.03 455,47.9 C457,47.77 459.5,47.05 462,46.5 C464.5,45.95 467.55,45.08 470,44.6 C472.45,44.12 474.2,43.9 476.7,43.6 C479.2,43.3 482.12,43 485,42.8 C487.88,42.6 491.03,42.53 494,42.4 C496.97,42.27 501.07,41.75 502.8,42 C504.53,42.25 503.87,43.68 504.4,43.9 C504.93,44.12 505.23,43.28 506,43.3 C506.77,43.32 507.95,43.77 509,44 C510.05,44.23 511.3,44.12 512.3,44.7 C513.3,45.28 514.2,46.57 515,47.5 C515.8,48.43 516.43,49.3 517.1,50.3 C517.77,51.3 518.33,52.43 519,53.5 C519.67,54.57 520.35,55.83 521.1,56.7 C521.85,57.57 522.62,58.07 523.5,58.7 C524.38,59.33 525.47,59.7 526.4,60.5 C527.33,61.3 528.33,62.42 529.1,63.5 C529.87,64.58 530.33,65.67 531,67 C531.67,68.33 532.35,70.08 533.1,71.5 C533.85,72.92 534.7,74.33 535.5,75.5 C536.3,76.67 537.15,77.75 537.9,78.5 C538.65,79.25 539.08,79.67 540,80 C540.92,80.33 542.67,80.45 543.4,80.5 C544.13,80.55 544.23,80.33 544.4,80.3" fill="none" stroke="#a95cc6" stroke-width="1.1" stroke-linejoin="round" stroke-linecap="round"/>
<path d="M434.6,59 C435,58.5 436.17,56.85 437,56 C437.83,55.15 438.77,53.82 439.6,53.9 C440.43,53.98 441.08,55.57 442,56.5 C442.92,57.43 443.77,58.58 445.1,59.5 C446.43,60.42 448.35,61.43 450,62 C451.65,62.57 453,62.98 455,62.9 C457,62.82 459.5,62.1 462,61.5 C464.5,60.9 467.55,59.85 470,59.3 C472.45,58.75 474.2,58.6 476.7,58.2 C479.2,57.8 482.12,57.25 485,56.9 C487.88,56.55 491.03,56.35 494,56.1 C496.97,55.85 501.07,55.23 502.8,55.4 C504.53,55.57 503.87,56.92 504.4,57.1 C504.93,57.28 505.4,56.63 506,56.5 C506.6,56.37 507.33,56.22 508,56.3 C508.67,56.38 509.28,56.8 510,57 C510.72,57.2 511.3,57.08 512.3,57.5 C513.3,57.92 514.72,58.88 516,59.5 C517.28,60.12 519,60.7 520,61.2 C521,61.7 521.33,61.97 522,62.5 C522.67,63.03 523.33,63.65 524,64.4 C524.67,65.15 525.33,65.95 526,67 C526.67,68.05 527.42,69.37 528,70.7 C528.58,72.03 529,73.28 529.5,75 C530,76.72 530.42,79.08 531,81 C531.58,82.92 532.33,85.02 533,86.5 C533.67,87.98 534.25,88.9 535,89.9 C535.75,90.9 536.67,91.7 537.5,92.5 C538.33,93.3 539.25,94.03 540,94.7 C540.75,95.37 541.27,95.97 542,96.5 C542.73,97.03 544,97.67 544.4,97.9" fill="none" stroke="#f28a92" stroke-width="1.1" stroke-linejoin="round" stroke-linecap="round"/>
<rect x="434.5" y="12.3" width="110" height="88.7" fill="none" stroke="#4a4a4a" stroke-width="1.2"/>
<line x1="445.4" y1="12.3" x2="445.4" y2="63.5" stroke="#333" stroke-width="0.7" stroke-dasharray="1.6,1.2"/>
<line x1="504.4" y1="12.3" x2="504.4" y2="71.5" stroke="#333" stroke-width="0.7" stroke-dasharray="1.6,1.2"/>
<line x1="523.6" y1="30" x2="523.6" y2="75.5" stroke="#333" stroke-width="0.7" stroke-dasharray="1.6,1.2"/>
<line x1="528.7" y1="30" x2="528.7" y2="81" stroke="#333" stroke-width="0.7" stroke-dasharray="1.6,1.2"/>
<line x1="544" y1="40" x2="544" y2="101" stroke="#333" stroke-width="0.7" stroke-dasharray="1.6,1.2"/>
<text x="444.8" y="69.4" font-size="5" font-weight="bold" fill="#111" font-family="Liberation Sans, Arial, sans-serif" text-anchor="middle">3389</text>
<text x="504.6" y="77" font-size="5" font-weight="bold" fill="#111" font-family="Liberation Sans, Arial, sans-serif" text-anchor="middle">1620</text>
<text x="521" y="79.6" font-size="5" font-weight="bold" fill="#111" font-family="Liberation Sans, Arial, sans-serif" text-anchor="middle">1040</text>
<text x="529.4" y="29.6" font-size="5" font-weight="bold" fill="#111" font-family="Liberation Sans, Arial, sans-serif" text-anchor="middle">900</text>
<text x="539.5" y="40.8" font-size="5" font-weight="bold" fill="#111" font-family="Liberation Sans, Arial, sans-serif" text-anchor="middle">451</text>
<line x1="441.9" y1="101" x2="441.9" y2="102.8" stroke="#4a4a4a" stroke-width="0.8"/>
<text x="441.9" y="108.2" font-size="5.6" font-weight="bold" fill="#111" font-family="Liberation Sans, Arial, sans-serif" text-anchor="middle">3500</text>
<line x1="458.35" y1="101" x2="458.35" y2="102.8" stroke="#4a4a4a" stroke-width="0.8"/>
<text x="458.35" y="108.2" font-size="5.6" font-weight="bold" fill="#111" font-family="Liberation Sans, Arial, sans-serif" text-anchor="middle">3000</text>
<line x1="474.8" y1="101" x2="474.8" y2="102.8" stroke="#4a4a4a" stroke-width="0.8"/>
<text x="474.8" y="108.2" font-size="5.6" font-weight="bold" fill="#111" font-family="Liberation Sans, Arial, sans-serif" text-anchor="middle">2500</text>
<line x1="491.25" y1="101" x2="491.25" y2="102.8" stroke="#4a4a4a" stroke-width="0.8"/>
<text x="491.25" y="108.2" font-size="5.6" font-weight="bold" fill="#111" font-family="Liberation Sans, Arial, sans-serif" text-anchor="middle">2000</text>
<line x1="507.7" y1="101" x2="507.7" y2="102.8" stroke="#4a4a4a" stroke-width="0.8"/>
<text x="507.7" y="108.2" font-size="5.6" font-weight="bold" fill="#111" font-family="Liberation Sans, Arial, sans-serif" text-anchor="middle">1500</text>
<line x1="524.15" y1="101" x2="524.15" y2="102.8" stroke="#4a4a4a" stroke-width="0.8"/>
<text x="524.15" y="108.2" font-size="5.6" font-weight="bold" fill="#111" font-family="Liberation Sans, Arial, sans-serif" text-anchor="middle">1000</text>
<line x1="540.6" y1="101" x2="540.6" y2="102.8" stroke="#4a4a4a" stroke-width="0.8"/>
<text x="540.6" y="108.2" font-size="5.6" font-weight="bold" fill="#111" font-family="Liberation Sans, Arial, sans-serif" text-anchor="middle">500</text>
<line x1="450.12" y1="101" x2="450.12" y2="102.1" stroke="#4a4a4a" stroke-width="0.6"/>
<line x1="466.57" y1="101" x2="466.57" y2="102.1" stroke="#4a4a4a" stroke-width="0.6"/>
<line x1="483.02" y1="101" x2="483.02" y2="102.1" stroke="#4a4a4a" stroke-width="0.6"/>
<line x1="499.47" y1="101" x2="499.47" y2="102.1" stroke="#4a4a4a" stroke-width="0.6"/>
<line x1="515.92" y1="101" x2="515.92" y2="102.1" stroke="#4a4a4a" stroke-width="0.6"/>
<line x1="532.38" y1="101" x2="532.38" y2="102.1" stroke="#4a4a4a" stroke-width="0.6"/>
<line x1="437" y1="76.1" x2="448.2" y2="76.1" stroke="#f28a92" stroke-width="0.9"/>
<text x="449.4" y="78" font-size="5.4" font-weight="bold" fill="#111" font-family="Liberation Sans, Arial, sans-serif">TiO<tspan font-size="3.8" dy="1.3">2</tspan></text>
<line x1="437" y1="83.6" x2="448.2" y2="83.6" stroke="#a95cc6" stroke-width="0.9"/>
<text x="449.4" y="85.5" font-size="5.4" font-weight="bold" fill="#111" font-family="Liberation Sans, Arial, sans-serif">1-T@S</text>
<line x1="437" y1="90.4" x2="448.2" y2="90.4" stroke="#4a94d4" stroke-width="0.9"/>
<text x="449.4" y="92.3" font-size="5.4" font-weight="bold" fill="#111" font-family="Liberation Sans, Arial, sans-serif">2-T@S</text>
<line x1="437" y1="97" x2="448.2" y2="97" stroke="#6cc46c" stroke-width="0.9"/>
<text x="449.4" y="98.9" font-size="5.4" font-weight="bold" fill="#111" font-family="Liberation Sans, Arial, sans-serif">3-T@S</text>
<text x="486.2" y="115.6" font-size="7.4" font-weight="bold" fill="#111" font-family="Liberation Sans, Arial, sans-serif" text-anchor="middle">Wavenumbers (cm<tspan font-size="5" dy="-3">-1</tspan><tspan dy="3">)</tspan></text>
<text transform="translate(431.6,57) rotate(-90)" font-size="7.3" font-weight="bold" fill="#111" font-family="Liberation Sans, Arial, sans-serif" text-anchor="middle">Transmittance (%)</text>
<text x="401.4" y="15.5" font-size="14.6" font-weight="bold" fill="#111" font-family="Liberation Serif, Times New Roman, serif" text-anchor="start">(h)</text>
<path d="M300.6,164.6 C301.17,164.42 302.77,164.27 304,163.5 C305.23,162.73 306.83,161.75 308,160 C309.17,158.25 310.08,156.25 311,153 C311.92,149.75 312.83,141 313.5,140.5 C314.17,140 314.53,146.92 315,150 C315.47,153.08 315.63,156.92 316.3,159 C316.97,161.08 317.55,161.53 319,162.5 C320.45,163.47 322.33,164.22 325,164.8 C327.67,165.38 331.25,165.7 335,166 C338.75,166.3 345.42,166.5 347.5,166.6" fill="none" stroke="#f28a92" stroke-width="0.75" stroke-linejoin="round" stroke-linecap="round" opacity="0.75"/>
<rect x="300.5" y="129.2" width="48.3" height="38.6" fill="none" stroke="#777" stroke-width="0.55"/>
<text x="299.7" y="168" font-size="2.5" fill="#666" style="stroke:none" font-family="Liberation Sans, Arial, sans-serif" text-anchor="end">0.00</text>
<text x="299.7" y="158.65" font-size="2.5" fill="#666" style="stroke:none" font-family="Liberation Sans, Arial, sans-serif" text-anchor="end">0.02</text>
<text x="299.7" y="149.3" font-size="2.5" fill="#666" style="stroke:none" font-family="Liberation Sans, Arial, sans-serif" text-anchor="end">0.04</text>
<text x="299.7" y="139.95" font-size="2.5" fill="#666" style="stroke:none" font-family="Liberation Sans, Arial, sans-serif" text-anchor="end">0.06</text>
<text x="299.7" y="130.6" font-size="2.5" fill="#666" style="stroke:none" font-family="Liberation Sans, Arial, sans-serif" text-anchor="end">0.08</text>
<text x="316.1" y="170.8" font-size="2.8" fill="#555" style="stroke:none" font-family="Liberation Sans, Arial, sans-serif" text-anchor="middle">10</text>
<text x="347.8" y="170.8" font-size="2.8" fill="#555" style="stroke:none" font-family="Liberation Sans, Arial, sans-serif" text-anchor="middle">100</text>
<text x="324.65" y="174.2" font-size="3.9" font-weight="bold" fill="#333" style="stroke:none" font-family="Liberation Sans, Arial, sans-serif" text-anchor="middle">Pore diameter (nm)</text>
<text transform="translate(294.3,148.5) rotate(-90)" font-size="2.9" fill="#555" style="stroke:none" font-family="Liberation Sans, Arial, sans-serif" text-anchor="middle">dV/dD (cm<tspan font-size="2" dy="-1">3</tspan><tspan dy="1">/g)</tspan></text>
<path d="M292.3,213.5 C293.58,213 296.22,211.67 300,210.5 C303.78,209.33 310,207.78 315,206.5 C320,205.22 325.5,204 330,202.8 C334.5,201.6 338.67,200.32 342,199.3 C345.33,198.28 347.33,197.68 350,196.7 C352.67,195.72 355.33,194.72 358,193.4 C360.67,192.08 363.68,190.23 366,188.8 C368.32,187.37 369.92,186.8 371.9,184.8 C373.88,182.8 375.9,179.8 377.9,176.8 C379.9,173.8 381.92,170.45 383.9,166.8 C385.88,163.15 388.15,158.55 389.8,154.9 C391.45,151.25 392.63,148.38 393.8,144.9 C394.97,141.42 396.22,136.28 396.8,134 C397.38,131.72 397.22,131.67 397.3,131.2" fill="none" stroke="#f28a92" stroke-width="1.15" stroke-linejoin="round" stroke-linecap="round"/>
<path d="M358,193.4 C359.15,192.3 363.42,188.4 364.9,186.8 C366.38,185.2 366.23,185.3 366.9,183.8 C367.57,182.3 368.23,180.13 368.9,177.8 C369.57,175.47 370.38,171.8 370.9,169.8 C371.42,167.8 371.17,167.45 372,165.8 C372.83,164.15 374.25,161.88 375.9,159.9 C377.55,157.92 379.92,155.9 381.9,153.9 C383.88,151.9 385.98,150.05 387.8,147.9 C389.62,145.75 391.47,143.4 392.8,141 C394.13,138.6 395.05,135.13 395.8,133.5 C396.55,131.87 397.05,131.58 397.3,131.2" fill="none" stroke="#f28a92" stroke-width="1.15" stroke-linejoin="round" stroke-linecap="round"/>
<rect x="289" y="127" width="110" height="89.2" fill="none" stroke="#4a4a4a" stroke-width="1.2"/>
<line x1="358.2" y1="130.7" x2="370" y2="130.7" stroke="#f28a92" stroke-width="0.9"/>
<text x="372.2" y="132.6" font-size="5.4" font-weight="bold" fill="#111" font-family="Liberation Sans, Arial, sans-serif">TiO<tspan font-size="3.8" dy="1.3">2</tspan></text>
<line x1="287.2" y1="210.59" x2="289" y2="210.59" stroke="#4a4a4a" stroke-width="0.8"/>
<text x="287.1" y="212.5" font-size="5.5" font-weight="bold" fill="#111" font-family="Liberation Sans, Arial, sans-serif" text-anchor="end">25</text>
<line x1="287.2" y1="196.66" x2="289" y2="196.66" stroke="#4a4a4a" stroke-width="0.8"/>
<text x="287.1" y="198.56" font-size="5.5" font-weight="bold" fill="#111" font-family="Liberation Sans, Arial, sans-serif" text-anchor="end">50</text>
<line x1="287.2" y1="182.73" x2="289" y2="182.73" stroke="#4a4a4a" stroke-width="0.8"/>
<text x="287.1" y="184.63" font-size="5.5" font-weight="bold" fill="#111" font-family="Liberation Sans, Arial, sans-serif" text-anchor="end">75</text>
<line x1="287.2" y1="168.8" x2="289" y2="168.8" stroke="#4a4a4a" stroke-width="0.8"/>
<text x="287.1" y="170.7" font-size="5.5" font-weight="bold" fill="#111" font-family="Liberation Sans, Arial, sans-serif" text-anchor="end">100</text>
<line x1="287.2" y1="154.87" x2="289" y2="154.87" stroke="#4a4a4a" stroke-width="0.8"/>
<text x="287.1" y="156.77" font-size="5.5" font-weight="bold" fill="#111" font-family="Liberation Sans, Arial, sans-serif" text-anchor="end">125</text>
<line x1="287.2" y1="140.93" x2="289" y2="140.93" stroke="#4a4a4a" stroke-width="0.8"/>
<text x="287.1" y="142.83" font-size="5.5" font-weight="bold" fill="#111" font-family="Liberation Sans, Arial, sans-serif" text-anchor="end">150</text>
<line x1="287.2" y1="127" x2="289" y2="127" stroke="#4a4a4a" stroke-width="0.8"/>
<text x="287.1" y="128.9" font-size="5.5" font-weight="bold" fill="#111" font-family="Liberation Sans, Arial, sans-serif" text-anchor="end">175</text>
<line x1="287.9" y1="203.63" x2="289" y2="203.63" stroke="#4a4a4a" stroke-width="0.6"/>
<line x1="287.9" y1="189.7" x2="289" y2="189.7" stroke="#4a4a4a" stroke-width="0.6"/>
<line x1="287.9" y1="175.76" x2="289" y2="175.76" stroke="#4a4a4a" stroke-width="0.6"/>
<line x1="287.9" y1="161.83" x2="289" y2="161.83" stroke="#4a4a4a" stroke-width="0.6"/>
<line x1="287.9" y1="147.9" x2="289" y2="147.9" stroke="#4a4a4a" stroke-width="0.6"/>
<line x1="287.9" y1="133.97" x2="289" y2="133.97" stroke="#4a4a4a" stroke-width="0.6"/>
<line x1="289" y1="216.2" x2="289" y2="218" stroke="#4a4a4a" stroke-width="0.8"/>
<text x="289" y="223" font-size="5.5" font-weight="bold" fill="#111" font-family="Liberation Sans, Arial, sans-serif" text-anchor="middle">0.0</text>
<line x1="311" y1="216.2" x2="311" y2="218" stroke="#4a4a4a" stroke-width="0.8"/>
<text x="311" y="223" font-size="5.5" font-weight="bold" fill="#111" font-family="Liberation Sans, Arial, sans-serif" text-anchor="middle">0.2</text>
<line x1="333" y1="216.2" x2="333" y2="218" stroke="#4a4a4a" stroke-width="0.8"/>
<text x="333" y="223" font-size="5.5" font-weight="bold" fill="#111" font-family="Liberation Sans, Arial, sans-serif" text-anchor="middle">0.4</text>
<line x1="355" y1="216.2" x2="355" y2="218" stroke="#4a4a4a" stroke-width="0.8"/>
<text x="355" y="223" font-size="5.5" font-weight="bold" fill="#111" font-family="Liberation Sans, Arial, sans-serif" text-anchor="middle">0.6</text>
<line x1="377" y1="216.2" x2="377" y2="218" stroke="#4a4a4a" stroke-width="0.8"/>
<text x="377" y="223" font-size="5.5" font-weight="bold" fill="#111" font-family="Liberation Sans, Arial, sans-serif" text-anchor="middle">0.8</text>
<line x1="399" y1="216.2" x2="399" y2="218" stroke="#4a4a4a" stroke-width="0.8"/>
<text x="399" y="223" font-size="5.5" font-weight="bold" fill="#111" font-family="Liberation Sans, Arial, sans-serif" text-anchor="middle">1.0</text>
<line x1="300" y1="216.2" x2="300" y2="217.3" stroke="#4a4a4a" stroke-width="0.6"/>
<line x1="322" y1="216.2" x2="322" y2="217.3" stroke="#4a4a4a" stroke-width="0.6"/>
<line x1="344" y1="216.2" x2="344" y2="217.3" stroke="#4a4a4a" stroke-width="0.6"/>
<line x1="366" y1="216.2" x2="366" y2="217.3" stroke="#4a4a4a" stroke-width="0.6"/>
<line x1="388" y1="216.2" x2="388" y2="217.3" stroke="#4a4a4a" stroke-width="0.6"/>
<text x="343.5" y="230.8" font-size="7.5" font-weight="bold" fill="#111" font-family="Liberation Sans, Arial, sans-serif" text-anchor="middle">Relative Pressure (P/P<tspan font-size="5" dy="1.8">0</tspan><tspan dy="-1.8">)</tspan></text>
<text transform="translate(275,172.2) rotate(-90)" font-size="7.6" font-weight="bold" fill="#111" font-family="Liberation Sans, Arial, sans-serif" text-anchor="middle">Volume absorbed (cm<tspan font-size="4.8" dy="-2.6">3</tspan><tspan dy="2.6">/g)</tspan></text>
<text x="258.5" y="120.9" font-size="14.2" font-weight="bold" fill="#111" font-family="Liberation Serif, Times New Roman, serif" text-anchor="start">(i)</text>
<path d="M445.6,151.4 C445.75,149.5 446.18,143.15 446.5,140 C446.82,136.85 447.18,134 447.5,132.5 C447.82,131 448.07,131.17 448.4,131 C448.73,130.83 449.15,129.67 449.5,131.5 C449.85,133.33 450.08,138.33 450.5,142 C450.92,145.67 451.4,150.3 452,153.5 C452.6,156.7 453.27,159.37 454.1,161.2 C454.93,163.03 454.75,163.82 457,164.5 C459.25,165.18 462.15,165.12 467.6,165.3 C473.05,165.48 486.02,165.55 489.7,165.6" fill="none" stroke="#a95cc6" stroke-width="0.75" stroke-linejoin="round" stroke-linecap="round" opacity="0.75"/>
<rect x="444.3" y="129.2" width="48.3" height="38.6" fill="none" stroke="#777" stroke-width="0.55"/>
<text x="443.5" y="168" font-size="2.5" fill="#666" style="stroke:none" font-family="Liberation Sans, Arial, sans-serif" text-anchor="end">0.00</text>
<text x="443.5" y="158.65" font-size="2.5" fill="#666" style="stroke:none" font-family="Liberation Sans, Arial, sans-serif" text-anchor="end">0.02</text>
<text x="443.5" y="149.3" font-size="2.5" fill="#666" style="stroke:none" font-family="Liberation Sans, Arial, sans-serif" text-anchor="end">0.04</text>
<text x="443.5" y="139.95" font-size="2.5" fill="#666" style="stroke:none" font-family="Liberation Sans, Arial, sans-serif" text-anchor="end">0.06</text>
<text x="443.5" y="130.6" font-size="2.5" fill="#666" style="stroke:none" font-family="Liberation Sans, Arial, sans-serif" text-anchor="end">0.08</text>
<text x="459.9" y="170.8" font-size="2.8" fill="#555" style="stroke:none" font-family="Liberation Sans, Arial, sans-serif" text-anchor="middle">10</text>
<text x="491.6" y="170.8" font-size="2.8" fill="#555" style="stroke:none" font-family="Liberation Sans, Arial, sans-serif" text-anchor="middle">100</text>
<text x="468.45" y="174.2" font-size="3.9" font-weight="bold" fill="#333" style="stroke:none" font-family="Liberation Sans, Arial, sans-serif" text-anchor="middle">Pore diameter (nm)</text>
<text transform="translate(438.1,148.5) rotate(-90)" font-size="2.9" fill="#555" style="stroke:none" font-family="Liberation Sans, Arial, sans-serif" text-anchor="middle">dV/dD (cm<tspan font-size="2" dy="-1">3</tspan><tspan dy="1">/g)</tspan></text>
<path d="M437.3,210.6 C438.87,209.98 442.68,208.22 446.7,206.9 C450.72,205.58 457.22,203.92 461.4,202.7 C465.58,201.48 469.03,200.47 471.8,199.6 C474.57,198.73 476.25,198.27 478,197.5 C479.75,196.73 480.8,195.87 482.3,195 C483.8,194.13 485.27,193.22 487,192.3 C488.73,191.38 490.87,190.58 492.7,189.5 C494.53,188.42 496.25,187.15 498,185.8 C499.75,184.45 501.53,182.78 503.2,181.4 C504.87,180.02 506.27,178.63 508,177.5 C509.73,176.37 511.77,175.38 513.6,174.6 C515.43,173.82 517.25,173.32 519,172.8 C520.75,172.28 522.27,171.97 524.1,171.5 C525.93,171.03 528.27,170.55 530,170 C531.73,169.45 533.08,169.03 534.5,168.2 C535.92,167.37 537.5,166.2 538.5,165 C539.5,163.8 540.17,161.67 540.5,161" fill="none" stroke="#a95cc6" stroke-width="1.15" stroke-linejoin="round" stroke-linecap="round"/>
<path d="M482.3,195 C482.75,194.42 484.13,192.7 485,191.5 C485.87,190.3 486.67,189.13 487.5,187.8 C488.33,186.47 489.13,184.73 490,183.5 C490.87,182.27 491.7,181.32 492.7,180.4 C493.7,179.48 494.6,178.8 496,178 C497.4,177.2 499.27,176.3 501.1,175.6 C502.93,174.9 504.92,174.3 507,173.8 C509.08,173.3 511.6,172.95 513.6,172.6 C515.6,172.25 517.25,172 519,171.7 C520.75,171.4 522.27,171.17 524.1,170.8 C525.93,170.43 528.27,170 530,169.5 C531.73,169 533.08,168.63 534.5,167.8 C535.92,166.97 537.5,165.63 538.5,164.5 C539.5,163.37 540.17,161.58 540.5,161" fill="none" stroke="#a95cc6" stroke-width="1.15" stroke-linejoin="round" stroke-linecap="round"/>
<rect x="432.8" y="127" width="110" height="89.2" fill="none" stroke="#4a4a4a" stroke-width="1.2"/>
<line x1="502" y1="130.7" x2="513.8" y2="130.7" stroke="#a95cc6" stroke-width="0.9"/>
<text x="516" y="132.6" font-size="5.4" font-weight="bold" fill="#111" font-family="Liberation Sans, Arial, sans-serif">1-T@S</text>
<line x1="431" y1="210.59" x2="432.8" y2="210.59" stroke="#4a4a4a" stroke-width="0.8"/>
<text x="430.9" y="212.5" font-size="5.5" font-weight="bold" fill="#111" font-family="Liberation Sans, Arial, sans-serif" text-anchor="end">25</text>
<line x1="431" y1="196.66" x2="432.8" y2="196.66" stroke="#4a4a4a" stroke-width="0.8"/>
<text x="430.9" y="198.56" font-size="5.5" font-weight="bold" fill="#111" font-family="Liberation Sans, Arial, sans-serif" text-anchor="end">50</text>
<line x1="431" y1="182.73" x2="432.8" y2="182.73" stroke="#4a4a4a" stroke-width="0.8"/>
<text x="430.9" y="184.63" font-size="5.5" font-weight="bold" fill="#111" font-family="Liberation Sans, Arial, sans-serif" text-anchor="end">75</text>
<line x1="431" y1="168.8" x2="432.8" y2="168.8" stroke="#4a4a4a" stroke-width="0.8"/>
<text x="430.9" y="170.7" font-size="5.5" font-weight="bold" fill="#111" font-family="Liberation Sans, Arial, sans-serif" text-anchor="end">100</text>
<line x1="431" y1="154.87" x2="432.8" y2="154.87" stroke="#4a4a4a" stroke-width="0.8"/>
<text x="430.9" y="156.77" font-size="5.5" font-weight="bold" fill="#111" font-family="Liberation Sans, Arial, sans-serif" text-anchor="end">125</text>
<line x1="431" y1="140.93" x2="432.8" y2="140.93" stroke="#4a4a4a" stroke-width="0.8"/>
<text x="430.9" y="142.83" font-size="5.5" font-weight="bold" fill="#111" font-family="Liberation Sans, Arial, sans-serif" text-anchor="end">150</text>
<line x1="431" y1="127" x2="432.8" y2="127" stroke="#4a4a4a" stroke-width="0.8"/>
<text x="430.9" y="128.9" font-size="5.5" font-weight="bold" fill="#111" font-family="Liberation Sans, Arial, sans-serif" text-anchor="end">175</text>
<line x1="431.7" y1="203.63" x2="432.8" y2="203.63" stroke="#4a4a4a" stroke-width="0.6"/>
<line x1="431.7" y1="189.7" x2="432.8" y2="189.7" stroke="#4a4a4a" stroke-width="0.6"/>
<line x1="431.7" y1="175.76" x2="432.8" y2="175.76" stroke="#4a4a4a" stroke-width="0.6"/>
<line x1="431.7" y1="161.83" x2="432.8" y2="161.83" stroke="#4a4a4a" stroke-width="0.6"/>
<line x1="431.7" y1="147.9" x2="432.8" y2="147.9" stroke="#4a4a4a" stroke-width="0.6"/>
<line x1="431.7" y1="133.97" x2="432.8" y2="133.97" stroke="#4a4a4a" stroke-width="0.6"/>
<line x1="432.8" y1="216.2" x2="432.8" y2="218" stroke="#4a4a4a" stroke-width="0.8"/>
<text x="432.8" y="223" font-size="5.5" font-weight="bold" fill="#111" font-family="Liberation Sans, Arial, sans-serif" text-anchor="middle">0.0</text>
<line x1="454.8" y1="216.2" x2="454.8" y2="218" stroke="#4a4a4a" stroke-width="0.8"/>
<text x="454.8" y="223" font-size="5.5" font-weight="bold" fill="#111" font-family="Liberation Sans, Arial, sans-serif" text-anchor="middle">0.2</text>
<line x1="476.8" y1="216.2" x2="476.8" y2="218" stroke="#4a4a4a" stroke-width="0.8"/>
<text x="476.8" y="223" font-size="5.5" font-weight="bold" fill="#111" font-family="Liberation Sans, Arial, sans-serif" text-anchor="middle">0.4</text>
<line x1="498.8" y1="216.2" x2="498.8" y2="218" stroke="#4a4a4a" stroke-width="0.8"/>
<text x="498.8" y="223" font-size="5.5" font-weight="bold" fill="#111" font-family="Liberation Sans, Arial, sans-serif" text-anchor="middle">0.6</text>
<line x1="520.8" y1="216.2" x2="520.8" y2="218" stroke="#4a4a4a" stroke-width="0.8"/>
<text x="520.8" y="223" font-size="5.5" font-weight="bold" fill="#111" font-family="Liberation Sans, Arial, sans-serif" text-anchor="middle">0.8</text>
<line x1="542.8" y1="216.2" x2="542.8" y2="218" stroke="#4a4a4a" stroke-width="0.8"/>
<text x="542.8" y="223" font-size="5.5" font-weight="bold" fill="#111" font-family="Liberation Sans, Arial, sans-serif" text-anchor="middle">1.0</text>
<line x1="443.8" y1="216.2" x2="443.8" y2="217.3" stroke="#4a4a4a" stroke-width="0.6"/>
<line x1="465.8" y1="216.2" x2="465.8" y2="217.3" stroke="#4a4a4a" stroke-width="0.6"/>
<line x1="487.8" y1="216.2" x2="487.8" y2="217.3" stroke="#4a4a4a" stroke-width="0.6"/>
<line x1="509.8" y1="216.2" x2="509.8" y2="217.3" stroke="#4a4a4a" stroke-width="0.6"/>
<line x1="531.8" y1="216.2" x2="531.8" y2="217.3" stroke="#4a4a4a" stroke-width="0.6"/>
<text x="487.3" y="230.8" font-size="7.5" font-weight="bold" fill="#111" font-family="Liberation Sans, Arial, sans-serif" text-anchor="middle">Relative Pressure (P/P<tspan font-size="5" dy="1.8">0</tspan><tspan dy="-1.8">)</tspan></text>
<text transform="translate(418.8,172.2) rotate(-90)" font-size="7.6" font-weight="bold" fill="#111" font-family="Liberation Sans, Arial, sans-serif" text-anchor="middle">Volume absorbed (cm<tspan font-size="4.8" dy="-2.6">3</tspan><tspan dy="2.6">/g)</tspan></text>
<text x="402.3" y="120.9" font-size="14.2" font-weight="bold" fill="#111" font-family="Liberation Serif, Times New Roman, serif" text-anchor="start">(j)</text>
<path d="M302.4,275.4 C302.75,274.17 303.68,270.62 304.5,268 C305.32,265.38 306.38,260.2 307.3,259.7 C308.22,259.2 309.05,262.95 310,265 C310.95,267.05 311.92,269.67 313,272 C314.08,274.33 315.33,277.33 316.5,279 C317.67,280.67 317.75,281.37 320,282 C322.25,282.63 325.5,282.63 330,282.8 C334.5,282.97 344.17,282.97 347,283" fill="none" stroke="#4a94d4" stroke-width="0.75" stroke-linejoin="round" stroke-linecap="round" opacity="0.75"/>
<rect x="300.2" y="244.8" width="48.3" height="38.6" fill="none" stroke="#777" stroke-width="0.55"/>
<text x="299.4" y="283.6" font-size="2.5" fill="#666" style="stroke:none" font-family="Liberation Sans, Arial, sans-serif" text-anchor="end">0.00</text>
<text x="299.4" y="274.25" font-size="2.5" fill="#666" style="stroke:none" font-family="Liberation Sans, Arial, sans-serif" text-anchor="end">0.02</text>
<text x="299.4" y="264.9" font-size="2.5" fill="#666" style="stroke:none" font-family="Liberation Sans, Arial, sans-serif" text-anchor="end">0.04</text>
<text x="299.4" y="255.55" font-size="2.5" fill="#666" style="stroke:none" font-family="Liberation Sans, Arial, sans-serif" text-anchor="end">0.06</text>
<text x="299.4" y="246.2" font-size="2.5" fill="#666" style="stroke:none" font-family="Liberation Sans, Arial, sans-serif" text-anchor="end">0.08</text>
<text x="315.8" y="286.4" font-size="2.8" fill="#555" style="stroke:none" font-family="Liberation Sans, Arial, sans-serif" text-anchor="middle">10</text>
<text x="347.5" y="286.4" font-size="2.8" fill="#555" style="stroke:none" font-family="Liberation Sans, Arial, sans-serif" text-anchor="middle">100</text>
<text x="324.35" y="289.8" font-size="3.9" font-weight="bold" fill="#333" style="stroke:none" font-family="Liberation Sans, Arial, sans-serif" text-anchor="middle">Pore diameter (nm)</text>
<text transform="translate(294,264.1) rotate(-90)" font-size="2.9" fill="#555" style="stroke:none" font-family="Liberation Sans, Arial, sans-serif" text-anchor="middle">dV/dD (cm<tspan font-size="2" dy="-1">3</tspan><tspan dy="1">/g)</tspan></text>
<path d="M291,325.5 C291.83,325.03 294.17,323.58 296,322.7 C297.83,321.82 299.5,321.12 302,320.2 C304.5,319.28 307.78,318.2 311,317.2 C314.22,316.2 317.57,315.32 321.3,314.2 C325.03,313.08 330.45,311.45 333.4,310.5 C336.35,309.55 337.18,309.22 339,308.5 C340.82,307.78 342.47,307.08 344.3,306.2 C346.13,305.32 348.18,304.13 350,303.2 C351.82,302.27 353.53,301.63 355.2,300.6 C356.87,299.57 358.38,298.37 360,297 C361.62,295.63 363.23,294.15 364.9,292.4 C366.57,290.65 368.38,288.52 370,286.5 C371.62,284.48 373.18,282.22 374.6,280.3 C376.02,278.38 377.28,276.62 378.5,275 C379.72,273.38 380.73,271.93 381.9,270.6 C383.07,269.27 384.3,268.02 385.5,267 C386.7,265.98 387.85,265.42 389.1,264.5 C390.35,263.58 391.78,262.7 393,261.5 C394.22,260.3 395.83,258 396.4,257.3" fill="none" stroke="#4a94d4" stroke-width="1.15" stroke-linejoin="round" stroke-linecap="round"/>
<path d="M344.3,306.2 C344.83,305.8 346.48,304.7 347.5,303.8 C348.52,302.9 349.15,302.43 350.4,300.8 C351.65,299.17 353.4,296.42 355,294 C356.6,291.58 358.25,288.72 360,286.3 C361.75,283.88 363.67,281.72 365.5,279.5 C367.33,277.28 369.58,274.58 371,273 C372.42,271.42 373,270.8 374,270 C375,269.2 375.83,268.73 377,268.2 C378.17,267.67 379.78,267.22 381,266.8 C382.22,266.38 383.13,266.17 384.3,265.7 C385.47,265.23 386.8,264.75 388,264 C389.2,263.25 390.5,261.98 391.5,261.2 C392.5,260.42 393.18,259.95 394,259.3 C394.82,258.65 396,257.63 396.4,257.3" fill="none" stroke="#4a94d4" stroke-width="1.15" stroke-linejoin="round" stroke-linecap="round"/>
<rect x="288.7" y="242.6" width="110" height="89.2" fill="none" stroke="#4a4a4a" stroke-width="1.2"/>
<line x1="357.9" y1="246.3" x2="369.7" y2="246.3" stroke="#4a94d4" stroke-width="0.9"/>
<text x="371.9" y="248.2" font-size="5.4" font-weight="bold" fill="#111" font-family="Liberation Sans, Arial, sans-serif">2-T@S</text>
<line x1="286.9" y1="326.19" x2="288.7" y2="326.19" stroke="#4a4a4a" stroke-width="0.8"/>
<text x="286.8" y="328.09" font-size="5.5" font-weight="bold" fill="#111" font-family="Liberation Sans, Arial, sans-serif" text-anchor="end">25</text>
<line x1="286.9" y1="312.26" x2="288.7" y2="312.26" stroke="#4a4a4a" stroke-width="0.8"/>
<text x="286.8" y="314.16" font-size="5.5" font-weight="bold" fill="#111" font-family="Liberation Sans, Arial, sans-serif" text-anchor="end">50</text>
<line x1="286.9" y1="298.33" x2="288.7" y2="298.33" stroke="#4a4a4a" stroke-width="0.8"/>
<text x="286.8" y="300.23" font-size="5.5" font-weight="bold" fill="#111" font-family="Liberation Sans, Arial, sans-serif" text-anchor="end">75</text>
<line x1="286.9" y1="284.4" x2="288.7" y2="284.4" stroke="#4a4a4a" stroke-width="0.8"/>
<text x="286.8" y="286.3" font-size="5.5" font-weight="bold" fill="#111" font-family="Liberation Sans, Arial, sans-serif" text-anchor="end">100</text>
<line x1="286.9" y1="270.46" x2="288.7" y2="270.46" stroke="#4a4a4a" stroke-width="0.8"/>
<text x="286.8" y="272.36" font-size="5.5" font-weight="bold" fill="#111" font-family="Liberation Sans, Arial, sans-serif" text-anchor="end">125</text>
<line x1="286.9" y1="256.53" x2="288.7" y2="256.53" stroke="#4a4a4a" stroke-width="0.8"/>
<text x="286.8" y="258.43" font-size="5.5" font-weight="bold" fill="#111" font-family="Liberation Sans, Arial, sans-serif" text-anchor="end">150</text>
<line x1="286.9" y1="242.6" x2="288.7" y2="242.6" stroke="#4a4a4a" stroke-width="0.8"/>
<text x="286.8" y="244.5" font-size="5.5" font-weight="bold" fill="#111" font-family="Liberation Sans, Arial, sans-serif" text-anchor="end">175</text>
<line x1="287.6" y1="319.23" x2="288.7" y2="319.23" stroke="#4a4a4a" stroke-width="0.6"/>
<line x1="287.6" y1="305.3" x2="288.7" y2="305.3" stroke="#4a4a4a" stroke-width="0.6"/>
<line x1="287.6" y1="291.36" x2="288.7" y2="291.36" stroke="#4a4a4a" stroke-width="0.6"/>
<line x1="287.6" y1="277.43" x2="288.7" y2="277.43" stroke="#4a4a4a" stroke-width="0.6"/>
<line x1="287.6" y1="263.5" x2="288.7" y2="263.5" stroke="#4a4a4a" stroke-width="0.6"/>
<line x1="287.6" y1="249.57" x2="288.7" y2="249.57" stroke="#4a4a4a" stroke-width="0.6"/>
<line x1="288.7" y1="331.8" x2="288.7" y2="333.6" stroke="#4a4a4a" stroke-width="0.8"/>
<text x="288.7" y="338.6" font-size="5.5" font-weight="bold" fill="#111" font-family="Liberation Sans, Arial, sans-serif" text-anchor="middle">0.0</text>
<line x1="310.7" y1="331.8" x2="310.7" y2="333.6" stroke="#4a4a4a" stroke-width="0.8"/>
<text x="310.7" y="338.6" font-size="5.5" font-weight="bold" fill="#111" font-family="Liberation Sans, Arial, sans-serif" text-anchor="middle">0.2</text>
<line x1="332.7" y1="331.8" x2="332.7" y2="333.6" stroke="#4a4a4a" stroke-width="0.8"/>
<text x="332.7" y="338.6" font-size="5.5" font-weight="bold" fill="#111" font-family="Liberation Sans, Arial, sans-serif" text-anchor="middle">0.4</text>
<line x1="354.7" y1="331.8" x2="354.7" y2="333.6" stroke="#4a4a4a" stroke-width="0.8"/>
<text x="354.7" y="338.6" font-size="5.5" font-weight="bold" fill="#111" font-family="Liberation Sans, Arial, sans-serif" text-anchor="middle">0.6</text>
<line x1="376.7" y1="331.8" x2="376.7" y2="333.6" stroke="#4a4a4a" stroke-width="0.8"/>
<text x="376.7" y="338.6" font-size="5.5" font-weight="bold" fill="#111" font-family="Liberation Sans, Arial, sans-serif" text-anchor="middle">0.8</text>
<line x1="398.7" y1="331.8" x2="398.7" y2="333.6" stroke="#4a4a4a" stroke-width="0.8"/>
<text x="398.7" y="338.6" font-size="5.5" font-weight="bold" fill="#111" font-family="Liberation Sans, Arial, sans-serif" text-anchor="middle">1.0</text>
<line x1="299.7" y1="331.8" x2="299.7" y2="332.9" stroke="#4a4a4a" stroke-width="0.6"/>
<line x1="321.7" y1="331.8" x2="321.7" y2="332.9" stroke="#4a4a4a" stroke-width="0.6"/>
<line x1="343.7" y1="331.8" x2="343.7" y2="332.9" stroke="#4a4a4a" stroke-width="0.6"/>
<line x1="365.7" y1="331.8" x2="365.7" y2="332.9" stroke="#4a4a4a" stroke-width="0.6"/>
<line x1="387.7" y1="331.8" x2="387.7" y2="332.9" stroke="#4a4a4a" stroke-width="0.6"/>
<text x="343.2" y="346.4" font-size="7.5" font-weight="bold" fill="#111" font-family="Liberation Sans, Arial, sans-serif" text-anchor="middle">Relative Pressure (P/P<tspan font-size="5" dy="1.8">0</tspan><tspan dy="-1.8">)</tspan></text>
<text transform="translate(274.7,287.8) rotate(-90)" font-size="7.6" font-weight="bold" fill="#111" font-family="Liberation Sans, Arial, sans-serif" text-anchor="middle">Volume absorbed (cm<tspan font-size="4.8" dy="-2.6">3</tspan><tspan dy="2.6">/g)</tspan></text>
<text x="258.2" y="236.5" font-size="14.2" font-weight="bold" fill="#111" font-family="Liberation Serif, Times New Roman, serif" text-anchor="start">(k)</text>
<path d="M445.7,272.3 C445.97,270.25 446.68,263.72 447.3,260 C447.92,256.28 448.78,250 449.4,250 C450.02,250 450.4,256.77 451,260 C451.6,263.23 452.27,267.23 453,269.4 C453.73,271.57 454.6,272.28 455.4,273 C456.2,273.72 456.98,272.7 457.8,273.7 C458.62,274.7 459.48,277.78 460.3,279 C461.12,280.22 461.08,280.53 462.7,281 C464.32,281.47 465.53,281.63 470,281.8 C474.47,281.97 486.25,281.97 489.5,282" fill="none" stroke="#6cc46c" stroke-width="0.75" stroke-linejoin="round" stroke-linecap="round" opacity="0.75"/>
<rect x="444.3" y="244.8" width="48.3" height="38.6" fill="none" stroke="#777" stroke-width="0.55"/>
<text x="443.5" y="283.6" font-size="2.5" fill="#666" style="stroke:none" font-family="Liberation Sans, Arial, sans-serif" text-anchor="end">0.00</text>
<text x="443.5" y="274.25" font-size="2.5" fill="#666" style="stroke:none" font-family="Liberation Sans, Arial, sans-serif" text-anchor="end">0.02</text>
<text x="443.5" y="264.9" font-size="2.5" fill="#666" style="stroke:none" font-family="Liberation Sans, Arial, sans-serif" text-anchor="end">0.04</text>
<text x="443.5" y="255.55" font-size="2.5" fill="#666" style="stroke:none" font-family="Liberation Sans, Arial, sans-serif" text-anchor="end">0.06</text>
<text x="443.5" y="246.2" font-size="2.5" fill="#666" style="stroke:none" font-family="Liberation Sans, Arial, sans-serif" text-anchor="end">0.08</text>
<text x="459.9" y="286.4" font-size="2.8" fill="#555" style="stroke:none" font-family="Liberation Sans, Arial, sans-serif" text-anchor="middle">10</text>
<text x="491.6" y="286.4" font-size="2.8" fill="#555" style="stroke:none" font-family="Liberation Sans, Arial, sans-serif" text-anchor="middle">100</text>
<text x="468.45" y="289.8" font-size="3.9" font-weight="bold" fill="#333" style="stroke:none" font-family="Liberation Sans, Arial, sans-serif" text-anchor="middle">Pore diameter (nm)</text>
<text transform="translate(438.1,264.1) rotate(-90)" font-size="2.9" fill="#555" style="stroke:none" font-family="Liberation Sans, Arial, sans-serif" text-anchor="middle">dV/dD (cm<tspan font-size="2" dy="-1">3</tspan><tspan dy="1">/g)</tspan></text>
<path d="M436,322.2 C436.83,321.72 439.17,320.23 441,319.3 C442.83,318.37 444.5,317.58 447,316.6 C449.5,315.62 452.78,314.42 456,313.4 C459.22,312.38 463.3,311.43 466.3,310.5 C469.3,309.57 471.38,308.8 474,307.8 C476.62,306.8 479.75,305.47 482,304.5 C484.25,303.53 485.67,302.82 487.5,302 C489.33,301.18 491.08,300.67 493,299.6 C494.92,298.53 496.98,297 499,295.6 C501.02,294.2 503.1,292.8 505.1,291.2 C507.1,289.6 508.98,287.82 511,286 C513.02,284.18 515.37,282.08 517.2,280.3 C519.03,278.52 520.38,276.92 522,275.3 C523.62,273.68 525.48,271.78 526.9,270.6 C528.32,269.42 529.3,268.88 530.5,268.2 C531.7,267.52 532.85,267.17 534.1,266.5 C535.35,265.83 536.78,265.02 538,264.2 C539.22,263.38 540.83,262.03 541.4,261.6" fill="none" stroke="#6cc46c" stroke-width="1.15" stroke-linejoin="round" stroke-linecap="round"/>
<path d="M482,304.5 C482.5,303.88 483.98,302.02 485,300.8 C486.02,299.58 486.77,298.73 488.1,297.2 C489.43,295.67 491.38,293.42 493,291.6 C494.62,289.78 496.22,287.8 497.8,286.3 C499.38,284.8 500.88,283.8 502.5,282.6 C504.12,281.4 505.92,280.28 507.5,279.1 C509.08,277.92 510.58,276.63 512,275.5 C513.42,274.37 514.75,273.15 516,272.3 C517.25,271.45 518.3,270.88 519.5,270.4 C520.7,269.92 522.03,269.68 523.2,269.4 C524.37,269.12 525.48,268.9 526.5,268.7 C527.52,268.5 528.22,268.58 529.3,268.2 C530.38,267.82 531.8,267.02 533,266.4 C534.2,265.78 535.5,265.07 536.5,264.5 C537.5,263.93 538.18,263.48 539,263 C539.82,262.52 541,261.83 541.4,261.6" fill="none" stroke="#6cc46c" stroke-width="1.15" stroke-linejoin="round" stroke-linecap="round"/>
<rect x="432.8" y="242.6" width="110" height="89.2" fill="none" stroke="#4a4a4a" stroke-width="1.2"/>
<line x1="502" y1="246.3" x2="513.8" y2="246.3" stroke="#6cc46c" stroke-width="0.9"/>
<text x="516" y="248.2" font-size="5.4" font-weight="bold" fill="#111" font-family="Liberation Sans, Arial, sans-serif">3-T@S</text>
<line x1="431" y1="326.19" x2="432.8" y2="326.19" stroke="#4a4a4a" stroke-width="0.8"/>
<text x="430.9" y="328.09" font-size="5.5" font-weight="bold" fill="#111" font-family="Liberation Sans, Arial, sans-serif" text-anchor="end">25</text>
<line x1="431" y1="312.26" x2="432.8" y2="312.26" stroke="#4a4a4a" stroke-width="0.8"/>
<text x="430.9" y="314.16" font-size="5.5" font-weight="bold" fill="#111" font-family="Liberation Sans, Arial, sans-serif" text-anchor="end">50</text>
<line x1="431" y1="298.33" x2="432.8" y2="298.33" stroke="#4a4a4a" stroke-width="0.8"/>
<text x="430.9" y="300.23" font-size="5.5" font-weight="bold" fill="#111" font-family="Liberation Sans, Arial, sans-serif" text-anchor="end">75</text>
<line x1="431" y1="284.4" x2="432.8" y2="284.4" stroke="#4a4a4a" stroke-width="0.8"/>
<text x="430.9" y="286.3" font-size="5.5" font-weight="bold" fill="#111" font-family="Liberation Sans, Arial, sans-serif" text-anchor="end">100</text>
<line x1="431" y1="270.46" x2="432.8" y2="270.46" stroke="#4a4a4a" stroke-width="0.8"/>
<text x="430.9" y="272.36" font-size="5.5" font-weight="bold" fill="#111" font-family="Liberation Sans, Arial, sans-serif" text-anchor="end">125</text>
<line x1="431" y1="256.53" x2="432.8" y2="256.53" stroke="#4a4a4a" stroke-width="0.8"/>
<text x="430.9" y="258.43" font-size="5.5" font-weight="bold" fill="#111" font-family="Liberation Sans, Arial, sans-serif" text-anchor="end">150</text>
<line x1="431" y1="242.6" x2="432.8" y2="242.6" stroke="#4a4a4a" stroke-width="0.8"/>
<text x="430.9" y="244.5" font-size="5.5" font-weight="bold" fill="#111" font-family="Liberation Sans, Arial, sans-serif" text-anchor="end">175</text>
<line x1="431.7" y1="319.23" x2="432.8" y2="319.23" stroke="#4a4a4a" stroke-width="0.6"/>
<line x1="431.7" y1="305.3" x2="432.8" y2="305.3" stroke="#4a4a4a" stroke-width="0.6"/>
<line x1="431.7" y1="291.36" x2="432.8" y2="291.36" stroke="#4a4a4a" stroke-width="0.6"/>
<line x1="431.7" y1="277.43" x2="432.8" y2="277.43" stroke="#4a4a4a" stroke-width="0.6"/>
<line x1="431.7" y1="263.5" x2="432.8" y2="263.5" stroke="#4a4a4a" stroke-width="0.6"/>
<line x1="431.7" y1="249.57" x2="432.8" y2="249.57" stroke="#4a4a4a" stroke-width="0.6"/>
<line x1="432.8" y1="331.8" x2="432.8" y2="333.6" stroke="#4a4a4a" stroke-width="0.8"/>
<text x="432.8" y="338.6" font-size="5.5" font-weight="bold" fill="#111" font-family="Liberation Sans, Arial, sans-serif" text-anchor="middle">0.0</text>
<line x1="454.8" y1="331.8" x2="454.8" y2="333.6" stroke="#4a4a4a" stroke-width="0.8"/>
<text x="454.8" y="338.6" font-size="5.5" font-weight="bold" fill="#111" font-family="Liberation Sans, Arial, sans-serif" text-anchor="middle">0.2</text>
<line x1="476.8" y1="331.8" x2="476.8" y2="333.6" stroke="#4a4a4a" stroke-width="0.8"/>
<text x="476.8" y="338.6" font-size="5.5" font-weight="bold" fill="#111" font-family="Liberation Sans, Arial, sans-serif" text-anchor="middle">0.4</text>
<line x1="498.8" y1="331.8" x2="498.8" y2="333.6" stroke="#4a4a4a" stroke-width="0.8"/>
<text x="498.8" y="338.6" font-size="5.5" font-weight="bold" fill="#111" font-family="Liberation Sans, Arial, sans-serif" text-anchor="middle">0.6</text>
<line x1="520.8" y1="331.8" x2="520.8" y2="333.6" stroke="#4a4a4a" stroke-width="0.8"/>
<text x="520.8" y="338.6" font-size="5.5" font-weight="bold" fill="#111" font-family="Liberation Sans, Arial, sans-serif" text-anchor="middle">0.8</text>
<line x1="542.8" y1="331.8" x2="542.8" y2="333.6" stroke="#4a4a4a" stroke-width="0.8"/>
<text x="542.8" y="338.6" font-size="5.5" font-weight="bold" fill="#111" font-family="Liberation Sans, Arial, sans-serif" text-anchor="middle">1.0</text>
<line x1="443.8" y1="331.8" x2="443.8" y2="332.9" stroke="#4a4a4a" stroke-width="0.6"/>
<line x1="465.8" y1="331.8" x2="465.8" y2="332.9" stroke="#4a4a4a" stroke-width="0.6"/>
<line x1="487.8" y1="331.8" x2="487.8" y2="332.9" stroke="#4a4a4a" stroke-width="0.6"/>
<line x1="509.8" y1="331.8" x2="509.8" y2="332.9" stroke="#4a4a4a" stroke-width="0.6"/>
<line x1="531.8" y1="331.8" x2="531.8" y2="332.9" stroke="#4a4a4a" stroke-width="0.6"/>
<text x="487.3" y="346.4" font-size="7.5" font-weight="bold" fill="#111" font-family="Liberation Sans, Arial, sans-serif" text-anchor="middle">Relative Pressure (P/P<tspan font-size="5" dy="1.8">0</tspan><tspan dy="-1.8">)</tspan></text>
<text transform="translate(418.8,287.8) rotate(-90)" font-size="7.6" font-weight="bold" fill="#111" font-family="Liberation Sans, Arial, sans-serif" text-anchor="middle">Volume absorbed (cm<tspan font-size="4.8" dy="-2.6">3</tspan><tspan dy="2.6">/g)</tspan></text>
<text x="402.3" y="236.5" font-size="14.2" font-weight="bold" fill="#111" font-family="Liberation Serif, Times New Roman, serif" text-anchor="start">(l)</text></g>
</svg>
</body></html>
